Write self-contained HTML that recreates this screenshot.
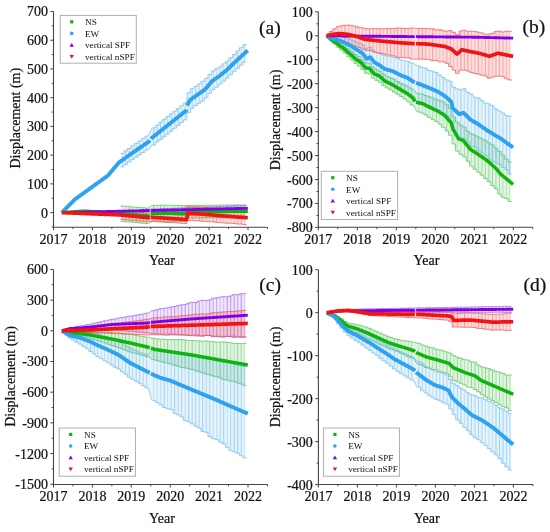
<!DOCTYPE html>
<html><head><meta charset="utf-8"><style>
html,body{margin:0;padding:0;background:#fff;width:550px;height:532px;overflow:hidden}
svg{display:block;filter:blur(0.3px)}
.tk{font-family:"Liberation Serif", serif;font-size:14px;fill:#111;stroke:#111;stroke-width:0.22px}
.lab{font-family:"Liberation Serif", serif;font-size:14px;fill:#111;stroke:#111;stroke-width:0.22px}
.pl{font-family:"Liberation Serif", serif;font-size:19.5px;fill:#111;stroke:#111;stroke-width:0.22px}
.lg{font-family:"Liberation Serif", serif;font-size:9.2px;fill:#111;}
</style></head><body>
<svg width="550" height="532" viewBox="0 0 550 532">
<rect width="550" height="532" fill="#fff"/>
<path d="M53.50,11.49 V227.20 H267.45" fill="none" stroke="#444" stroke-width="1.1"/>
<text x="47.90" y="217.60" text-anchor="end" class="tk">0</text>
<text x="47.90" y="188.87" text-anchor="end" class="tk">100</text>
<text x="47.90" y="160.14" text-anchor="end" class="tk">200</text>
<text x="47.90" y="131.41" text-anchor="end" class="tk">300</text>
<text x="47.90" y="102.68" text-anchor="end" class="tk">400</text>
<text x="47.90" y="73.95" text-anchor="end" class="tk">500</text>
<text x="47.90" y="45.22" text-anchor="end" class="tk">600</text>
<text x="47.90" y="16.49" text-anchor="end" class="tk">700</text>
<text x="53.50" y="243.50" text-anchor="middle" class="tk">2017</text>
<text x="92.40" y="243.50" text-anchor="middle" class="tk">2018</text>
<text x="131.30" y="243.50" text-anchor="middle" class="tk">2019</text>
<text x="170.20" y="243.50" text-anchor="middle" class="tk">2020</text>
<text x="209.10" y="243.50" text-anchor="middle" class="tk">2021</text>
<text x="248.00" y="243.50" text-anchor="middle" class="tk">2022</text>
<path d="M51.70,226.97H53.50M50.30,212.60H53.50M51.70,198.23H53.50M50.30,183.87H53.50M51.70,169.50H53.50M50.30,155.14H53.50M51.70,140.77H53.50M50.30,126.41H53.50M51.70,112.04H53.50M50.30,97.68H53.50M51.70,83.31H53.50M50.30,68.95H53.50M51.70,54.59H53.50M50.30,40.22H53.50M51.70,25.85H53.50M50.30,11.49H53.50M53.50,227.20V230.20M72.95,227.20V229.00M92.40,227.20V230.20M111.85,227.20V229.00M131.30,227.20V230.20M150.75,227.20V229.00M170.20,227.20V230.20M189.65,227.20V229.00M209.10,227.20V230.20M228.55,227.20V229.00M248.00,227.20V230.20M267.45,227.20V229.00" fill="none" stroke="#444" stroke-width="1"/>
<text x="162.00" y="265.00" text-anchor="middle" class="lab">Year</text>
<text transform="translate(19.60,118.20) rotate(-90)" text-anchor="middle" class="lab">Displacement (m)</text>
<text x="259.00" y="33.60" class="pl">(a)</text>
<polygon points="122.16,206.00 125.66,206.26 129.16,206.70 132.66,206.98 136.16,207.29 139.66,207.51 143.16,207.69 146.67,208.08 153.67,205.33 157.17,205.49 160.67,205.26 164.17,205.12 167.67,205.31 171.17,205.13 174.67,205.35 178.17,205.49 181.68,205.38 185.18,205.50 188.68,205.53 192.18,205.35 195.68,205.39 199.18,205.23 202.68,205.44 206.18,205.25 209.68,205.24 213.18,205.19 216.69,205.20 220.19,205.00 223.69,204.97 227.19,205.01 230.69,205.01 234.19,204.89 237.69,204.90 241.19,205.05 244.69,205.00 244.69,217.39 241.19,217.40 237.69,217.62 234.19,217.70 230.69,217.65 227.19,217.71 223.69,217.82 220.19,217.86 216.69,217.73 213.18,217.80 209.68,217.82 206.18,217.88 202.68,217.75 199.18,218.03 195.68,217.94 192.18,218.05 188.68,217.93 185.18,221.40 181.68,221.47 178.17,221.30 174.67,221.39 171.17,221.54 167.67,221.31 164.17,221.44 160.67,221.25 157.17,220.97 153.67,221.07 146.67,223.58 143.16,223.35 139.66,222.92 136.16,222.53 132.66,222.22 129.16,221.89 125.66,221.72 122.16,221.37" fill="rgba(0,170,0,0.12)"/>
<path d="M122.16,206.00V221.37M125.66,206.26V221.72M139.66,207.51V222.92M143.16,207.69V223.35M157.17,205.49V220.97M167.67,205.31V221.31M171.17,205.13V221.54M174.67,205.35V221.39M178.17,205.49V221.30M192.18,205.35V218.05M202.68,205.44V217.75M216.69,205.20V217.73M223.69,204.97V217.82M237.69,204.90V217.62" stroke="#7fcc7f" stroke-opacity="0.55" stroke-width="0.8" fill="none"/>
<path d="M209.68,205.24V217.82M213.18,205.19V217.80M230.69,205.01V217.65M234.19,204.89V217.70M241.19,205.05V217.40M244.69,205.00V217.39" stroke="#7fcc7f" stroke-opacity="0.8" stroke-width="0.8" fill="none"/>
<path d="M129.16,206.70V221.89M132.66,206.98V222.22M136.16,207.29V222.53M146.67,208.08V223.58M153.67,205.33V221.07M160.67,205.26V221.25M164.17,205.12V221.44M181.68,205.38V221.47M185.18,205.50V221.40M188.68,205.53V217.93M195.68,205.39V217.94M199.18,205.23V218.03M206.18,205.25V217.88M220.19,205.00V217.86M227.19,205.01V217.71" stroke="#7fcc7f" stroke-opacity="1.0" stroke-width="0.8" fill="none"/>
<path d="M120.41,206.00H123.91L123.91,206.26H127.41L127.41,206.70H130.91L130.91,206.98H134.41L134.41,207.29H137.91L137.91,207.51H141.41L141.41,207.69H144.91L144.91,208.08H148.42L151.92,205.33H155.42L155.42,205.49H158.92L158.92,205.26H162.42L162.42,205.12H165.92L165.92,205.31H169.42L169.42,205.13H172.92L172.92,205.35H176.42L176.42,205.49H179.92L179.92,205.38H183.43L183.43,205.50H186.93L186.93,205.53H190.43L190.43,205.35H193.93L193.93,205.39H197.43L197.43,205.23H200.93L200.93,205.44H204.43L204.43,205.25H207.93L207.93,205.24H211.43L211.43,205.19H214.93L214.93,205.20H218.44L218.44,205.00H221.94L221.94,204.97H225.44L225.44,205.01H228.94L228.94,205.01H232.44L232.44,204.89H235.94L235.94,204.90H239.44L239.44,205.05H242.94L242.94,205.00H246.44M120.41,221.37H123.91L123.91,221.72H127.41L127.41,221.89H130.91L130.91,222.22H134.41L134.41,222.53H137.91L137.91,222.92H141.41L141.41,223.35H144.91L144.91,223.58H148.42L151.92,221.07H155.42L155.42,220.97H158.92L158.92,221.25H162.42L162.42,221.44H165.92L165.92,221.31H169.42L169.42,221.54H172.92L172.92,221.39H176.42L176.42,221.30H179.92L179.92,221.47H183.43L183.43,221.40H186.93L186.93,217.93H190.43L190.43,218.05H193.93L193.93,217.94H197.43L197.43,218.03H200.93L200.93,217.75H204.43L204.43,217.88H207.93L207.93,217.82H211.43L211.43,217.80H214.93L214.93,217.73H218.44L218.44,217.86H221.94L221.94,217.82H225.44L225.44,217.71H228.94L228.94,217.65H232.44L232.44,217.70H235.94L235.94,217.62H239.44L239.44,217.40H242.94L242.94,217.39H246.44" stroke="#55c055" stroke-width="0.7" fill="none"/>
<polygon points="122.16,153.49 125.66,150.86 129.16,148.49 132.66,145.78 136.16,143.48 139.66,140.97 143.16,138.49 146.67,136.07 153.67,127.86 157.17,125.28 160.67,122.17 164.17,119.44 167.67,116.53 171.17,113.80 174.67,111.20 178.17,108.41 181.68,105.75 185.18,102.91 188.68,92.81 192.18,88.63 195.68,86.49 199.18,83.98 202.68,81.38 206.18,78.43 209.68,74.56 213.18,71.07 216.69,68.60 220.19,66.68 223.69,63.86 227.19,61.21 230.69,57.81 234.19,54.54 237.69,50.98 241.19,47.70 244.69,44.49 244.69,61.92 241.19,65.01 237.69,68.26 234.19,71.26 230.69,74.72 227.19,78.04 223.69,81.16 220.19,84.06 216.69,87.18 213.18,89.60 209.68,93.37 206.18,97.67 202.68,100.89 199.18,103.19 195.68,105.57 192.18,108.33 188.68,112.43 185.18,119.86 181.68,122.59 178.17,125.50 174.67,128.28 171.17,131.26 167.67,134.10 164.17,136.76 160.67,139.61 157.17,142.07 153.67,145.07 146.67,150.14 143.16,152.52 139.66,154.84 136.16,157.14 132.66,159.63 129.16,161.93 125.66,164.59 122.16,166.99" fill="rgba(40,160,230,0.12)"/>
<path d="M143.16,138.49V152.52M181.68,105.75V122.59M188.68,92.81V112.43M216.69,68.60V87.18M220.19,66.68V84.06M223.69,63.86V81.16M241.19,47.70V65.01" stroke="#88c6ee" stroke-opacity="0.55" stroke-width="0.8" fill="none"/>
<path d="M122.16,153.49V166.99M132.66,145.78V159.63M136.16,143.48V157.14M146.67,136.07V150.14M167.67,116.53V134.10M174.67,111.20V128.28M185.18,102.91V119.86M192.18,88.63V108.33M195.68,86.49V105.57M199.18,83.98V103.19M202.68,81.38V100.89M206.18,78.43V97.67M209.68,74.56V93.37M213.18,71.07V89.60M230.69,57.81V74.72M234.19,54.54V71.26" stroke="#88c6ee" stroke-opacity="0.8" stroke-width="0.8" fill="none"/>
<path d="M125.66,150.86V164.59M129.16,148.49V161.93M139.66,140.97V154.84M153.67,127.86V145.07M157.17,125.28V142.07M160.67,122.17V139.61M164.17,119.44V136.76M171.17,113.80V131.26M178.17,108.41V125.50M227.19,61.21V78.04M237.69,50.98V68.26M244.69,44.49V61.92" stroke="#88c6ee" stroke-opacity="1.0" stroke-width="0.8" fill="none"/>
<path d="M120.41,153.49H123.91L123.91,150.86H127.41L127.41,148.49H130.91L130.91,145.78H134.41L134.41,143.48H137.91L137.91,140.97H141.41L141.41,138.49H144.91L144.91,136.07H148.42L151.92,127.86H155.42L155.42,125.28H158.92L158.92,122.17H162.42L162.42,119.44H165.92L165.92,116.53H169.42L169.42,113.80H172.92L172.92,111.20H176.42L176.42,108.41H179.92L179.92,105.75H183.43L183.43,102.91H186.93L186.93,92.81H190.43L190.43,88.63H193.93L193.93,86.49H197.43L197.43,83.98H200.93L200.93,81.38H204.43L204.43,78.43H207.93L207.93,74.56H211.43L211.43,71.07H214.93L214.93,68.60H218.44L218.44,66.68H221.94L221.94,63.86H225.44L225.44,61.21H228.94L228.94,57.81H232.44L232.44,54.54H235.94L235.94,50.98H239.44L239.44,47.70H242.94L242.94,44.49H246.44M120.41,166.99H123.91L123.91,164.59H127.41L127.41,161.93H130.91L130.91,159.63H134.41L134.41,157.14H137.91L137.91,154.84H141.41L141.41,152.52H144.91L144.91,150.14H148.42L151.92,145.07H155.42L155.42,142.07H158.92L158.92,139.61H162.42L162.42,136.76H165.92L165.92,134.10H169.42L169.42,131.26H172.92L172.92,128.28H176.42L176.42,125.50H179.92L179.92,122.59H183.43L183.43,119.86H186.93L186.93,112.43H190.43L190.43,108.33H193.93L193.93,105.57H197.43L197.43,103.19H200.93L200.93,100.89H204.43L204.43,97.67H207.93L207.93,93.37H211.43L211.43,89.60H214.93L214.93,87.18H218.44L218.44,84.06H221.94L221.94,81.16H225.44L225.44,78.04H228.94L228.94,74.72H232.44L232.44,71.26H235.94L235.94,68.26H239.44L239.44,65.01H242.94L242.94,61.92H246.44" stroke="#6cbcec" stroke-width="0.7" fill="none"/>
<polygon points="143.16,209.46 146.67,209.33 153.67,209.00 157.17,208.91 160.67,208.80 164.17,208.59 167.67,208.50 171.17,208.41 174.67,208.20 178.17,208.12 181.68,208.00 185.18,207.86 188.68,207.71 192.18,207.55 195.68,207.39 199.18,207.23 202.68,207.13 206.18,207.02 209.68,206.91 213.18,206.75 216.69,206.64 220.19,206.47 223.69,206.30 227.19,206.18 230.69,206.13 234.19,205.97 237.69,205.73 241.19,205.68 244.69,205.51 244.69,211.22 241.19,211.21 237.69,211.33 234.19,211.25 230.69,211.25 227.19,211.37 223.69,211.40 220.19,211.40 216.69,211.39 213.18,211.44 209.68,211.45 206.18,211.50 202.68,211.55 199.18,211.61 195.68,211.61 192.18,211.61 188.68,211.62 185.18,211.63 181.68,211.65 178.17,211.69 174.67,211.77 171.17,211.73 167.67,211.80 164.17,211.88 160.67,211.82 157.17,211.87 153.67,211.95 146.67,211.94 143.16,211.97" fill="rgba(130,40,230,0.12)"/>
<path d="M157.17,208.91V211.87M171.17,208.41V211.73M181.68,208.00V211.65M192.18,207.55V211.61M199.18,207.23V211.61M206.18,207.02V211.50M209.68,206.91V211.45M216.69,206.64V211.39M220.19,206.47V211.40M227.19,206.18V211.37M234.19,205.97V211.25M241.19,205.68V211.21" stroke="#ad7cf0" stroke-opacity="0.55" stroke-width="0.8" fill="none"/>
<path d="M143.16,209.46V211.97M146.67,209.33V211.94M160.67,208.80V211.82M164.17,208.59V211.88M167.67,208.50V211.80M195.68,207.39V211.61M202.68,207.13V211.55M223.69,206.30V211.40M230.69,206.13V211.25M237.69,205.73V211.33M244.69,205.51V211.22" stroke="#ad7cf0" stroke-opacity="0.8" stroke-width="0.8" fill="none"/>
<path d="M153.67,209.00V211.95M174.67,208.20V211.77M178.17,208.12V211.69M185.18,207.86V211.63M188.68,207.71V211.62M213.18,206.75V211.44" stroke="#ad7cf0" stroke-opacity="1.0" stroke-width="0.8" fill="none"/>
<path d="M141.41,209.46H144.91L144.91,209.33H148.42L151.92,209.00H155.42L155.42,208.91H158.92L158.92,208.80H162.42L162.42,208.59H165.92L165.92,208.50H169.42L169.42,208.41H172.92L172.92,208.20H176.42L176.42,208.12H179.92L179.92,208.00H183.43L183.43,207.86H186.93L186.93,207.71H190.43L190.43,207.55H193.93L193.93,207.39H197.43L197.43,207.23H200.93L200.93,207.13H204.43L204.43,207.02H207.93L207.93,206.91H211.43L211.43,206.75H214.93L214.93,206.64H218.44L218.44,206.47H221.94L221.94,206.30H225.44L225.44,206.18H228.94L228.94,206.13H232.44L232.44,205.97H235.94L235.94,205.73H239.44L239.44,205.68H242.94L242.94,205.51H246.44M141.41,211.97H144.91L144.91,211.94H148.42L151.92,211.95H155.42L155.42,211.87H158.92L158.92,211.82H162.42L162.42,211.88H165.92L165.92,211.80H169.42L169.42,211.73H172.92L172.92,211.77H176.42L176.42,211.69H179.92L179.92,211.65H183.43L183.43,211.63H186.93L186.93,211.62H190.43L190.43,211.61H193.93L193.93,211.61H197.43L197.43,211.61H200.93L200.93,211.55H204.43L204.43,211.50H207.93L207.93,211.45H211.43L211.43,211.44H214.93L214.93,211.39H218.44L218.44,211.40H221.94L221.94,211.40H225.44L225.44,211.37H228.94L228.94,211.25H232.44L232.44,211.25H235.94L235.94,211.33H239.44L239.44,211.21H242.94L242.94,211.22H246.44" stroke="#9a60ee" stroke-width="0.7" fill="none"/>
<polygon points="122.16,210.86 125.66,211.08 129.16,211.66 132.66,211.98 136.16,212.31 139.66,212.59 143.16,212.89 146.67,213.23 153.67,213.15 157.17,213.38 160.67,213.60 164.17,213.88 167.67,214.08 171.17,214.35 174.67,214.76 178.17,214.93 181.68,215.08 185.18,215.33 188.68,206.39 192.18,206.89 195.68,206.77 199.18,207.00 202.68,207.06 206.18,207.39 209.68,207.86 213.18,208.39 216.69,208.44 220.19,208.71 223.69,209.11 227.19,209.20 230.69,209.79 234.19,209.94 237.69,210.01 241.19,210.47 244.69,210.49 244.69,224.56 241.19,224.06 237.69,224.01 234.19,223.56 230.69,223.19 227.19,223.26 223.69,222.84 220.19,222.71 216.69,222.36 213.18,221.79 209.68,221.69 206.18,221.54 202.68,221.25 199.18,220.88 195.68,220.81 192.18,220.39 188.68,220.59 185.18,223.49 181.68,223.29 178.17,222.99 174.67,222.71 171.17,222.67 167.67,222.48 164.17,222.24 160.67,222.07 157.17,221.84 153.67,221.62 146.67,221.82 143.16,221.48 139.66,221.10 136.16,220.70 132.66,220.35 129.16,219.99 125.66,219.89 122.16,219.43" fill="rgba(240,40,40,0.16)"/>
<path d="M129.16,211.66V219.99M132.66,211.98V220.35M153.67,213.15V221.62M157.17,213.38V221.84M181.68,215.08V223.29M185.18,215.33V223.49M188.68,206.39V220.59M195.68,206.77V220.81M206.18,207.39V221.54M209.68,207.86V221.69M220.19,208.71V222.71M223.69,209.11V222.84M227.19,209.20V223.26M230.69,209.79V223.19M234.19,209.94V223.56M244.69,210.49V224.56" stroke="#ee8888" stroke-opacity="0.55" stroke-width="0.8" fill="none"/>
<path d="M125.66,211.08V219.89M136.16,212.31V220.70M143.16,212.89V221.48M146.67,213.23V221.82M164.17,213.88V222.24M167.67,214.08V222.48M171.17,214.35V222.67M178.17,214.93V222.99M192.18,206.89V220.39M237.69,210.01V224.01M241.19,210.47V224.06" stroke="#ee8888" stroke-opacity="0.8" stroke-width="0.8" fill="none"/>
<path d="M122.16,210.86V219.43M139.66,212.59V221.10M160.67,213.60V222.07M174.67,214.76V222.71M199.18,207.00V220.88M202.68,207.06V221.25M213.18,208.39V221.79M216.69,208.44V222.36" stroke="#ee8888" stroke-opacity="1.0" stroke-width="0.8" fill="none"/>
<path d="M120.41,210.86H123.91L123.91,211.08H127.41L127.41,211.66H130.91L130.91,211.98H134.41L134.41,212.31H137.91L137.91,212.59H141.41L141.41,212.89H144.91L144.91,213.23H148.42L151.92,213.15H155.42L155.42,213.38H158.92L158.92,213.60H162.42L162.42,213.88H165.92L165.92,214.08H169.42L169.42,214.35H172.92L172.92,214.76H176.42L176.42,214.93H179.92L179.92,215.08H183.43L183.43,215.33H186.93L186.93,206.39H190.43L190.43,206.89H193.93L193.93,206.77H197.43L197.43,207.00H200.93L200.93,207.06H204.43L204.43,207.39H207.93L207.93,207.86H211.43L211.43,208.39H214.93L214.93,208.44H218.44L218.44,208.71H221.94L221.94,209.11H225.44L225.44,209.20H228.94L228.94,209.79H232.44L232.44,209.94H235.94L235.94,210.01H239.44L239.44,210.47H242.94L242.94,210.49H246.44M120.41,219.43H123.91L123.91,219.89H127.41L127.41,219.99H130.91L130.91,220.35H134.41L134.41,220.70H137.91L137.91,221.10H141.41L141.41,221.48H144.91L144.91,221.82H148.42L151.92,221.62H155.42L155.42,221.84H158.92L158.92,222.07H162.42L162.42,222.24H165.92L165.92,222.48H169.42L169.42,222.67H172.92L172.92,222.71H176.42L176.42,222.99H179.92L179.92,223.29H183.43L183.43,223.49H186.93L186.93,220.59H190.43L190.43,220.39H193.93L193.93,220.81H197.43L197.43,220.88H200.93L200.93,221.25H204.43L204.43,221.54H207.93L207.93,221.69H211.43L211.43,221.79H214.93L214.93,222.36H218.44L218.44,222.71H221.94L221.94,222.84H225.44L225.44,223.26H228.94L228.94,223.19H232.44L232.44,223.56H235.94L235.94,224.01H239.44L239.44,224.06H242.94L242.94,224.56H246.44" stroke="#ee5050" stroke-width="0.7" fill="none"/>
<polyline points="61.86,212.60 62.25,212.58 62.64,212.55 63.03,212.53 63.42,212.50 63.81,212.48 64.20,212.45 64.59,212.43 64.98,212.40 65.36,212.38 65.75,212.35 66.14,212.33 66.53,212.31 66.92,212.28 67.31,212.26 67.70,212.23 68.09,212.21 68.48,212.18 68.87,212.16 69.25,212.13 69.64,212.11 70.03,212.08 70.42,212.06 70.81,212.04 71.20,212.01 71.59,211.99 71.98,211.96 72.37,211.94 72.76,211.91 73.14,211.89 73.53,211.86 73.92,211.84 74.31,211.81 74.70,211.79 75.09,211.77 75.48,211.74 75.87,211.72 76.26,211.69 76.65,211.67 77.03,211.64 77.42,211.62 77.81,211.59 78.20,211.57 78.59,211.54 78.98,211.52 79.37,211.50 79.76,211.47 80.15,211.45 80.54,211.42 80.92,211.40 81.31,211.37 81.70,211.35 82.09,211.32 82.48,211.30 82.87,211.27 83.26,211.25 83.65,211.22 84.04,211.20 84.43,211.18 84.81,211.18 85.20,211.20 85.59,211.23 85.98,211.25 86.37,211.28 86.76,211.30 87.15,211.33 87.54,211.36 87.93,211.38 88.32,211.41 88.70,211.43 89.09,211.46 89.48,211.48 89.87,211.51 90.26,211.53 90.65,211.56 91.04,211.58 91.43,211.61 91.82,211.64 92.21,211.66 92.59,211.69 92.98,211.71 93.37,211.74 93.76,211.76 94.15,211.79 94.54,211.81 94.93,211.84 95.32,211.87 95.71,211.89 96.10,211.92 96.48,211.94 96.87,211.97 97.26,211.99 97.65,212.02 98.04,212.04 98.43,212.07 98.82,212.10 99.21,212.12 99.60,212.15 99.99,212.17 100.37,212.20 100.76,212.22 101.15,212.25 101.54,212.27 101.93,212.30 102.32,212.33 102.71,212.35 103.10,212.38 103.49,212.40 103.88,212.43 104.26,212.45 104.65,212.48 105.04,212.50 105.43,212.53 105.82,212.56 106.21,212.58 106.60,212.61 106.99,212.63 107.38,212.66 107.77,212.68 108.15,212.71 108.54,212.73 108.93,212.76 109.32,212.79 109.71,212.81 110.10,212.84 110.49,212.86 110.88,212.89 111.27,212.91 111.66,212.94 112.04,212.96 112.43,212.99 112.82,213.01 113.21,213.04 113.60,213.07 113.99,213.09 114.38,213.12 114.77,213.14 115.16,213.17 115.55,213.19 115.93,213.22 116.32,213.24 116.71,213.27 117.10,213.30 117.49,213.32 117.88,213.35 118.27,213.37 118.66,213.40 119.05,213.42 119.44,213.45 119.82,213.48 120.21,213.51 120.60,213.55 120.99,213.58 121.38,213.62 121.77,213.65 122.16,213.68 122.55,213.72 122.94,213.75 123.33,213.79 123.71,213.82 124.10,213.85 124.49,213.89 124.88,213.92 125.27,213.96 125.66,213.99 126.05,214.02 126.44,214.06 126.83,214.09 127.22,214.13 127.60,214.16 127.99,214.19 128.38,214.23 128.77,214.26 129.16,214.30 129.55,214.33 129.94,214.36 130.33,214.40 130.72,214.43 131.11,214.47 131.49,214.50 131.88,214.53 132.27,214.57 132.66,214.60 133.05,214.64 133.44,214.67 133.83,214.70 134.22,214.74 134.61,214.77 135.00,214.81 135.38,214.84 135.77,214.87 136.16,214.91 136.55,214.94 136.94,214.98 137.33,215.01 137.72,215.04 138.11,215.08 138.50,215.11 138.89,215.15 139.27,215.18 139.66,215.21 140.05,215.25 140.44,215.28 140.83,215.32 141.22,215.35 141.61,215.38 142.00,215.42 142.39,215.45 142.78,215.49 143.16,215.52 143.55,215.55 143.94,215.59 144.33,215.62 144.72,215.66 145.11,215.69 145.50,215.72 145.89,215.76 146.28,215.79 146.67,215.83 147.05,215.86 147.44,215.89 147.83,215.93 148.22,215.96 148.61,216.00 149.00,216.03 149.39,215.69 149.78,214.97" fill="none" stroke="#0db40d" stroke-width="3.5" stroke-linejoin="round" stroke-linecap="butt"/>
<polyline points="150.94,213.18 151.33,213.18 151.72,213.18 152.11,213.19 152.50,213.19 152.89,213.19 153.28,213.19 153.67,213.20 154.06,213.20 154.45,213.20 154.83,213.21 155.22,213.21 155.61,213.21 156.00,213.22 156.39,213.22 156.78,213.22 157.17,213.23 157.56,213.23 157.95,213.23 158.34,213.24 158.72,213.24 159.11,213.24 159.50,213.24 159.89,213.25 160.28,213.25 160.67,213.25 161.06,213.26 161.45,213.26 161.84,213.26 162.23,213.27 162.61,213.27 163.00,213.27 163.39,213.28 163.78,213.28 164.17,213.28 164.56,213.29 164.95,213.29 165.34,213.29 165.73,213.29 166.12,213.30 166.50,213.30 166.89,213.30 167.28,213.31 167.67,213.31 168.06,213.31 168.45,213.32 168.84,213.32 169.23,213.32 169.62,213.33 170.01,213.33 170.39,213.33 170.78,213.34 171.17,213.34 171.56,213.34 171.95,213.34 172.34,213.35 172.73,213.35 173.12,213.35 173.51,213.36 173.90,213.36 174.28,213.36 174.67,213.37 175.06,213.37 175.45,213.37 175.84,213.38 176.23,213.38 176.62,213.38 177.01,213.39 177.40,213.39 177.79,213.39 178.17,213.39 178.56,213.40 178.95,213.40 179.34,213.40 179.73,213.41 180.12,213.41 180.51,213.41 180.90,213.42 181.29,213.42 181.68,213.42 182.06,213.43 182.45,213.43 182.84,213.43 183.23,213.44 183.62,213.44 184.01,213.44 184.40,213.44 184.79,213.45 185.18,213.45 185.57,213.45 185.95,213.46 186.34,213.46 186.73,213.25 187.12,212.82 187.51,212.38 187.90,211.95 188.29,211.74 188.68,211.73 189.07,211.73 189.46,211.73 189.84,211.72 190.23,211.72 190.62,211.71 191.01,211.71 191.40,211.71 191.79,211.70 192.18,211.70 192.57,211.70 192.96,211.69 193.35,211.69 193.73,211.68 194.12,211.68 194.51,211.68 194.90,211.67 195.29,211.67 195.68,211.67 196.07,211.66 196.46,211.66 196.85,211.65 197.24,211.65 197.62,211.65 198.01,211.64 198.40,211.64 198.79,211.64 199.18,211.63 199.57,211.63 199.96,211.62 200.35,211.62 200.74,211.62 201.13,211.61 201.51,211.61 201.90,211.61 202.29,211.60 202.68,211.60 203.07,211.59 203.46,211.59 203.85,211.59 204.24,211.58 204.63,211.58 205.02,211.58 205.40,211.57 205.79,211.57 206.18,211.56 206.57,211.56 206.96,211.56 207.35,211.55 207.74,211.55 208.13,211.55 208.52,211.54 208.91,211.54 209.29,211.53 209.68,211.53 210.07,211.53 210.46,211.52 210.85,211.52 211.24,211.52 211.63,211.51 212.02,211.51 212.41,211.50 212.80,211.50 213.18,211.50 213.57,211.49 213.96,211.49 214.35,211.49 214.74,211.48 215.13,211.48 215.52,211.48 215.91,211.47 216.30,211.47 216.69,211.46 217.07,211.46 217.46,211.46 217.85,211.45 218.24,211.45 218.63,211.45 219.02,211.44 219.41,211.44 219.80,211.43 220.19,211.43 220.58,211.43 220.96,211.42 221.35,211.42 221.74,211.42 222.13,211.41 222.52,211.41 222.91,211.40 223.30,211.40 223.69,211.40 224.08,211.39 224.47,211.39 224.85,211.39 225.24,211.38 225.63,211.38 226.02,211.37 226.41,211.37 226.80,211.37 227.19,211.36 227.58,211.36 227.97,211.36 228.36,211.35 228.74,211.35 229.13,211.34 229.52,211.34 229.91,211.34 230.30,211.33 230.69,211.33 231.08,211.33 231.47,211.32 231.86,211.32 232.25,211.31 232.63,211.31 233.02,211.31 233.41,211.30 233.80,211.30 234.19,211.30 234.58,211.29 234.97,211.29 235.36,211.28 235.75,211.28 236.14,211.28 236.52,211.27 236.91,211.27 237.30,211.27 237.69,211.26 238.08,211.26 238.47,211.25 238.86,211.25 239.25,211.25 239.64,211.24 240.03,211.24 240.41,211.24 240.80,211.23 241.19,211.23 241.58,211.23 241.97,211.22 242.36,211.22 242.75,211.21 243.14,211.21 243.53,211.21 243.92,211.20 244.30,211.20 244.69,211.20 245.08,211.19 245.47,211.19 245.86,211.18 246.25,211.18 246.64,211.18 247.03,211.17 247.42,211.17 247.81,211.17" fill="none" stroke="#0db40d" stroke-width="3.5" stroke-linejoin="round" stroke-linecap="butt"/>
<polyline points="61.86,212.60 62.25,212.21 62.64,211.81 63.03,211.42 63.42,211.02 63.81,210.63 64.20,210.23 64.59,209.84 64.98,209.44 65.36,209.05 65.75,208.65 66.14,208.26 66.53,207.87 66.92,207.47 67.31,207.08 67.70,206.68 68.09,206.29 68.48,205.89 68.87,205.50 69.25,205.10 69.64,204.71 70.03,204.32 70.42,203.92 70.81,203.53 71.20,203.13 71.59,202.74 71.98,202.34 72.37,201.95 72.76,201.55 73.14,201.16 73.53,200.76 73.92,200.37 74.31,199.98 74.70,199.58 75.09,199.24 75.48,198.96 75.87,198.68 76.26,198.40 76.65,198.12 77.03,197.84 77.42,197.56 77.81,197.28 78.20,197.00 78.59,196.72 78.98,196.44 79.37,196.16 79.76,195.88 80.15,195.60 80.54,195.32 80.92,195.04 81.31,194.76 81.70,194.47 82.09,194.19 82.48,193.91 82.87,193.63 83.26,193.35 83.65,193.07 84.04,192.79 84.43,192.51 84.81,192.23 85.20,191.95 85.59,191.67 85.98,191.39 86.37,191.11 86.76,190.83 87.15,190.55 87.54,190.27 87.93,189.99 88.32,189.71 88.70,189.43 89.09,189.14 89.48,188.86 89.87,188.58 90.26,188.30 90.65,188.02 91.04,187.74 91.43,187.46 91.82,187.18 92.21,186.90 92.59,186.62 92.98,186.34 93.37,186.06 93.76,185.78 94.15,185.50 94.54,185.22 94.93,184.94 95.32,184.66 95.71,184.38 96.10,184.09 96.48,183.81 96.87,183.53 97.26,183.25 97.65,182.97 98.04,182.69 98.43,182.41 98.82,182.13 99.21,181.85 99.60,181.57 99.99,181.29 100.37,181.01 100.76,180.73 101.15,180.45 101.54,180.17 101.93,179.89 102.32,179.61 102.71,179.33 103.10,179.05 103.49,178.76 103.88,178.48 104.26,178.20 104.65,177.92 105.04,177.64 105.43,177.36 105.82,177.08 106.21,176.80 106.60,176.52 106.99,176.24 107.38,175.96 107.77,175.68 108.15,175.31 108.54,174.85 108.93,174.38 109.32,173.92 109.71,173.46 110.10,173.00 110.49,172.54 110.88,172.08 111.27,171.61 111.66,171.15 112.04,170.69 112.43,170.23 112.82,169.77 113.21,169.30 113.60,168.84 113.99,168.38 114.38,167.92 114.77,167.46 115.16,167.00 115.55,166.53 115.93,166.07 116.32,165.61 116.71,165.15 117.10,164.69 117.49,164.23 117.88,163.76 118.27,163.30 118.66,162.84 119.05,162.47 119.44,162.19 119.82,161.91 120.21,161.63 120.60,161.35 120.99,161.07 121.38,160.80 121.77,160.52 122.16,160.24 122.55,159.96 122.94,159.68 123.33,159.40 123.71,159.12 124.10,158.84 124.49,158.56 124.88,158.28 125.27,158.00 125.66,157.73 126.05,157.45 126.44,157.17 126.83,156.89 127.22,156.61 127.60,156.33 127.99,156.05 128.38,155.77 128.77,155.49 129.16,155.21 129.55,154.93 129.94,154.66 130.33,154.38 130.72,154.10 131.11,153.82 131.49,153.54 131.88,153.26 132.27,152.98 132.66,152.71 133.05,152.44 133.44,152.17 133.83,151.91 134.22,151.64 134.61,151.37 135.00,151.11 135.38,150.84 135.77,150.57 136.16,150.31 136.55,150.04 136.94,149.77 137.33,149.51 137.72,149.24 138.11,148.97 138.50,148.71 138.89,148.44 139.27,148.17 139.66,147.91 140.05,147.64 140.44,147.37 140.83,147.11 141.22,146.84 141.61,146.57 142.00,146.31 142.39,146.04 142.78,145.77 143.16,145.51 143.55,145.24 143.94,144.97 144.33,144.70 144.72,144.44 145.11,144.17 145.50,143.90 145.89,143.64 146.28,143.37 146.67,143.10 147.05,142.84 147.44,142.57 147.83,142.30 148.22,142.04 148.61,141.77 149.00,141.37 149.39,140.85 149.78,140.32" fill="none" stroke="#2ea2f0" stroke-width="3.9" stroke-linejoin="round" stroke-linecap="butt"/>
<polyline points="150.94,138.74 151.33,138.32 151.72,138.01 152.11,137.70 152.50,137.39 152.89,137.08 153.28,136.77 153.67,136.46 154.06,136.15 154.45,135.84 154.83,135.53 155.22,135.23 155.61,134.92 156.00,134.61 156.39,134.30 156.78,133.99 157.17,133.68 157.56,133.37 157.95,133.06 158.34,132.75 158.72,132.44 159.11,132.13 159.50,131.82 159.89,131.51 160.28,131.20 160.67,130.89 161.06,130.58 161.45,130.27 161.84,129.96 162.23,129.65 162.61,129.34 163.00,129.03 163.39,128.72 163.78,128.41 164.17,128.10 164.56,127.79 164.95,127.48 165.34,127.17 165.73,126.86 166.12,126.56 166.50,126.25 166.89,125.94 167.28,125.63 167.67,125.32 168.06,125.01 168.45,124.70 168.84,124.39 169.23,124.08 169.62,123.77 170.01,123.46 170.39,123.15 170.78,122.84 171.17,122.53 171.56,122.22 171.95,121.91 172.34,121.60 172.73,121.29 173.12,120.98 173.51,120.67 173.90,120.36 174.28,120.05 174.67,119.74 175.06,119.43 175.45,119.12 175.84,118.81 176.23,118.50 176.62,118.19 177.01,117.89 177.40,117.58 177.79,117.27 178.17,116.96 178.56,116.65 178.95,116.34 179.34,116.03 179.73,115.72 180.12,115.41 180.51,115.10 180.90,114.79 181.29,114.48 181.68,114.17 182.06,113.86 182.45,113.55 182.84,113.24 183.23,112.93 183.62,112.62 184.01,112.31 184.40,112.00 184.79,111.69 185.18,111.38 185.57,111.07 185.95,110.76 186.34,109.46" fill="none" stroke="#2ea2f0" stroke-width="3.9" stroke-linejoin="round" stroke-linecap="butt"/>
<polyline points="187.12,105.63 187.51,104.88 187.90,104.13 188.29,103.37 188.68,102.62 189.07,101.86 189.46,101.11 189.84,100.36 190.23,99.84 190.62,99.57 191.01,99.30 191.40,99.03 191.79,98.75 192.18,98.48 192.57,98.21 192.96,97.94 193.35,97.66 193.73,97.39 194.12,97.12 194.51,96.85 194.90,96.58 195.29,96.30 195.68,96.03 196.07,95.76 196.46,95.49 196.85,95.22 197.24,94.94 197.62,94.67 198.01,94.40 198.40,94.13 198.79,93.85 199.18,93.58 199.57,93.31 199.96,93.04 200.35,92.77 200.74,92.49 201.13,92.22 201.51,91.95 201.90,91.68 202.29,91.40 202.68,91.13 203.07,90.86 203.46,90.59 203.85,90.32 204.24,90.04 204.63,89.77 205.02,89.41 205.40,88.96 205.79,88.50 206.18,88.05 206.57,87.59 206.96,87.14 207.35,86.69 207.74,86.23 208.13,85.78 208.52,85.33 208.91,84.87 209.29,84.42 209.68,83.97 210.07,83.51 210.46,83.06 210.85,82.60 211.24,82.15 211.63,81.70 212.02,81.24 212.41,80.88 212.80,80.61 213.18,80.34 213.57,80.06 213.96,79.79 214.35,79.52 214.74,79.25 215.13,78.98 215.52,78.70 215.91,78.43 216.30,78.16 216.69,77.89 217.07,77.61 217.46,77.34 217.85,77.07 218.24,76.80 218.63,76.53 219.02,76.25 219.41,75.98 219.80,75.69 220.19,75.37 220.58,75.05 220.96,74.73 221.35,74.42 221.74,74.10 222.13,73.78 222.52,73.46 222.91,73.15 223.30,72.83 223.69,72.51 224.08,72.19 224.47,71.88 224.85,71.56 225.24,71.24 225.63,70.92 226.02,70.61 226.41,70.29 226.80,69.97 227.19,69.63 227.58,69.25 227.97,68.88 228.36,68.50 228.74,68.13 229.13,67.76 229.52,67.38 229.91,67.01 230.30,66.64 230.69,66.26 231.08,65.89 231.47,65.52 231.86,65.14 232.25,64.77 232.63,64.40 233.02,64.02 233.41,63.65 233.80,63.28 234.19,62.90 234.58,62.53 234.97,62.16 235.36,61.80 235.75,61.43 236.14,61.07 236.52,60.71 236.91,60.35 237.30,59.98 237.69,59.62 238.08,59.26 238.47,58.89 238.86,58.53 239.25,58.17 239.64,57.81 240.03,57.44 240.41,57.08 240.80,56.72 241.19,56.35 241.58,55.99 241.97,55.63 242.36,55.27 242.75,54.93 243.14,54.59 243.53,54.24 243.92,53.90 244.30,53.55 244.69,53.21 245.08,52.86 245.47,52.52 245.86,52.17 246.25,51.83 246.64,51.48 247.03,51.14 247.42,50.79 247.81,50.45" fill="none" stroke="#2ea2f0" stroke-width="3.9" stroke-linejoin="round" stroke-linecap="butt"/>
<polyline points="61.86,212.60 62.25,212.59 62.64,212.58 63.03,212.57 63.42,212.56 63.81,212.55 64.20,212.55 64.59,212.54 64.98,212.53 65.36,212.52 65.75,212.51 66.14,212.50 66.53,212.49 66.92,212.48 67.31,212.47 67.70,212.46 68.09,212.46 68.48,212.45 68.87,212.44 69.25,212.43 69.64,212.42 70.03,212.41 70.42,212.40 70.81,212.39 71.20,212.38 71.59,212.37 71.98,212.37 72.37,212.36 72.76,212.35 73.14,212.34 73.53,212.33 73.92,212.32 74.31,212.31 74.70,212.30 75.09,212.29 75.48,212.28 75.87,212.28 76.26,212.27 76.65,212.26 77.03,212.25 77.42,212.24 77.81,212.23 78.20,212.22 78.59,212.21 78.98,212.20 79.37,212.19 79.76,212.19 80.15,212.18 80.54,212.17 80.92,212.16 81.31,212.15 81.70,212.14 82.09,212.13 82.48,212.12 82.87,212.11 83.26,212.10 83.65,212.10 84.04,212.09 84.43,212.08 84.81,212.07 85.20,212.06 85.59,212.05 85.98,212.04 86.37,212.03 86.76,212.02 87.15,212.01 87.54,212.01 87.93,212.00 88.32,211.99 88.70,211.98 89.09,211.97 89.48,211.96 89.87,211.95 90.26,211.94 90.65,211.93 91.04,211.92 91.43,211.92 91.82,211.91 92.21,211.90 92.59,211.89 92.98,211.88 93.37,211.87 93.76,211.86 94.15,211.85 94.54,211.84 94.93,211.83 95.32,211.83 95.71,211.82 96.10,211.81 96.48,211.80 96.87,211.79 97.26,211.78 97.65,211.77 98.04,211.76 98.43,211.75 98.82,211.74 99.21,211.74 99.60,211.73 99.99,211.72 100.37,211.71 100.76,211.70 101.15,211.69 101.54,211.68 101.93,211.67 102.32,211.66 102.71,211.65 103.10,211.65 103.49,211.64 103.88,211.63 104.26,211.62 104.65,211.61 105.04,211.60 105.43,211.59 105.82,211.58 106.21,211.57 106.60,211.56 106.99,211.56 107.38,211.55 107.77,211.54 108.15,211.53 108.54,211.52 108.93,211.51 109.32,211.50 109.71,211.49 110.10,211.48 110.49,211.47 110.88,211.47 111.27,211.46 111.66,211.45 112.04,211.44 112.43,211.43 112.82,211.42 113.21,211.41 113.60,211.40 113.99,211.39 114.38,211.38 114.77,211.38 115.16,211.37 115.55,211.36 115.93,211.35 116.32,211.34 116.71,211.33 117.10,211.32 117.49,211.31 117.88,211.30 118.27,211.29 118.66,211.29 119.05,211.28 119.44,211.27 119.82,211.26 120.21,211.25 120.60,211.24 120.99,211.23 121.38,211.22 121.77,211.21 122.16,211.20 122.55,211.20 122.94,211.19 123.33,211.18 123.71,211.17 124.10,211.16 124.49,211.15 124.88,211.14 125.27,211.13 125.66,211.12 126.05,211.11 126.44,211.10 126.83,211.10 127.22,211.09 127.60,211.08 127.99,211.07 128.38,211.06 128.77,211.05 129.16,211.04 129.55,211.03 129.94,211.02 130.33,211.01 130.72,211.01 131.11,211.00 131.49,210.99 131.88,210.98 132.27,210.97 132.66,210.96 133.05,210.95 133.44,210.94 133.83,210.93 134.22,210.92 134.61,210.92 135.00,210.91 135.38,210.90 135.77,210.89 136.16,210.88 136.55,210.87 136.94,210.86 137.33,210.85 137.72,210.84 138.11,210.83 138.50,210.83 138.89,210.82 139.27,210.81 139.66,210.80 140.05,210.79 140.44,210.78 140.83,210.77 141.22,210.76 141.61,210.75 142.00,210.74 142.39,210.74 142.78,210.73 143.16,210.72 143.55,210.71 143.94,210.70 144.33,210.69 144.72,210.68 145.11,210.67 145.50,210.66 145.89,210.65 146.28,210.65 146.67,210.64 147.05,210.63 147.44,210.62 147.83,210.61 148.22,210.60 148.61,210.59 149.00,210.58 149.39,210.57 149.78,210.56" fill="none" stroke="#8200e6" stroke-width="2.9" stroke-linejoin="round" stroke-linecap="butt"/>
<polyline points="150.94,210.54 151.33,210.53 151.72,210.52 152.11,210.51 152.50,210.50 152.89,210.49 153.28,210.48 153.67,210.47 154.06,210.47 154.45,210.46 154.83,210.45 155.22,210.44 155.61,210.43 156.00,210.42 156.39,210.41 156.78,210.40 157.17,210.39 157.56,210.38 157.95,210.38 158.34,210.37 158.72,210.36 159.11,210.35 159.50,210.34 159.89,210.33 160.28,210.32 160.67,210.31 161.06,210.30 161.45,210.29 161.84,210.29 162.23,210.28 162.61,210.27 163.00,210.26 163.39,210.25 163.78,210.24 164.17,210.23 164.56,210.22 164.95,210.21 165.34,210.20 165.73,210.20 166.12,210.19 166.50,210.18 166.89,210.17 167.28,210.16 167.67,210.15 168.06,210.14 168.45,210.13 168.84,210.12 169.23,210.11 169.62,210.11 170.01,210.10 170.39,210.09 170.78,210.08 171.17,210.07 171.56,210.06 171.95,210.05 172.34,210.04 172.73,210.03 173.12,210.02 173.51,210.02 173.90,210.01 174.28,210.00 174.67,209.99 175.06,209.98 175.45,209.97 175.84,209.96 176.23,209.95 176.62,209.94 177.01,209.93 177.40,209.93 177.79,209.92 178.17,209.91 178.56,209.90 178.95,209.89 179.34,209.88 179.73,209.87 180.12,209.86 180.51,209.85 180.90,209.84 181.29,209.84 181.68,209.83 182.06,209.82 182.45,209.81 182.84,209.80 183.23,209.79 183.62,209.78 184.01,209.77 184.40,209.76 184.79,209.75 185.18,209.75 185.57,209.74 185.95,209.73 186.34,209.72 186.73,209.71 187.12,209.70 187.51,209.69 187.90,209.68 188.29,209.67 188.68,209.66 189.07,209.65 189.46,209.65 189.84,209.64 190.23,209.63 190.62,209.62 191.01,209.61 191.40,209.60 191.79,209.59 192.18,209.58 192.57,209.57 192.96,209.56 193.35,209.56 193.73,209.55 194.12,209.54 194.51,209.53 194.90,209.52 195.29,209.51 195.68,209.50 196.07,209.49 196.46,209.48 196.85,209.47 197.24,209.47 197.62,209.46 198.01,209.45 198.40,209.44 198.79,209.43 199.18,209.42 199.57,209.41 199.96,209.40 200.35,209.39 200.74,209.38 201.13,209.38 201.51,209.37 201.90,209.36 202.29,209.35 202.68,209.34 203.07,209.33 203.46,209.32 203.85,209.31 204.24,209.30 204.63,209.29 205.02,209.29 205.40,209.28 205.79,209.27 206.18,209.26 206.57,209.25 206.96,209.24 207.35,209.23 207.74,209.22 208.13,209.21 208.52,209.20 208.91,209.20 209.29,209.19 209.68,209.18 210.07,209.17 210.46,209.16 210.85,209.15 211.24,209.14 211.63,209.13 212.02,209.12 212.41,209.11 212.80,209.11 213.18,209.10 213.57,209.09 213.96,209.08 214.35,209.07 214.74,209.06 215.13,209.05 215.52,209.04 215.91,209.03 216.30,209.02 216.69,209.02 217.07,209.01 217.46,209.00 217.85,208.99 218.24,208.98 218.63,208.97 219.02,208.96 219.41,208.95 219.80,208.94 220.19,208.93 220.58,208.93 220.96,208.92 221.35,208.91 221.74,208.90 222.13,208.89 222.52,208.88 222.91,208.87 223.30,208.86 223.69,208.85 224.08,208.84 224.47,208.84 224.85,208.83 225.24,208.82 225.63,208.81 226.02,208.80 226.41,208.79 226.80,208.78 227.19,208.77 227.58,208.76 227.97,208.75 228.36,208.75 228.74,208.74 229.13,208.73 229.52,208.72 229.91,208.71 230.30,208.70 230.69,208.69 231.08,208.68 231.47,208.67 231.86,208.66 232.25,208.66 232.63,208.65 233.02,208.64 233.41,208.63 233.80,208.62 234.19,208.61 234.58,208.60 234.97,208.59 235.36,208.58 235.75,208.57 236.14,208.57 236.52,208.56 236.91,208.55 237.30,208.54 237.69,208.53 238.08,208.52 238.47,208.51 238.86,208.50 239.25,208.49 239.64,208.48 240.03,208.48 240.41,208.47 240.80,208.46 241.19,208.45 241.58,208.44 241.97,208.43 242.36,208.42 242.75,208.41 243.14,208.40 243.53,208.39 243.92,208.39 244.30,208.38 244.69,208.37 245.08,208.36 245.47,208.35 245.86,208.34 246.25,208.33 246.64,208.32 247.03,208.31 247.42,208.30 247.81,208.30" fill="none" stroke="#8200e6" stroke-width="2.9" stroke-linejoin="round" stroke-linecap="butt"/>
<polyline points="61.86,212.60 62.25,212.62 62.64,212.63 63.03,212.65 63.42,212.66 63.81,212.68 64.20,212.69 64.59,212.71 64.98,212.72 65.36,212.74 65.75,212.75 66.14,212.77 66.53,212.79 66.92,212.80 67.31,212.82 67.70,212.83 68.09,212.85 68.48,212.86 68.87,212.88 69.25,212.89 69.64,212.91 70.03,212.93 70.42,212.94 70.81,212.96 71.20,212.97 71.59,212.99 71.98,213.00 72.37,213.02 72.76,213.03 73.14,213.05 73.53,213.06 73.92,213.08 74.31,213.10 74.70,213.11 75.09,213.13 75.48,213.14 75.87,213.16 76.26,213.17 76.65,213.19 77.03,213.20 77.42,213.22 77.81,213.23 78.20,213.25 78.59,213.27 78.98,213.28 79.37,213.30 79.76,213.31 80.15,213.33 80.54,213.34 80.92,213.36 81.31,213.37 81.70,213.39 82.09,213.40 82.48,213.42 82.87,213.44 83.26,213.45 83.65,213.47 84.04,213.48 84.43,213.50 84.81,213.51 85.20,213.53 85.59,213.54 85.98,213.56 86.37,213.58 86.76,213.59 87.15,213.61 87.54,213.62 87.93,213.64 88.32,213.65 88.70,213.67 89.09,213.68 89.48,213.70 89.87,213.71 90.26,213.73 90.65,213.75 91.04,213.76 91.43,213.78 91.82,213.79 92.21,213.81 92.59,213.82 92.98,213.84 93.37,213.85 93.76,213.87 94.15,213.88 94.54,213.90 94.93,213.92 95.32,213.93 95.71,213.95 96.10,213.96 96.48,213.98 96.87,213.99 97.26,214.01 97.65,214.02 98.04,214.04 98.43,214.05 98.82,214.07 99.21,214.09 99.60,214.10 99.99,214.12 100.37,214.13 100.76,214.15 101.15,214.16 101.54,214.18 101.93,214.19 102.32,214.21 102.71,214.23 103.10,214.24 103.49,214.26 103.88,214.27 104.26,214.29 104.65,214.30 105.04,214.32 105.43,214.33 105.82,214.35 106.21,214.36 106.60,214.38 106.99,214.40 107.38,214.41 107.77,214.43 108.15,214.44 108.54,214.46 108.93,214.47 109.32,214.49 109.71,214.50 110.10,214.52 110.49,214.53 110.88,214.55 111.27,214.57 111.66,214.58 112.04,214.60 112.43,214.61 112.82,214.63 113.21,214.64 113.60,214.66 113.99,214.67 114.38,214.69 114.77,214.70 115.16,214.72 115.55,214.74 115.93,214.75 116.32,214.77 116.71,214.78 117.10,214.80 117.49,214.81 117.88,214.83 118.27,214.84 118.66,214.86 119.05,214.88 119.44,214.89 119.82,214.92 120.21,214.96 120.60,214.99 120.99,215.03 121.38,215.07 121.77,215.11 122.16,215.14 122.55,215.18 122.94,215.22 123.33,215.26 123.71,215.30 124.10,215.33 124.49,215.37 124.88,215.41 125.27,215.45 125.66,215.48 126.05,215.52 126.44,215.56 126.83,215.60 127.22,215.64 127.60,215.67 127.99,215.71 128.38,215.75 128.77,215.79 129.16,215.82 129.55,215.86 129.94,215.90 130.33,215.94 130.72,215.98 131.11,216.01 131.49,216.05 131.88,216.09 132.27,216.13 132.66,216.16 133.05,216.20 133.44,216.24 133.83,216.28 134.22,216.32 134.61,216.35 135.00,216.39 135.38,216.43 135.77,216.47 136.16,216.51 136.55,216.54 136.94,216.58 137.33,216.62 137.72,216.66 138.11,216.69 138.50,216.73 138.89,216.77 139.27,216.81 139.66,216.85 140.05,216.88 140.44,216.92 140.83,216.96 141.22,217.00 141.61,217.03 142.00,217.07 142.39,217.11 142.78,217.15 143.16,217.19 143.55,217.22 143.94,217.26 144.33,217.30 144.72,217.34 145.11,217.37 145.50,217.41 145.89,217.45 146.28,217.49 146.67,217.53 147.05,217.56 147.44,217.60 147.83,217.64 148.22,217.68 148.61,217.71 149.00,217.75 149.39,217.70 149.78,217.56" fill="none" stroke="#f01414" stroke-width="3.7" stroke-linejoin="round" stroke-linecap="butt"/>
<polyline points="150.94,217.21 151.33,217.23 151.72,217.26 152.11,217.28 152.50,217.31 152.89,217.33 153.28,217.36 153.67,217.38 154.06,217.41 154.45,217.43 154.83,217.46 155.22,217.48 155.61,217.51 156.00,217.53 156.39,217.56 156.78,217.58 157.17,217.61 157.56,217.63 157.95,217.66 158.34,217.68 158.72,217.71 159.11,217.73 159.50,217.76 159.89,217.78 160.28,217.81 160.67,217.83 161.06,217.86 161.45,217.88 161.84,217.91 162.23,217.93 162.61,217.96 163.00,217.98 163.39,218.01 163.78,218.03 164.17,218.06 164.56,218.08 164.95,218.11 165.34,218.13 165.73,218.16 166.12,218.18 166.50,218.21 166.89,218.23 167.28,218.26 167.67,218.28 168.06,218.31 168.45,218.33 168.84,218.36 169.23,218.38 169.62,218.41 170.01,218.43 170.39,218.46 170.78,218.48 171.17,218.51 171.56,218.53 171.95,218.56 172.34,218.58 172.73,218.61 173.12,218.63 173.51,218.66 173.90,218.68 174.28,218.71 174.67,218.73 175.06,218.76 175.45,218.78 175.84,218.81 176.23,218.83 176.62,218.86 177.01,218.88 177.40,218.91 177.79,218.93 178.17,218.96 178.56,218.98 178.95,219.01 179.34,219.03 179.73,219.06 180.12,219.08 180.51,219.11 180.90,219.13 181.29,219.16 181.68,219.18 182.06,219.21 182.45,219.23 182.84,219.26 183.23,219.28 183.62,219.31 184.01,219.33 184.40,219.36 184.79,219.38 185.18,219.41 185.57,219.43 185.95,219.46 186.34,219.48 186.73,218.74 187.12,217.23 187.51,215.72 187.90,214.22 188.29,213.47 188.68,213.49 189.07,213.50 189.46,213.52 189.84,213.54 190.23,213.55 190.62,213.57 191.01,213.59 191.40,213.61 191.79,213.62 192.18,213.64 192.57,213.66 192.96,213.67 193.35,213.69 193.73,213.71 194.12,213.72 194.51,213.74 194.90,213.76 195.29,213.77 195.68,213.79 196.07,213.81 196.46,213.83 196.85,213.84 197.24,213.86 197.62,213.88 198.01,213.89 198.40,213.91 198.79,213.93 199.18,213.94 199.57,213.96 199.96,213.98 200.35,213.99 200.74,214.01 201.13,214.03 201.51,214.05 201.90,214.09 202.29,214.12 202.68,214.16 203.07,214.19 203.46,214.23 203.85,214.26 204.24,214.30 204.63,214.33 205.02,214.36 205.40,214.40 205.79,214.43 206.18,214.47 206.57,214.50 206.96,214.54 207.35,214.57 207.74,214.61 208.13,214.64 208.52,214.67 208.91,214.71 209.29,214.74 209.68,214.78 210.07,214.81 210.46,214.85 210.85,214.88 211.24,214.92 211.63,214.95 212.02,214.98 212.41,215.02 212.80,215.05 213.18,215.09 213.57,215.12 213.96,215.16 214.35,215.19 214.74,215.23 215.13,215.26 215.52,215.29 215.91,215.33 216.30,215.36 216.69,215.40 217.07,215.43 217.46,215.47 217.85,215.50 218.24,215.54 218.63,215.57 219.02,215.61 219.41,215.64 219.80,215.67 220.19,215.71 220.58,215.74 220.96,215.77 221.35,215.80 221.74,215.83 222.13,215.86 222.52,215.89 222.91,215.92 223.30,215.95 223.69,215.98 224.08,216.00 224.47,216.03 224.85,216.06 225.24,216.09 225.63,216.12 226.02,216.15 226.41,216.18 226.80,216.21 227.19,216.23 227.58,216.26 227.97,216.29 228.36,216.32 228.74,216.35 229.13,216.38 229.52,216.41 229.91,216.44 230.30,216.46 230.69,216.49 231.08,216.52 231.47,216.55 231.86,216.58 232.25,216.61 232.63,216.64 233.02,216.67 233.41,216.69 233.80,216.72 234.19,216.75 234.58,216.78 234.97,216.81 235.36,216.84 235.75,216.87 236.14,216.90 236.52,216.92 236.91,216.95 237.30,216.98 237.69,217.01 238.08,217.04 238.47,217.07 238.86,217.10 239.25,217.12 239.64,217.15 240.03,217.18 240.41,217.21 240.80,217.24 241.19,217.27 241.58,217.30 241.97,217.33 242.36,217.35 242.75,217.38 243.14,217.41 243.53,217.44 243.92,217.47 244.30,217.50 244.69,217.53 245.08,217.56 245.47,217.58 245.86,217.61 246.25,217.64 246.64,217.67 247.03,217.70 247.42,217.73 247.81,217.76" fill="none" stroke="#f01414" stroke-width="3.7" stroke-linejoin="round" stroke-linecap="butt"/>
<rect x="60.20" y="15.40" width="76.10" height="47.80" fill="none" stroke="#b0b0b0" stroke-width="1"/>
<rect x="70.10" y="20.20" width="3.2" height="3.2" fill="#0db40d"/>
<text x="85.00" y="25.00" class="lg">NS</text>
<circle cx="71.70" cy="33.40" r="1.8" fill="#2ea2f0"/>
<text x="85.00" y="36.60" class="lg">EW</text>
<path d="M69.50,46.70L73.90,46.70L71.70,42.90Z" fill="#8200e6"/>
<text x="85.00" y="48.20" class="lg">vertical SPF</text>
<path d="M69.50,54.90L73.90,54.90L71.70,58.70Z" fill="#f01414"/>
<text x="85.00" y="59.80" class="lg">vertical nSPF</text>
<path d="M318.30,11.80 V227.30 H532.80" fill="none" stroke="#444" stroke-width="1.1"/>
<text x="312.70" y="232.44" text-anchor="end" class="tk">-800</text>
<text x="312.70" y="208.48" text-anchor="end" class="tk">-700</text>
<text x="312.70" y="184.52" text-anchor="end" class="tk">-600</text>
<text x="312.70" y="160.56" text-anchor="end" class="tk">-500</text>
<text x="312.70" y="136.60" text-anchor="end" class="tk">-400</text>
<text x="312.70" y="112.64" text-anchor="end" class="tk">-300</text>
<text x="312.70" y="88.68" text-anchor="end" class="tk">-200</text>
<text x="312.70" y="64.72" text-anchor="end" class="tk">-100</text>
<text x="312.70" y="40.76" text-anchor="end" class="tk">0</text>
<text x="312.70" y="16.80" text-anchor="end" class="tk">100</text>
<text x="318.30" y="243.60" text-anchor="middle" class="tk">2017</text>
<text x="357.30" y="243.60" text-anchor="middle" class="tk">2018</text>
<text x="396.30" y="243.60" text-anchor="middle" class="tk">2019</text>
<text x="435.30" y="243.60" text-anchor="middle" class="tk">2020</text>
<text x="474.30" y="243.60" text-anchor="middle" class="tk">2021</text>
<text x="513.30" y="243.60" text-anchor="middle" class="tk">2022</text>
<path d="M315.10,227.44H318.30M316.50,215.46H318.30M315.10,203.48H318.30M316.50,191.50H318.30M315.10,179.52H318.30M316.50,167.54H318.30M315.10,155.56H318.30M316.50,143.58H318.30M315.10,131.60H318.30M316.50,119.62H318.30M315.10,107.64H318.30M316.50,95.66H318.30M315.10,83.68H318.30M316.50,71.70H318.30M315.10,59.72H318.30M316.50,47.74H318.30M315.10,35.76H318.30M316.50,23.78H318.30M315.10,11.80H318.30M318.30,227.30V230.30M337.80,227.30V229.10M357.30,227.30V230.30M376.80,227.30V229.10M396.30,227.30V230.30M415.80,227.30V229.10M435.30,227.30V230.30M454.80,227.30V229.10M474.30,227.30V230.30M493.80,227.30V229.10M513.30,227.30V230.30M532.80,227.30V229.10" fill="none" stroke="#444" stroke-width="1"/>
<text x="426.50" y="265.00" text-anchor="middle" class="lab">Year</text>
<text transform="translate(280.20,120.00) rotate(-90)" text-anchor="middle" class="lab">Displacement (m)</text>
<text x="522.60" y="33.40" class="pl">(b)</text>
<polygon points="330.97,37.87 334.48,39.65 337.99,41.47 341.50,43.73 345.01,45.97 348.52,48.81 352.03,51.42 355.54,54.38 359.05,56.31 362.56,59.41 366.07,62.75 369.58,63.28 373.09,67.01 376.60,69.40 380.11,71.12 383.62,73.99 387.13,76.31 390.64,77.75 394.15,79.31 397.66,81.50 401.17,83.49 404.68,85.00 408.19,86.74 411.70,88.95 418.72,93.82 422.23,94.03 425.74,95.52 429.25,96.83 432.76,97.83 436.27,99.34 439.78,100.71 443.29,102.04 446.80,104.65 450.31,108.43 453.82,116.98 457.33,122.15 460.84,124.93 464.35,127.11 467.86,131.24 471.37,133.82 474.88,135.29 478.39,136.99 481.90,138.73 485.41,140.37 488.92,142.73 492.43,144.92 495.94,148.19 499.45,151.43 502.96,154.87 506.47,159.20 509.98,162.09 509.98,201.49 506.47,198.59 502.96,197.25 499.45,194.07 495.94,188.72 492.43,185.70 488.92,181.59 485.41,178.40 481.90,175.21 478.39,172.11 474.88,169.19 471.37,166.11 467.86,161.19 464.35,156.70 460.84,154.33 457.33,151.11 453.82,143.96 450.31,135.27 446.80,130.96 443.29,127.26 439.78,124.05 436.27,121.39 432.76,119.67 429.25,117.37 425.74,115.04 422.23,113.02 418.72,111.88 411.70,104.91 408.19,101.65 404.68,99.07 401.17,96.49 397.66,94.25 394.15,92.13 390.64,89.90 387.13,87.89 383.62,85.64 380.11,82.18 376.60,80.33 373.09,78.08 369.58,73.86 366.07,73.13 362.56,69.44 359.05,66.10 355.54,63.43 352.03,60.03 348.52,56.85 345.01,53.15 341.50,50.07 337.99,47.23 334.48,44.09 330.97,40.80" fill="rgba(0,170,0,0.12)"/>
<path d="M341.50,43.73V50.07M345.01,45.97V53.15M348.52,48.81V56.85M352.03,51.42V60.03M359.05,56.31V66.10M369.58,63.28V73.86M373.09,67.01V78.08M380.11,71.12V82.18M387.13,76.31V87.89M408.19,86.74V101.65M418.72,93.82V111.88M422.23,94.03V113.02M429.25,96.83V117.37M439.78,100.71V124.05M443.29,102.04V127.26M450.31,108.43V135.27M453.82,116.98V143.96M457.33,122.15V151.11M460.84,124.93V154.33M471.37,133.82V166.11M502.96,154.87V197.25M506.47,159.20V198.59M509.98,162.09V201.49" stroke="#7fcc7f" stroke-opacity="0.55" stroke-width="0.8" fill="none"/>
<path d="M330.97,37.87V40.80M355.54,54.38V63.43M362.56,59.41V69.44M376.60,69.40V80.33M404.68,85.00V99.07M411.70,88.95V104.91M425.74,95.52V115.04M432.76,97.83V119.67M464.35,127.11V156.70M478.39,136.99V172.11M481.90,138.73V175.21M485.41,140.37V178.40M495.94,148.19V188.72M499.45,151.43V194.07" stroke="#7fcc7f" stroke-opacity="0.8" stroke-width="0.8" fill="none"/>
<path d="M334.48,39.65V44.09M337.99,41.47V47.23M366.07,62.75V73.13M383.62,73.99V85.64M390.64,77.75V89.90M394.15,79.31V92.13M397.66,81.50V94.25M401.17,83.49V96.49M436.27,99.34V121.39M446.80,104.65V130.96M467.86,131.24V161.19M474.88,135.29V169.19M488.92,142.73V181.59M492.43,144.92V185.70" stroke="#7fcc7f" stroke-opacity="1.0" stroke-width="0.8" fill="none"/>
<path d="M329.22,37.87H332.73L332.73,39.65H336.24L336.24,41.47H339.75L339.75,43.73H343.26L343.26,45.97H346.77L346.77,48.81H350.28L350.28,51.42H353.79L353.79,54.38H357.30L357.30,56.31H360.81L360.81,59.41H364.32L364.32,62.75H367.83L367.83,63.28H371.34L371.34,67.01H374.85L374.85,69.40H378.36L378.36,71.12H381.87L381.87,73.99H385.38L385.38,76.31H388.89L388.89,77.75H392.40L392.40,79.31H395.91L395.91,81.50H399.42L399.42,83.49H402.93L402.93,85.00H406.44L406.44,86.74H409.95L409.95,88.95H413.46L416.97,93.82H420.48L420.48,94.03H423.99L423.99,95.52H427.50L427.50,96.83H431.01L431.01,97.83H434.52L434.52,99.34H438.03L438.03,100.71H441.54L441.54,102.04H445.05L445.05,104.65H448.56L448.56,108.43H452.07L452.07,116.98H455.58L455.58,122.15H459.09L459.09,124.93H462.60L462.60,127.11H466.11L466.11,131.24H469.62L469.62,133.82H473.13L473.13,135.29H476.64L476.64,136.99H480.15L480.15,138.73H483.66L483.66,140.37H487.17L487.17,142.73H490.68L490.68,144.92H494.19L494.19,148.19H497.70L497.70,151.43H501.21L501.21,154.87H504.72L504.72,159.20H508.23L508.23,162.09H511.74M329.22,40.80H332.73L332.73,44.09H336.24L336.24,47.23H339.75L339.75,50.07H343.26L343.26,53.15H346.77L346.77,56.85H350.28L350.28,60.03H353.79L353.79,63.43H357.30L357.30,66.10H360.81L360.81,69.44H364.32L364.32,73.13H367.83L367.83,73.86H371.34L371.34,78.08H374.85L374.85,80.33H378.36L378.36,82.18H381.87L381.87,85.64H385.38L385.38,87.89H388.89L388.89,89.90H392.40L392.40,92.13H395.91L395.91,94.25H399.42L399.42,96.49H402.93L402.93,99.07H406.44L406.44,101.65H409.95L409.95,104.91H413.46L416.97,111.88H420.48L420.48,113.02H423.99L423.99,115.04H427.50L427.50,117.37H431.01L431.01,119.67H434.52L434.52,121.39H438.03L438.03,124.05H441.54L441.54,127.26H445.05L445.05,130.96H448.56L448.56,135.27H452.07L452.07,143.96H455.58L455.58,151.11H459.09L459.09,154.33H462.60L462.60,156.70H466.11L466.11,161.19H469.62L469.62,166.11H473.13L473.13,169.19H476.64L476.64,172.11H480.15L480.15,175.21H483.66L483.66,178.40H487.17L487.17,181.59H490.68L490.68,185.70H494.19L494.19,188.72H497.70L497.70,194.07H501.21L501.21,197.25H504.72L504.72,198.59H508.23L508.23,201.49H511.74" stroke="#55c055" stroke-width="0.7" fill="none"/>
<polygon points="330.97,36.00 334.48,36.39 337.99,36.33 341.50,36.54 345.01,37.44 348.52,38.25 352.03,39.89 355.54,41.57 359.05,42.84 362.56,44.73 366.07,48.46 369.58,47.22 373.09,50.13 376.60,52.43 380.11,53.66 383.62,55.07 387.13,56.04 390.64,56.63 394.15,57.38 397.66,58.19 401.17,59.86 404.68,60.79 408.19,61.38 411.70,63.00 418.72,65.89 422.23,67.43 425.74,68.21 429.25,70.52 432.76,71.27 436.27,72.51 439.78,74.96 443.29,77.52 446.80,79.86 450.31,81.27 453.82,87.07 457.33,88.85 460.84,89.80 464.35,88.74 467.86,92.33 471.37,94.16 474.88,97.31 478.39,97.95 481.90,100.49 485.41,103.09 488.92,103.89 492.43,105.69 495.94,108.86 499.45,110.98 502.96,112.99 506.47,115.62 509.98,116.37 509.98,174.12 506.47,169.78 502.96,167.31 499.45,164.56 495.94,162.73 492.43,161.58 488.92,159.07 485.41,155.30 481.90,153.07 478.39,150.77 474.88,147.14 471.37,146.21 467.86,141.89 464.35,138.53 460.84,137.72 457.33,135.90 453.82,131.21 450.31,120.71 446.80,115.65 443.29,112.61 439.78,110.85 436.27,109.49 432.76,107.71 429.25,105.46 425.74,104.81 422.23,102.67 418.72,101.71 411.70,98.22 408.19,95.24 404.68,92.73 401.17,90.86 397.66,89.24 394.15,86.46 390.64,84.63 387.13,83.28 383.62,81.15 380.11,77.69 376.60,74.70 373.09,71.22 369.58,67.67 366.07,67.14 362.56,62.25 359.05,59.38 355.54,56.10 352.03,53.44 348.52,50.76 345.01,48.24 341.50,46.19 337.99,44.01 334.48,41.90 330.97,39.60" fill="rgba(40,160,230,0.12)"/>
<path d="M330.97,36.00V39.60M334.48,36.39V41.90M355.54,41.57V56.10M359.05,42.84V59.38M362.56,44.73V62.25M366.07,48.46V67.14M373.09,50.13V71.22M376.60,52.43V74.70M390.64,56.63V84.63M394.15,57.38V86.46M397.66,58.19V89.24M401.17,59.86V90.86M429.25,70.52V105.46M457.33,88.85V135.90M464.35,88.74V138.53M471.37,94.16V146.21M481.90,100.49V153.07M499.45,110.98V164.56" stroke="#88c6ee" stroke-opacity="0.55" stroke-width="0.8" fill="none"/>
<path d="M341.50,36.54V46.19M352.03,39.89V53.44M369.58,47.22V67.67M380.11,53.66V77.69M383.62,55.07V81.15M387.13,56.04V83.28M404.68,60.79V92.73M411.70,63.00V98.22M422.23,67.43V102.67M425.74,68.21V104.81M439.78,74.96V110.85M446.80,79.86V115.65M450.31,81.27V120.71M453.82,87.07V131.21M467.86,92.33V141.89M478.39,97.95V150.77M485.41,103.09V155.30M495.94,108.86V162.73M502.96,112.99V167.31M506.47,115.62V169.78" stroke="#88c6ee" stroke-opacity="0.8" stroke-width="0.8" fill="none"/>
<path d="M337.99,36.33V44.01M345.01,37.44V48.24M348.52,38.25V50.76M408.19,61.38V95.24M418.72,65.89V101.71M432.76,71.27V107.71M436.27,72.51V109.49M443.29,77.52V112.61M460.84,89.80V137.72M474.88,97.31V147.14M488.92,103.89V159.07M492.43,105.69V161.58M509.98,116.37V174.12" stroke="#88c6ee" stroke-opacity="1.0" stroke-width="0.8" fill="none"/>
<path d="M329.22,36.00H332.73L332.73,36.39H336.24L336.24,36.33H339.75L339.75,36.54H343.26L343.26,37.44H346.77L346.77,38.25H350.28L350.28,39.89H353.79L353.79,41.57H357.30L357.30,42.84H360.81L360.81,44.73H364.32L364.32,48.46H367.83L367.83,47.22H371.34L371.34,50.13H374.85L374.85,52.43H378.36L378.36,53.66H381.87L381.87,55.07H385.38L385.38,56.04H388.89L388.89,56.63H392.40L392.40,57.38H395.91L395.91,58.19H399.42L399.42,59.86H402.93L402.93,60.79H406.44L406.44,61.38H409.95L409.95,63.00H413.46L416.97,65.89H420.48L420.48,67.43H423.99L423.99,68.21H427.50L427.50,70.52H431.01L431.01,71.27H434.52L434.52,72.51H438.03L438.03,74.96H441.54L441.54,77.52H445.05L445.05,79.86H448.56L448.56,81.27H452.07L452.07,87.07H455.58L455.58,88.85H459.09L459.09,89.80H462.60L462.60,88.74H466.11L466.11,92.33H469.62L469.62,94.16H473.13L473.13,97.31H476.64L476.64,97.95H480.15L480.15,100.49H483.66L483.66,103.09H487.17L487.17,103.89H490.68L490.68,105.69H494.19L494.19,108.86H497.70L497.70,110.98H501.21L501.21,112.99H504.72L504.72,115.62H508.23L508.23,116.37H511.74M329.22,39.60H332.73L332.73,41.90H336.24L336.24,44.01H339.75L339.75,46.19H343.26L343.26,48.24H346.77L346.77,50.76H350.28L350.28,53.44H353.79L353.79,56.10H357.30L357.30,59.38H360.81L360.81,62.25H364.32L364.32,67.14H367.83L367.83,67.67H371.34L371.34,71.22H374.85L374.85,74.70H378.36L378.36,77.69H381.87L381.87,81.15H385.38L385.38,83.28H388.89L388.89,84.63H392.40L392.40,86.46H395.91L395.91,89.24H399.42L399.42,90.86H402.93L402.93,92.73H406.44L406.44,95.24H409.95L409.95,98.22H413.46L416.97,101.71H420.48L420.48,102.67H423.99L423.99,104.81H427.50L427.50,105.46H431.01L431.01,107.71H434.52L434.52,109.49H438.03L438.03,110.85H441.54L441.54,112.61H445.05L445.05,115.65H448.56L448.56,120.71H452.07L452.07,131.21H455.58L455.58,135.90H459.09L459.09,137.72H462.60L462.60,138.53H466.11L466.11,141.89H469.62L469.62,146.21H473.13L473.13,147.14H476.64L476.64,150.77H480.15L480.15,153.07H483.66L483.66,155.30H487.17L487.17,159.07H490.68L490.68,161.58H494.19L494.19,162.73H497.70L497.70,164.56H501.21L501.21,167.31H504.72L504.72,169.78H508.23L508.23,174.12H511.74" stroke="#6cbcec" stroke-width="0.7" fill="none"/>
<polygon points="327.46,34.32 330.97,31.44 334.48,28.86 337.99,26.59 341.50,25.78 345.01,25.22 348.52,25.07 352.03,25.71 355.54,26.22 359.05,27.39 362.56,27.89 366.07,28.61 369.58,29.03 373.09,28.60 376.60,28.60 380.11,28.77 383.62,28.79 387.13,28.39 390.64,28.59 394.15,28.50 397.66,27.93 401.17,28.15 404.68,28.46 408.19,28.68 411.70,28.01 418.72,28.36 422.23,28.55 425.74,28.57 429.25,28.87 432.76,28.77 436.27,29.95 439.78,29.70 443.29,30.75 446.80,31.10 450.31,30.60 453.82,32.39 457.33,34.73 460.84,31.04 464.35,30.38 467.86,31.19 471.37,31.21 474.88,31.44 478.39,32.17 481.90,32.93 485.41,34.21 488.92,34.10 492.43,33.37 495.94,31.58 499.45,31.09 502.96,31.93 506.47,31.16 509.98,31.41 509.98,80.00 506.47,78.85 502.96,76.68 499.45,76.11 495.94,76.26 492.43,77.14 488.92,78.27 485.41,76.01 481.90,75.13 478.39,74.14 474.88,73.52 471.37,72.40 467.86,71.07 464.35,70.18 460.84,70.17 457.33,73.31 453.82,70.06 450.31,66.52 446.80,63.33 443.29,61.83 439.78,61.85 436.27,60.58 432.76,60.74 429.25,59.71 425.74,59.36 422.23,59.14 418.72,59.18 411.70,59.05 408.19,57.92 404.68,57.69 401.17,57.55 397.66,57.24 394.15,56.02 390.64,55.29 387.13,54.85 383.62,53.81 380.11,53.16 376.60,52.58 373.09,51.82 369.58,50.65 366.07,50.30 362.56,49.14 359.05,47.32 355.54,46.17 352.03,44.97 348.52,44.01 345.01,42.94 341.50,41.70 337.99,41.04 334.48,39.45 330.97,38.04 327.46,36.83" fill="rgba(240,40,40,0.16)"/>
<path d="M327.46,34.32V36.83M334.48,28.86V39.45M337.99,26.59V41.04M341.50,25.78V41.70M348.52,25.07V44.01M352.03,25.71V44.97M359.05,27.39V47.32M362.56,27.89V49.14M366.07,28.61V50.30M376.60,28.60V52.58M383.62,28.79V53.81M411.70,28.01V59.05M429.25,28.87V59.71M436.27,29.95V60.58M439.78,29.70V61.85M443.29,30.75V61.83M453.82,32.39V70.06M457.33,34.73V73.31M471.37,31.21V72.40M474.88,31.44V73.52M481.90,32.93V75.13M492.43,33.37V77.14M506.47,31.16V78.85M509.98,31.41V80.00" stroke="#ee8888" stroke-opacity="0.55" stroke-width="0.8" fill="none"/>
<path d="M355.54,26.22V46.17M373.09,28.60V51.82M394.15,28.50V56.02M404.68,28.46V57.69M408.19,28.68V57.92M425.74,28.57V59.36M446.80,31.10V63.33M450.31,30.60V66.52M464.35,30.38V70.18M478.39,32.17V74.14M485.41,34.21V76.01M488.92,34.10V78.27M495.94,31.58V76.26M499.45,31.09V76.11M502.96,31.93V76.68" stroke="#ee8888" stroke-opacity="0.8" stroke-width="0.8" fill="none"/>
<path d="M330.97,31.44V38.04M345.01,25.22V42.94M369.58,29.03V50.65M380.11,28.77V53.16M387.13,28.39V54.85M390.64,28.59V55.29M397.66,27.93V57.24M401.17,28.15V57.55M418.72,28.36V59.18M422.23,28.55V59.14M432.76,28.77V60.74M460.84,31.04V70.17M467.86,31.19V71.07" stroke="#ee8888" stroke-opacity="1.0" stroke-width="0.8" fill="none"/>
<path d="M325.71,34.32H329.22L329.22,31.44H332.73L332.73,28.86H336.24L336.24,26.59H339.75L339.75,25.78H343.26L343.26,25.22H346.77L346.77,25.07H350.28L350.28,25.71H353.79L353.79,26.22H357.30L357.30,27.39H360.81L360.81,27.89H364.32L364.32,28.61H367.83L367.83,29.03H371.34L371.34,28.60H374.85L374.85,28.60H378.36L378.36,28.77H381.87L381.87,28.79H385.38L385.38,28.39H388.89L388.89,28.59H392.40L392.40,28.50H395.91L395.91,27.93H399.42L399.42,28.15H402.93L402.93,28.46H406.44L406.44,28.68H409.95L409.95,28.01H413.46L416.97,28.36H420.48L420.48,28.55H423.99L423.99,28.57H427.50L427.50,28.87H431.01L431.01,28.77H434.52L434.52,29.95H438.03L438.03,29.70H441.54L441.54,30.75H445.05L445.05,31.10H448.56L448.56,30.60H452.07L452.07,32.39H455.58L455.58,34.73H459.09L459.09,31.04H462.60L462.60,30.38H466.11L466.11,31.19H469.62L469.62,31.21H473.13L473.13,31.44H476.64L476.64,32.17H480.15L480.15,32.93H483.66L483.66,34.21H487.17L487.17,34.10H490.68L490.68,33.37H494.19L494.19,31.58H497.70L497.70,31.09H501.21L501.21,31.93H504.72L504.72,31.16H508.23L508.23,31.41H511.74M325.71,36.83H329.22L329.22,38.04H332.73L332.73,39.45H336.24L336.24,41.04H339.75L339.75,41.70H343.26L343.26,42.94H346.77L346.77,44.01H350.28L350.28,44.97H353.79L353.79,46.17H357.30L357.30,47.32H360.81L360.81,49.14H364.32L364.32,50.30H367.83L367.83,50.65H371.34L371.34,51.82H374.85L374.85,52.58H378.36L378.36,53.16H381.87L381.87,53.81H385.38L385.38,54.85H388.89L388.89,55.29H392.40L392.40,56.02H395.91L395.91,57.24H399.42L399.42,57.55H402.93L402.93,57.69H406.44L406.44,57.92H409.95L409.95,59.05H413.46L416.97,59.18H420.48L420.48,59.14H423.99L423.99,59.36H427.50L427.50,59.71H431.01L431.01,60.74H434.52L434.52,60.58H438.03L438.03,61.85H441.54L441.54,61.83H445.05L445.05,63.33H448.56L448.56,66.52H452.07L452.07,70.06H455.58L455.58,73.31H459.09L459.09,70.17H462.60L462.60,70.18H466.11L466.11,71.07H469.62L469.62,72.40H473.13L473.13,73.52H476.64L476.64,74.14H480.15L480.15,75.13H483.66L483.66,76.01H487.17L487.17,78.27H490.68L490.68,77.14H494.19L494.19,76.26H497.70L497.70,76.11H501.21L501.21,76.68H504.72L504.72,78.85H508.23L508.23,80.00H511.74" stroke="#ee5050" stroke-width="0.7" fill="none"/>
<polyline points="326.68,35.76 327.07,36.08 327.46,36.41 327.85,36.73 328.24,37.06 328.63,37.38 329.02,37.71 329.41,38.03 329.80,38.36 330.19,38.68 330.58,39.01 330.97,39.33 331.36,39.66 331.75,39.98 332.14,40.30 332.53,40.63 332.92,40.91 333.31,41.15 333.70,41.39 334.09,41.63 334.48,41.87 334.87,42.11 335.26,42.35 335.65,42.59 336.04,42.83 336.43,43.10 336.82,43.42 337.21,43.73 337.60,44.04 337.99,44.35 338.38,44.66 338.77,44.97 339.16,45.28 339.55,45.60 339.94,45.91 340.33,46.18 340.72,46.42 341.11,46.66 341.50,46.90 341.89,47.14 342.28,47.38 342.67,47.62 343.06,47.86 343.45,48.10 343.84,48.41 344.23,48.79 344.62,49.18 345.01,49.56 345.40,49.94 345.79,50.33 346.18,50.71 346.57,51.09 346.96,51.48 347.35,51.86 347.74,52.21 348.13,52.52 348.52,52.83 348.91,53.14 349.30,53.45 349.69,53.77 350.08,54.08 350.47,54.39 350.86,54.70 351.25,55.01 351.64,55.35 352.03,55.73 352.42,56.10 352.81,56.47 353.20,56.84 353.59,57.22 353.98,57.59 354.37,57.96 354.76,58.34 355.15,58.65 355.54,58.91 355.93,59.16 356.32,59.42 356.71,59.67 357.10,59.93 357.49,60.18 357.88,60.44 358.27,60.69 358.66,60.95 359.05,61.21 359.44,61.46 359.83,61.72 360.22,61.97 360.61,62.23 361.00,62.59 361.39,63.04 361.78,63.50 362.17,63.96 362.56,64.42 362.95,64.88 363.34,65.34 363.73,65.80 364.12,66.26 364.51,66.72 364.90,67.18 365.29,67.64 365.68,67.89 366.07,67.94 366.46,67.99 366.85,68.03 367.24,68.08 367.63,68.13 368.02,68.18 368.41,68.23 368.80,68.27 369.19,68.32 369.58,68.57 369.97,69.01 370.36,69.45 370.75,69.89 371.14,70.34 371.53,70.78 371.92,71.22 372.31,71.66 372.70,72.11 373.09,72.55 373.48,72.99 373.87,73.43 374.26,73.87 374.65,74.17 375.04,74.31 375.43,74.45 375.82,74.59 376.21,74.72 376.60,74.86 376.99,75.00 377.38,75.14 377.77,75.28 378.16,75.42 378.55,75.56 378.94,75.70 379.33,75.95 379.72,76.30 380.11,76.65 380.50,77.00 380.89,77.35 381.28,77.71 381.67,78.06 382.06,78.41 382.45,78.76 382.84,79.11 383.23,79.46 383.62,79.81 384.01,80.17 384.40,80.52 384.79,80.87 385.18,81.14 385.57,81.33 385.96,81.52 386.35,81.72 386.74,81.91 387.13,82.10 387.52,82.29 387.91,82.48 388.30,82.67 388.69,82.87 389.08,83.06 389.47,83.25 389.86,83.44 390.25,83.63 390.64,83.82 391.03,84.02 391.42,84.21 391.81,84.40 392.20,84.59 392.59,84.78 392.98,85.00 393.37,85.24 393.76,85.48 394.15,85.72 394.54,85.96 394.93,86.20 395.32,86.44 395.71,86.67 396.10,86.91 396.49,87.15 396.88,87.39 397.27,87.63 397.66,87.87 398.05,88.11 398.44,88.35 398.83,88.59 399.22,88.83 399.61,89.07 400.00,89.30 400.39,89.53 400.78,89.76 401.17,89.99 401.56,90.22 401.95,90.44 402.34,90.67 402.73,90.90 403.12,91.13 403.51,91.35 403.90,91.58 404.29,91.81 404.68,92.04 405.07,92.26 405.46,92.49 405.85,92.72 406.24,92.95 406.63,93.17 407.02,93.40 407.41,93.63 407.80,93.89 408.19,94.20 408.58,94.50 408.97,94.81 409.36,95.11 409.75,95.41 410.14,95.72 410.53,96.02 410.92,96.32 411.31,96.63 411.70,96.93 412.09,97.23 412.48,97.54 412.87,97.84 413.26,98.14 413.65,98.77 414.04,99.73 414.43,100.69 414.82,101.65" fill="none" stroke="#0db40d" stroke-width="3.5" stroke-linejoin="round" stroke-linecap="butt"/>
<polyline points="415.99,102.32 416.38,102.39 416.77,102.47 417.16,102.55 417.55,102.62 417.94,102.70 418.33,102.77 418.72,102.85 419.11,102.92 419.50,103.00 419.89,103.07 420.28,103.15 420.67,103.23 421.06,103.30 421.45,103.38 421.84,103.45 422.23,103.53 422.62,103.67 423.01,103.87 423.40,104.07 423.79,104.27 424.18,104.47 424.57,104.68 424.96,104.88 425.35,105.08 425.74,105.28 426.13,105.48 426.52,105.69 426.91,105.89 427.30,106.09 427.69,106.29 428.08,106.49 428.47,106.69 428.86,106.90 429.25,107.10 429.64,107.30 430.03,107.49 430.42,107.67 430.81,107.85 431.20,108.03 431.59,108.21 431.98,108.39 432.37,108.57 432.76,108.75 433.15,108.93 433.54,109.11 433.93,109.29 434.32,109.47 434.71,109.65 435.10,109.83 435.49,110.01 435.88,110.19 436.27,110.37 436.66,110.55 437.05,110.72 437.44,110.90 437.83,111.12 438.22,111.37 438.61,111.62 439.00,111.88 439.39,112.13 439.78,112.38 440.17,112.63 440.56,112.89 440.95,113.14 441.34,113.39 441.73,113.64 442.12,113.89 442.51,114.15 442.90,114.40 443.29,114.65 443.68,114.90 444.07,115.16 444.46,115.41 444.85,115.66 445.24,116.01 445.63,116.46 446.02,116.91 446.41,117.36 446.80,117.81 447.19,118.26 447.58,118.71 447.97,119.16 448.36,119.61 448.75,120.05 449.14,120.50 449.53,120.95 449.92,121.40 450.31,121.85 450.70,122.30 451.09,122.75 451.48,123.62 451.87,124.92 452.26,126.21 452.65,127.50 453.04,128.80 453.43,129.79 453.82,130.47 454.21,131.16 454.60,131.84 454.99,132.52 455.38,133.21 455.77,133.89 456.16,134.58 456.55,135.26 456.94,135.95 457.33,136.63 457.72,137.32 458.11,138.00 458.50,138.69 458.89,139.08 459.28,139.19 459.67,139.30 460.06,139.41 460.45,139.52 460.84,139.63 461.23,139.74 461.62,139.84 462.01,139.95 462.40,140.06 462.79,140.17 463.18,140.47 463.57,140.94 463.96,141.42 464.35,141.90 464.74,142.38 465.13,142.86 465.52,143.34 465.91,143.82 466.30,144.30 466.69,144.78 467.08,145.26 467.47,145.74 467.86,146.22 468.25,146.69 468.64,147.17 469.03,147.65 469.42,148.13 469.81,148.61 470.20,149.09 470.59,149.46 470.98,149.71 471.37,149.96 471.76,150.22 472.15,150.47 472.54,150.72 472.93,150.97 473.32,151.23 473.71,151.48 474.10,151.73 474.49,151.99 474.88,152.24 475.27,152.49 475.66,152.74 476.05,153.00 476.44,153.25 476.83,153.50 477.22,153.76 477.61,154.02 478.00,154.29 478.39,154.55 478.78,154.82 479.17,155.09 479.56,155.36 479.95,155.63 480.34,155.90 480.73,156.16 481.12,156.43 481.51,156.70 481.90,156.97 482.29,157.24 482.68,157.51 483.07,157.77 483.46,158.04 483.85,158.31 484.24,158.58 484.63,158.85 485.02,159.12 485.41,159.38 485.80,159.65 486.19,159.92 486.58,160.19 486.97,160.46 487.36,160.77 487.75,161.12 488.14,161.47 488.53,161.81 488.92,162.16 489.31,162.51 489.70,162.86 490.09,163.21 490.48,163.56 490.87,163.91 491.26,164.26 491.65,164.61 492.04,164.96 492.43,165.31 492.82,165.66 493.21,166.01 493.60,166.36 493.99,166.71 494.38,167.06 494.77,167.41 495.16,167.75 495.55,168.10 495.94,168.45 496.33,168.80 496.72,169.23 497.11,169.73 497.50,170.24 497.89,170.74 498.28,171.24 498.67,171.74 499.06,172.25 499.45,172.75 499.84,173.25 500.23,173.76 500.62,174.17 501.01,174.48 501.40,174.80 501.79,175.11 502.18,175.43 502.57,175.74 502.96,176.06 503.35,176.37 503.74,176.69 504.13,177.00 504.52,177.32 504.91,177.63 505.30,177.95 505.69,178.27 506.08,178.58 506.47,178.90 506.86,179.21 507.25,179.53 507.64,179.84 508.03,180.16 508.42,180.49 508.81,180.81 509.20,181.14 509.59,181.46 509.98,181.79 510.37,182.11 510.76,182.44 511.15,182.76 511.54,183.09 511.93,183.41 512.32,183.74 512.71,184.06 513.10,184.39" fill="none" stroke="#0db40d" stroke-width="3.5" stroke-linejoin="round" stroke-linecap="butt"/>
<polyline points="326.68,35.76 327.07,35.95 327.46,36.13 327.85,36.32 328.24,36.50 328.63,36.69 329.02,36.87 329.41,37.06 329.80,37.24 330.19,37.43 330.58,37.61 330.97,37.80 331.36,37.99 331.75,38.17 332.14,38.36 332.53,38.54 332.92,38.69 333.31,38.81 333.70,38.92 334.09,39.03 334.48,39.15 334.87,39.26 335.26,39.37 335.65,39.49 336.04,39.60 336.43,39.71 336.82,39.83 337.21,39.94 337.60,40.05 337.99,40.17 338.38,40.28 338.77,40.39 339.16,40.51 339.55,40.62 339.94,40.73 340.33,40.87 340.72,41.04 341.11,41.20 341.50,41.37 341.89,41.53 342.28,41.69 342.67,41.86 343.06,42.02 343.45,42.19 343.84,42.35 344.23,42.51 344.62,42.68 345.01,42.84 345.40,43.00 345.79,43.17 346.18,43.33 346.57,43.50 346.96,43.66 347.35,43.82 347.74,44.03 348.13,44.27 348.52,44.51 348.91,44.74 349.30,44.98 349.69,45.22 350.08,45.46 350.47,45.70 350.86,45.94 351.25,46.18 351.64,46.42 352.03,46.66 352.42,46.90 352.81,47.14 353.20,47.38 353.59,47.62 353.98,47.86 354.37,48.10 354.76,48.34 355.15,48.58 355.54,48.84 355.93,49.09 356.32,49.34 356.71,49.59 357.10,49.85 357.49,50.10 357.88,50.35 358.27,50.60 358.66,50.85 359.05,51.11 359.44,51.36 359.83,51.61 360.22,51.86 360.61,52.12 361.00,52.37 361.39,52.62 361.78,52.87 362.17,53.12 362.56,53.49 362.95,53.97 363.34,54.45 363.73,54.93 364.12,55.41 364.51,55.89 364.90,56.37 365.29,56.84 365.68,57.32 366.07,57.80 366.46,58.28 366.85,58.76 367.24,58.88 367.63,58.64 368.02,58.40 368.41,58.16 368.80,57.92 369.19,57.68 369.58,57.44 369.97,57.20 370.36,57.32 370.75,57.80 371.14,58.28 371.53,58.76 371.92,59.24 372.31,59.72 372.70,60.20 373.09,60.68 373.48,61.16 373.87,61.64 374.26,62.12 374.65,62.47 375.04,62.69 375.43,62.90 375.82,63.12 376.21,63.34 376.60,63.56 376.99,63.78 377.38,64.00 377.77,64.22 378.16,64.44 378.55,64.66 378.94,64.88 379.33,65.13 379.72,65.40 380.11,65.67 380.50,65.94 380.89,66.21 381.28,66.48 381.67,66.76 382.06,67.03 382.45,67.30 382.84,67.57 383.23,67.84 383.62,68.11 384.01,68.39 384.40,68.66 384.79,68.93 385.18,69.12 385.57,69.23 385.96,69.33 386.35,69.44 386.74,69.55 387.13,69.66 387.52,69.77 387.91,69.87 388.30,69.98 388.69,70.09 389.08,70.20 389.47,70.30 389.86,70.41 390.25,70.52 390.64,70.63 391.03,70.74 391.42,70.84 391.81,70.95 392.20,71.06 392.59,71.17 392.98,71.32 393.37,71.52 393.76,71.72 394.15,71.92 394.54,72.12 394.93,72.32 395.32,72.52 395.71,72.72 396.10,72.92 396.49,73.12 396.88,73.32 397.27,73.52 397.66,73.72 398.05,73.92 398.44,74.12 398.83,74.32 399.22,74.52 399.61,74.71 400.00,74.89 400.39,75.05 400.78,75.20 401.17,75.36 401.56,75.52 401.95,75.67 402.34,75.83 402.73,75.98 403.12,76.14 403.51,76.29 403.90,76.45 404.29,76.61 404.68,76.76 405.07,76.92 405.46,77.07 405.85,77.23 406.24,77.38 406.63,77.54 407.02,77.70 407.41,77.85 407.80,78.06 408.19,78.31 408.58,78.57 408.97,78.82 409.36,79.08 409.75,79.34 410.14,79.59 410.53,79.85 410.92,80.10 411.31,80.36 411.70,80.61 412.09,80.87 412.48,81.12 412.87,81.38 413.26,81.64 413.65,81.85 414.04,82.03 414.43,82.21 414.82,82.39" fill="none" stroke="#2ea2f0" stroke-width="3.9" stroke-linejoin="round" stroke-linecap="butt"/>
<polyline points="415.99,82.83 416.38,82.97 416.77,83.11 417.16,83.24 417.55,83.38 417.94,83.52 418.33,83.66 418.72,83.80 419.11,83.94 419.50,84.08 419.89,84.22 420.28,84.35 420.67,84.49 421.06,84.63 421.45,84.77 421.84,84.91 422.23,85.05 422.62,85.20 423.01,85.36 423.40,85.53 423.79,85.69 424.18,85.86 424.57,86.02 424.96,86.18 425.35,86.35 425.74,86.51 426.13,86.67 426.52,86.84 426.91,87.00 427.30,87.17 427.69,87.33 428.08,87.49 428.47,87.66 428.86,87.82 429.25,87.99 429.64,88.15 430.03,88.32 430.42,88.48 430.81,88.65 431.20,88.82 431.59,88.99 431.98,89.15 432.37,89.32 432.76,89.49 433.15,89.66 433.54,89.83 433.93,89.99 434.32,90.16 434.71,90.33 435.10,90.50 435.49,90.66 435.88,90.83 436.27,91.00 436.66,91.17 437.05,91.34 437.44,91.50 437.83,91.71 438.22,91.95 438.61,92.19 439.00,92.43 439.39,92.66 439.78,92.90 440.17,93.14 440.56,93.38 440.95,93.62 441.34,93.86 441.73,94.10 442.12,94.34 442.51,94.58 442.90,94.82 443.29,95.06 443.68,95.30 444.07,95.54 444.46,95.78 444.85,96.02 445.24,96.32 445.63,96.68 446.02,97.04 446.41,97.40 446.80,97.76 447.19,98.12 447.58,98.48 447.97,98.83 448.36,99.19 448.75,99.55 449.14,99.91 449.53,100.27 449.92,100.63 450.31,100.99 450.70,101.35 451.09,101.71 451.48,102.89 451.87,104.88 452.26,106.88 452.65,108.06 453.04,108.42 453.43,108.78 453.82,109.14 454.21,109.50 454.60,109.86 454.99,110.22 455.38,110.58 455.77,110.93 456.16,111.29 456.55,111.65 456.94,112.01 457.33,112.37 457.72,112.73 458.11,113.09 458.50,113.45 458.89,113.81 459.28,114.17 459.67,114.26 460.06,114.10 460.45,113.93 460.84,113.76 461.23,113.59 461.62,113.43 462.01,113.26 462.40,113.09 462.79,112.92 463.18,112.76 463.57,112.86 463.96,113.25 464.35,113.64 464.74,114.02 465.13,114.41 465.52,114.79 465.91,115.18 466.30,115.57 466.69,115.95 467.08,116.34 467.47,116.72 467.86,117.11 468.25,117.50 468.64,117.88 469.03,118.27 469.42,118.65 469.81,119.04 470.20,119.43 470.59,119.73 470.98,119.96 471.37,120.19 471.76,120.41 472.15,120.64 472.54,120.86 472.93,121.09 473.32,121.32 473.71,121.54 474.10,121.77 474.49,122.00 474.88,122.22 475.27,122.45 475.66,122.67 476.05,122.90 476.44,123.13 476.83,123.35 477.22,123.58 477.61,123.83 478.00,124.10 478.39,124.36 478.78,124.63 479.17,124.90 479.56,125.17 479.95,125.44 480.34,125.71 480.73,125.97 481.12,126.24 481.51,126.51 481.90,126.78 482.29,127.05 482.68,127.32 483.07,127.58 483.46,127.85 483.85,128.12 484.24,128.39 484.63,128.66 485.02,128.93 485.41,129.19 485.80,129.46 486.19,129.73 486.58,130.00 486.97,130.27 487.36,130.52 487.75,130.76 488.14,131.00 488.53,131.24 488.92,131.48 489.31,131.72 489.70,131.96 490.09,132.20 490.48,132.44 490.87,132.68 491.26,132.92 491.65,133.16 492.04,133.40 492.43,133.64 492.82,133.88 493.21,134.12 493.60,134.36 493.99,134.59 494.38,134.83 494.77,135.07 495.16,135.31 495.55,135.55 495.94,135.79 496.33,136.03 496.72,136.26 497.11,136.48 497.50,136.69 497.89,136.91 498.28,137.12 498.67,137.34 499.06,137.55 499.45,137.77 499.84,137.99 500.23,138.20 500.62,138.45 501.01,138.73 501.40,139.02 501.79,139.30 502.18,139.58 502.57,139.87 502.96,140.15 503.35,140.43 503.74,140.72 504.13,141.00 504.52,141.28 504.91,141.57 505.30,141.85 505.69,142.13 506.08,142.41 506.47,142.70 506.86,142.98 507.25,143.26 507.64,143.55 508.03,143.83 508.42,144.11 508.81,144.40 509.20,144.68 509.59,144.96 509.98,145.25 510.37,145.53 510.76,145.81 511.15,146.10 511.54,146.38 511.93,146.66 512.32,146.95 512.71,147.23 513.10,147.51" fill="none" stroke="#2ea2f0" stroke-width="3.9" stroke-linejoin="round" stroke-linecap="butt"/>
<polyline points="326.68,35.76 327.07,35.76 327.46,35.77 327.85,35.77 328.24,35.78 328.63,35.78 329.02,35.78 329.41,35.79 329.80,35.79 330.19,35.80 330.58,35.80 330.97,35.80 331.36,35.81 331.75,35.81 332.14,35.82 332.53,35.82 332.92,35.82 333.31,35.83 333.70,35.83 334.09,35.84 334.48,35.84 334.87,35.84 335.26,35.85 335.65,35.85 336.04,35.86 336.43,35.86 336.82,35.86 337.21,35.87 337.60,35.87 337.99,35.88 338.38,35.88 338.77,35.88 339.16,35.89 339.55,35.89 339.94,35.90 340.33,35.90 340.72,35.90 341.11,35.91 341.50,35.91 341.89,35.92 342.28,35.92 342.67,35.93 343.06,35.93 343.45,35.93 343.84,35.94 344.23,35.94 344.62,35.95 345.01,35.95 345.40,35.95 345.79,35.96 346.18,35.96 346.57,35.97 346.96,35.97 347.35,35.97 347.74,35.98 348.13,35.98 348.52,35.99 348.91,35.99 349.30,35.99 349.69,36.00 350.08,36.00 350.47,36.01 350.86,36.01 351.25,36.01 351.64,36.02 352.03,36.02 352.42,36.03 352.81,36.03 353.20,36.03 353.59,36.04 353.98,36.04 354.37,36.05 354.76,36.05 355.15,36.05 355.54,36.06 355.93,36.06 356.32,36.07 356.71,36.07 357.10,36.07 357.49,36.08 357.88,36.08 358.27,36.09 358.66,36.09 359.05,36.09 359.44,36.10 359.83,36.10 360.22,36.11 360.61,36.11 361.00,36.11 361.39,36.12 361.78,36.12 362.17,36.13 362.56,36.13 362.95,36.13 363.34,36.14 363.73,36.14 364.12,36.15 364.51,36.15 364.90,36.15 365.29,36.16 365.68,36.16 366.07,36.17 366.46,36.17 366.85,36.17 367.24,36.18 367.63,36.18 368.02,36.19 368.41,36.19 368.80,36.19 369.19,36.20 369.58,36.20 369.97,36.21 370.36,36.21 370.75,36.22 371.14,36.22 371.53,36.22 371.92,36.23 372.31,36.23 372.70,36.24 373.09,36.24 373.48,36.24 373.87,36.25 374.26,36.25 374.65,36.26 375.04,36.26 375.43,36.26 375.82,36.27 376.21,36.27 376.60,36.28 376.99,36.28 377.38,36.28 377.77,36.29 378.16,36.29 378.55,36.30 378.94,36.30 379.33,36.30 379.72,36.31 380.11,36.31 380.50,36.32 380.89,36.32 381.28,36.32 381.67,36.33 382.06,36.33 382.45,36.34 382.84,36.34 383.23,36.34 383.62,36.35 384.01,36.35 384.40,36.36 384.79,36.36 385.18,36.36 385.57,36.37 385.96,36.37 386.35,36.38 386.74,36.38 387.13,36.38 387.52,36.39 387.91,36.39 388.30,36.40 388.69,36.40 389.08,36.40 389.47,36.41 389.86,36.41 390.25,36.42 390.64,36.42 391.03,36.42 391.42,36.43 391.81,36.43 392.20,36.44 392.59,36.44 392.98,36.44 393.37,36.45 393.76,36.45 394.15,36.46 394.54,36.46 394.93,36.46 395.32,36.47 395.71,36.47 396.10,36.48 396.49,36.48 396.88,36.48 397.27,36.49 397.66,36.49 398.05,36.49 398.44,36.50 398.83,36.50 399.22,36.51 399.61,36.51 400.00,36.51 400.39,36.52 400.78,36.52 401.17,36.52 401.56,36.53 401.95,36.53 402.34,36.53 402.73,36.54 403.12,36.54 403.51,36.55 403.90,36.55 404.29,36.55 404.68,36.56 405.07,36.56 405.46,36.56 405.85,36.57 406.24,36.57 406.63,36.57 407.02,36.58 407.41,36.58 407.80,36.58 408.19,36.59 408.58,36.59 408.97,36.60 409.36,36.60 409.75,36.60 410.14,36.61 410.53,36.61 410.92,36.61 411.31,36.62 411.70,36.62 412.09,36.62 412.48,36.63 412.87,36.63 413.26,36.64 413.65,36.64 414.04,36.64 414.43,36.65 414.82,36.65" fill="none" stroke="#8200e6" stroke-width="2.9" stroke-linejoin="round" stroke-linecap="butt"/>
<polyline points="415.99,36.66 416.38,36.66 416.77,36.67 417.16,36.67 417.55,36.67 417.94,36.68 418.33,36.68 418.72,36.69 419.11,36.69 419.50,36.69 419.89,36.70 420.28,36.70 420.67,36.70 421.06,36.71 421.45,36.71 421.84,36.71 422.23,36.72 422.62,36.72 423.01,36.72 423.40,36.73 423.79,36.73 424.18,36.74 424.57,36.74 424.96,36.74 425.35,36.75 425.74,36.75 426.13,36.75 426.52,36.76 426.91,36.76 427.30,36.76 427.69,36.77 428.08,36.77 428.47,36.78 428.86,36.78 429.25,36.78 429.64,36.79 430.03,36.79 430.42,36.79 430.81,36.80 431.20,36.80 431.59,36.80 431.98,36.81 432.37,36.81 432.76,36.81 433.15,36.82 433.54,36.82 433.93,36.83 434.32,36.83 434.71,36.83 435.10,36.84 435.49,36.84 435.88,36.84 436.27,36.85 436.66,36.85 437.05,36.85 437.44,36.86 437.83,36.86 438.22,36.87 438.61,36.87 439.00,36.87 439.39,36.88 439.78,36.88 440.17,36.88 440.56,36.89 440.95,36.89 441.34,36.89 441.73,36.90 442.12,36.90 442.51,36.90 442.90,36.91 443.29,36.91 443.68,36.92 444.07,36.92 444.46,36.92 444.85,36.93 445.24,36.93 445.63,36.93 446.02,36.94 446.41,36.94 446.80,36.94 447.19,36.95 447.58,36.95 447.97,36.96 448.36,36.96 448.75,36.96 449.14,36.97 449.53,36.97 449.92,36.97 450.31,36.98 450.70,36.98 451.09,36.98 451.48,36.99 451.87,36.99 452.26,36.99 452.65,37.00 453.04,37.00 453.43,37.01 453.82,37.01 454.21,37.01 454.60,37.02 454.99,37.02 455.38,37.02 455.77,37.03 456.16,37.03 456.55,37.03 456.94,37.04 457.33,37.04 457.72,37.04 458.11,37.05 458.50,37.05 458.89,37.06 459.28,37.06 459.67,37.06 460.06,37.07 460.45,37.07 460.84,37.07 461.23,37.08 461.62,37.08 462.01,37.08 462.40,37.09 462.79,37.09 463.18,37.10 463.57,37.10 463.96,37.10 464.35,37.11 464.74,37.11 465.13,37.11 465.52,37.12 465.91,37.12 466.30,37.12 466.69,37.13 467.08,37.13 467.47,37.13 467.86,37.14 468.25,37.14 468.64,37.15 469.03,37.15 469.42,37.15 469.81,37.16 470.20,37.16 470.59,37.16 470.98,37.17 471.37,37.17 471.76,37.17 472.15,37.18 472.54,37.18 472.93,37.19 473.32,37.19 473.71,37.19 474.10,37.20 474.49,37.20 474.88,37.21 475.27,37.22 475.66,37.23 476.05,37.24 476.44,37.25 476.83,37.26 477.22,37.27 477.61,37.28 478.00,37.29 478.39,37.30 478.78,37.31 479.17,37.32 479.56,37.33 479.95,37.34 480.34,37.35 480.73,37.36 481.12,37.37 481.51,37.37 481.90,37.38 482.29,37.39 482.68,37.40 483.07,37.41 483.46,37.42 483.85,37.43 484.24,37.44 484.63,37.45 485.02,37.46 485.41,37.47 485.80,37.48 486.19,37.49 486.58,37.50 486.97,37.51 487.36,37.52 487.75,37.53 488.14,37.54 488.53,37.55 488.92,37.56 489.31,37.57 489.70,37.58 490.09,37.59 490.48,37.60 490.87,37.60 491.26,37.61 491.65,37.62 492.04,37.63 492.43,37.64 492.82,37.65 493.21,37.66 493.60,37.67 493.99,37.68 494.38,37.69 494.77,37.70 495.16,37.71 495.55,37.72 495.94,37.73 496.33,37.74 496.72,37.75 497.11,37.76 497.50,37.77 497.89,37.78 498.28,37.79 498.67,37.80 499.06,37.81 499.45,37.82 499.84,37.83 500.23,37.83 500.62,37.84 501.01,37.85 501.40,37.86 501.79,37.87 502.18,37.88 502.57,37.89 502.96,37.90 503.35,37.91 503.74,37.92 504.13,37.93 504.52,37.94 504.91,37.95 505.30,37.96 505.69,37.97 506.08,37.98 506.47,37.99 506.86,38.00 507.25,38.01 507.64,38.02 508.03,38.03 508.42,38.04 508.81,38.05 509.20,38.06 509.59,38.06 509.98,38.07 510.37,38.08 510.76,38.09 511.15,38.10 511.54,38.11 511.93,38.12 512.32,38.13 512.71,38.14 513.10,38.15" fill="none" stroke="#8200e6" stroke-width="2.9" stroke-linejoin="round" stroke-linecap="butt"/>
<polyline points="326.68,35.76 327.07,35.67 327.46,35.57 327.85,35.48 328.24,35.39 328.63,35.30 329.02,35.20 329.41,35.11 329.80,35.02 330.19,34.93 330.58,34.83 330.97,34.74 331.36,34.65 331.75,34.55 332.14,34.46 332.53,34.37 332.92,34.30 333.31,34.27 333.70,34.23 334.09,34.19 334.48,34.15 334.87,34.11 335.26,34.08 335.65,34.04 336.04,34.00 336.43,33.96 336.82,33.93 337.21,33.89 337.60,33.85 337.99,33.81 338.38,33.77 338.77,33.74 339.16,33.70 339.55,33.66 339.94,33.62 340.33,33.62 340.72,33.66 341.11,33.70 341.50,33.74 341.89,33.77 342.28,33.81 342.67,33.85 343.06,33.89 343.45,33.93 343.84,33.96 344.23,34.00 344.62,34.04 345.01,34.08 345.40,34.11 345.79,34.15 346.18,34.19 346.57,34.23 346.96,34.27 347.35,34.30 347.74,34.37 348.13,34.45 348.52,34.54 348.91,34.63 349.30,34.72 349.69,34.81 350.08,34.90 350.47,34.98 350.86,35.07 351.25,35.16 351.64,35.25 352.03,35.34 352.42,35.43 352.81,35.51 353.20,35.60 353.59,35.69 353.98,35.78 354.37,35.87 354.76,35.96 355.15,36.06 355.54,36.19 355.93,36.32 356.32,36.45 356.71,36.58 357.10,36.71 357.49,36.84 357.88,36.97 358.27,37.10 358.66,37.23 359.05,37.35 359.44,37.48 359.83,37.61 360.22,37.74 360.61,37.87 361.00,38.00 361.39,38.13 361.78,38.26 362.17,38.39 362.56,38.52 362.95,38.64 363.34,38.77 363.73,38.90 364.12,39.03 364.51,39.16 364.90,39.29 365.29,39.37 365.68,39.42 366.07,39.46 366.46,39.50 366.85,39.54 367.24,39.58 367.63,39.63 368.02,39.67 368.41,39.71 368.80,39.75 369.19,39.79 369.58,39.84 369.97,39.88 370.36,39.92 370.75,39.96 371.14,40.00 371.53,40.05 371.92,40.09 372.31,40.13 372.70,40.17 373.09,40.21 373.48,40.26 373.87,40.30 374.26,40.34 374.65,40.38 375.04,40.42 375.43,40.47 375.82,40.51 376.21,40.55 376.60,40.59 376.99,40.63 377.38,40.67 377.77,40.72 378.16,40.76 378.55,40.80 378.94,40.84 379.33,40.88 379.72,40.93 380.11,40.97 380.50,41.01 380.89,41.05 381.28,41.08 381.67,41.12 382.06,41.16 382.45,41.19 382.84,41.23 383.23,41.26 383.62,41.30 384.01,41.33 384.40,41.37 384.79,41.41 385.18,41.44 385.57,41.48 385.96,41.51 386.35,41.55 386.74,41.58 387.13,41.62 387.52,41.66 387.91,41.69 388.30,41.73 388.69,41.76 389.08,41.80 389.47,41.83 389.86,41.87 390.25,41.91 390.64,41.94 391.03,41.98 391.42,42.01 391.81,42.05 392.20,42.08 392.59,42.12 392.98,42.16 393.37,42.19 393.76,42.23 394.15,42.26 394.54,42.30 394.93,42.33 395.32,42.37 395.71,42.41 396.10,42.44 396.49,42.48 396.88,42.51 397.27,42.55 397.66,42.58 398.05,42.62 398.44,42.65 398.83,42.69 399.22,42.72 399.61,42.75 400.00,42.77 400.39,42.80 400.78,42.82 401.17,42.85 401.56,42.87 401.95,42.90 402.34,42.92 402.73,42.95 403.12,42.97 403.51,43.00 403.90,43.02 404.29,43.05 404.68,43.07 405.07,43.10 405.46,43.12 405.85,43.15 406.24,43.17 406.63,43.20 407.02,43.23 407.41,43.25 407.80,43.28 408.19,43.30 408.58,43.33 408.97,43.35 409.36,43.38 409.75,43.40 410.14,43.43 410.53,43.45 410.92,43.48 411.31,43.50 411.70,43.53 412.09,43.55 412.48,43.58 412.87,43.60 413.26,43.63 413.65,43.65 414.04,43.67 414.43,43.68 414.82,43.69" fill="none" stroke="#f01414" stroke-width="3.7" stroke-linejoin="round" stroke-linecap="butt"/>
<polyline points="415.99,43.71 416.38,43.72 416.77,43.73 417.16,43.74 417.55,43.75 417.94,43.75 418.33,43.76 418.72,43.77 419.11,43.78 419.50,43.79 419.89,43.79 420.28,43.80 420.67,43.81 421.06,43.82 421.45,43.83 421.84,43.84 422.23,43.84 422.62,43.85 423.01,43.86 423.40,43.87 423.79,43.88 424.18,43.89 424.57,43.89 424.96,43.90 425.35,43.92 425.74,43.96 426.13,44.00 426.52,44.04 426.91,44.07 427.30,44.11 427.69,44.15 428.08,44.18 428.47,44.22 428.86,44.26 429.25,44.29 429.64,44.33 430.03,44.37 430.42,44.41 430.81,44.47 431.20,44.53 431.59,44.58 431.98,44.64 432.37,44.70 432.76,44.75 433.15,44.81 433.54,44.87 433.93,44.92 434.32,44.98 434.71,45.04 435.10,45.09 435.49,45.15 435.88,45.21 436.27,45.27 436.66,45.32 437.05,45.38 437.44,45.44 437.83,45.49 438.22,45.55 438.61,45.61 439.00,45.66 439.39,45.72 439.78,45.78 440.17,45.83 440.56,45.89 440.95,45.95 441.34,46.00 441.73,46.06 442.12,46.12 442.51,46.17 442.90,46.23 443.29,46.29 443.68,46.34 444.07,46.40 444.46,46.46 444.85,46.51 445.24,46.62 445.63,46.77 446.02,46.92 446.41,47.07 446.80,47.22 447.19,47.37 447.58,47.52 447.97,47.67 448.36,47.81 448.75,47.96 449.14,48.11 449.53,48.26 449.92,48.41 450.31,48.56 450.70,48.71 451.09,48.86 451.48,49.11 451.87,49.47 452.26,49.82 452.65,50.17 453.04,50.52 453.43,50.87 453.82,51.22 454.21,51.57 454.60,51.93 454.99,52.28 455.38,52.63 455.77,52.98 456.16,53.33 456.55,53.68 456.94,54.03 457.33,54.02 457.72,53.64 458.11,53.26 458.50,52.88 458.89,52.50 459.28,52.12 459.67,51.74 460.06,51.36 460.45,50.98 460.84,50.61 461.23,50.23 461.62,49.85 462.01,49.70 462.40,49.80 462.79,49.90 463.18,49.99 463.57,50.09 463.96,50.18 464.35,50.28 464.74,50.38 465.13,50.47 465.52,50.57 465.91,50.66 466.30,50.76 466.69,50.85 467.08,50.95 467.47,51.05 467.86,51.13 468.25,51.21 468.64,51.28 469.03,51.36 469.42,51.43 469.81,51.51 470.20,51.58 470.59,51.66 470.98,51.73 471.37,51.81 471.76,51.88 472.15,51.96 472.54,52.03 472.93,52.11 473.32,52.18 473.71,52.25 474.10,52.33 474.49,52.40 474.88,52.48 475.27,52.55 475.66,52.63 476.05,52.70 476.44,52.78 476.83,52.85 477.22,52.93 477.61,53.00 478.00,53.08 478.39,53.15 478.78,53.23 479.17,53.30 479.56,53.38 479.95,53.45 480.34,53.55 480.73,53.67 481.12,53.79 481.51,53.91 481.90,54.03 482.29,54.15 482.68,54.27 483.07,54.39 483.46,54.51 483.85,54.63 484.24,54.75 484.63,54.87 485.02,54.99 485.41,55.11 485.80,55.23 486.19,55.35 486.58,55.47 486.97,55.59 487.36,55.71 487.75,55.83 488.14,55.95 488.53,56.07 488.92,56.19 489.31,56.31 489.70,56.29 490.09,56.14 490.48,55.99 490.87,55.85 491.26,55.70 491.65,55.55 492.04,55.40 492.43,55.25 492.82,55.10 493.21,54.96 493.60,54.81 493.99,54.66 494.38,54.51 494.77,54.36 495.16,54.21 495.55,54.07 495.94,53.92 496.33,53.77 496.72,53.62 497.11,53.47 497.50,53.32 497.89,53.29 498.28,53.37 498.67,53.45 499.06,53.52 499.45,53.60 499.84,53.68 500.23,53.76 500.62,53.83 501.01,53.91 501.40,53.99 501.79,54.07 502.18,54.15 502.57,54.22 502.96,54.30 503.35,54.38 503.74,54.46 504.13,54.54 504.52,54.61 504.91,54.69 505.30,54.77 505.69,54.85 506.08,54.93 506.47,55.00 506.86,55.08 507.25,55.16 507.64,55.24 508.03,55.31 508.42,55.39 508.81,55.47 509.20,55.55 509.59,55.63 509.98,55.70 510.37,55.78 510.76,55.86 511.15,55.94 511.54,56.02 511.93,56.09 512.32,56.17 512.71,56.25 513.10,56.33" fill="none" stroke="#f01414" stroke-width="3.7" stroke-linejoin="round" stroke-linecap="butt"/>
<rect x="321.30" y="171.30" width="76.30" height="48.20" fill="none" stroke="#b0b0b0" stroke-width="1"/>
<rect x="331.20" y="176.10" width="3.2" height="3.2" fill="#0db40d"/>
<text x="346.10" y="180.90" class="lg">NS</text>
<circle cx="332.80" cy="189.30" r="1.8" fill="#2ea2f0"/>
<text x="346.10" y="192.50" class="lg">EW</text>
<path d="M330.60,202.60L335.00,202.60L332.80,198.80Z" fill="#8200e6"/>
<text x="346.10" y="204.10" class="lg">vertical SPF</text>
<path d="M330.60,210.80L335.00,210.80L332.80,214.60Z" fill="#f01414"/>
<text x="346.10" y="215.70" class="lg">vertical nSPF</text>
<path d="M53.50,269.42 V484.50 H267.45" fill="none" stroke="#444" stroke-width="1.1"/>
<text x="47.90" y="489.25" text-anchor="end" class="tk">-1500</text>
<text x="47.90" y="458.56" text-anchor="end" class="tk">-1200</text>
<text x="47.90" y="427.87" text-anchor="end" class="tk">-900</text>
<text x="47.90" y="397.18" text-anchor="end" class="tk">-600</text>
<text x="47.90" y="366.49" text-anchor="end" class="tk">-300</text>
<text x="47.90" y="335.80" text-anchor="end" class="tk">0</text>
<text x="47.90" y="305.11" text-anchor="end" class="tk">300</text>
<text x="47.90" y="274.42" text-anchor="end" class="tk">600</text>
<text x="53.50" y="500.80" text-anchor="middle" class="tk">2017</text>
<text x="92.40" y="500.80" text-anchor="middle" class="tk">2018</text>
<text x="131.30" y="500.80" text-anchor="middle" class="tk">2019</text>
<text x="170.20" y="500.80" text-anchor="middle" class="tk">2020</text>
<text x="209.10" y="500.80" text-anchor="middle" class="tk">2021</text>
<text x="248.00" y="500.80" text-anchor="middle" class="tk">2022</text>
<path d="M50.30,484.25H53.50M51.70,468.90H53.50M50.30,453.56H53.50M51.70,438.22H53.50M50.30,422.87H53.50M51.70,407.53H53.50M50.30,392.18H53.50M51.70,376.84H53.50M50.30,361.49H53.50M51.70,346.15H53.50M50.30,330.80H53.50M51.70,315.45H53.50M50.30,300.11H53.50M51.70,284.76H53.50M50.30,269.42H53.50M53.50,484.50V487.50M72.95,484.50V486.30M92.40,484.50V487.50M111.85,484.50V486.30M131.30,484.50V487.50M150.75,484.50V486.30M170.20,484.50V487.50M189.65,484.50V486.30M209.10,484.50V487.50M228.55,484.50V486.30M248.00,484.50V487.50M267.45,484.50V486.30" fill="none" stroke="#444" stroke-width="1"/>
<text x="162.00" y="523.20" text-anchor="middle" class="lab">Year</text>
<text transform="translate(15.20,376.50) rotate(-90)" text-anchor="middle" class="lab">Displacement (m)</text>
<text x="259.30" y="291.00" class="pl">(c)</text>
<polygon points="73.14,331.83 76.65,331.67 80.15,331.57 83.65,331.50 87.15,331.60 90.65,331.56 94.15,331.86 97.65,332.14 101.15,332.26 104.65,332.51 108.15,332.49 111.66,332.62 115.16,332.99 118.66,333.19 122.16,333.67 125.66,333.78 129.16,333.87 132.66,334.31 136.16,335.38 139.66,335.95 143.16,336.40 146.67,337.08 153.67,338.27 157.17,338.98 160.67,339.18 164.17,339.09 167.67,339.55 171.17,339.66 174.67,339.54 178.17,339.64 181.68,339.48 185.18,340.01 188.68,340.35 192.18,340.53 195.68,340.86 199.18,340.85 202.68,341.25 206.18,340.96 209.68,341.57 213.18,341.67 216.69,342.18 220.19,342.18 223.69,341.91 227.19,342.45 230.69,342.75 234.19,343.62 237.69,343.52 241.19,343.69 244.69,343.44 244.69,385.51 241.19,384.00 237.69,382.92 234.19,381.56 230.69,381.17 227.19,380.22 223.69,379.50 220.19,377.97 216.69,376.72 213.18,375.97 209.68,374.81 206.18,374.16 202.68,372.61 199.18,371.76 195.68,370.50 192.18,369.56 188.68,368.66 185.18,367.96 181.68,367.44 178.17,366.24 174.67,365.29 171.17,364.12 167.67,363.19 164.17,362.60 160.67,361.47 157.17,360.55 153.67,359.68 146.67,356.64 143.16,355.67 139.66,354.48 136.16,353.40 132.66,352.82 129.16,351.66 125.66,350.23 122.16,348.83 118.66,347.80 115.16,346.49 111.66,345.50 108.15,344.29 104.65,342.93 101.15,341.85 97.65,340.65 94.15,339.58 90.65,338.46 87.15,337.48 83.65,336.73 80.15,335.80 76.65,335.19 73.14,334.54" fill="rgba(0,170,0,0.12)"/>
<path d="M83.65,331.50V336.73M87.15,331.60V337.48M94.15,331.86V339.58M171.17,339.66V364.12M188.68,340.35V368.66M195.68,340.86V370.50M202.68,341.25V372.61M216.69,342.18V376.72M223.69,341.91V379.50M230.69,342.75V381.17M234.19,343.62V381.56M244.69,343.44V385.51" stroke="#7fcc7f" stroke-opacity="0.55" stroke-width="0.8" fill="none"/>
<path d="M73.14,331.83V334.54M80.15,331.57V335.80M90.65,331.56V338.46M97.65,332.14V340.65M101.15,332.26V341.85M104.65,332.51V342.93M108.15,332.49V344.29M132.66,334.31V352.82M139.66,335.95V354.48M143.16,336.40V355.67M160.67,339.18V361.47M164.17,339.09V362.60M174.67,339.54V365.29M178.17,339.64V366.24M181.68,339.48V367.44M206.18,340.96V374.16M213.18,341.67V375.97M241.19,343.69V384.00" stroke="#7fcc7f" stroke-opacity="0.8" stroke-width="0.8" fill="none"/>
<path d="M76.65,331.67V335.19M111.66,332.62V345.50M115.16,332.99V346.49M118.66,333.19V347.80M122.16,333.67V348.83M125.66,333.78V350.23M129.16,333.87V351.66M136.16,335.38V353.40M146.67,337.08V356.64M153.67,338.27V359.68M157.17,338.98V360.55M167.67,339.55V363.19M185.18,340.01V367.96M192.18,340.53V369.56M199.18,340.85V371.76M209.68,341.57V374.81M220.19,342.18V377.97M227.19,342.45V380.22M237.69,343.52V382.92" stroke="#7fcc7f" stroke-opacity="1.0" stroke-width="0.8" fill="none"/>
<path d="M71.39,331.83H74.89L74.89,331.67H78.40L78.40,331.57H81.90L81.90,331.50H85.40L85.40,331.60H88.90L88.90,331.56H92.40L92.40,331.86H95.90L95.90,332.14H99.40L99.40,332.26H102.90L102.90,332.51H106.40L106.40,332.49H109.90L109.90,332.62H113.41L113.41,332.99H116.91L116.91,333.19H120.41L120.41,333.67H123.91L123.91,333.78H127.41L127.41,333.87H130.91L130.91,334.31H134.41L134.41,335.38H137.91L137.91,335.95H141.41L141.41,336.40H144.91L144.91,337.08H148.42L151.92,338.27H155.42L155.42,338.98H158.92L158.92,339.18H162.42L162.42,339.09H165.92L165.92,339.55H169.42L169.42,339.66H172.92L172.92,339.54H176.42L176.42,339.64H179.92L179.92,339.48H183.43L183.43,340.01H186.93L186.93,340.35H190.43L190.43,340.53H193.93L193.93,340.86H197.43L197.43,340.85H200.93L200.93,341.25H204.43L204.43,340.96H207.93L207.93,341.57H211.43L211.43,341.67H214.93L214.93,342.18H218.44L218.44,342.18H221.94L221.94,341.91H225.44L225.44,342.45H228.94L228.94,342.75H232.44L232.44,343.62H235.94L235.94,343.52H239.44L239.44,343.69H242.94L242.94,343.44H246.44M71.39,334.54H74.89L74.89,335.19H78.40L78.40,335.80H81.90L81.90,336.73H85.40L85.40,337.48H88.90L88.90,338.46H92.40L92.40,339.58H95.90L95.90,340.65H99.40L99.40,341.85H102.90L102.90,342.93H106.40L106.40,344.29H109.90L109.90,345.50H113.41L113.41,346.49H116.91L116.91,347.80H120.41L120.41,348.83H123.91L123.91,350.23H127.41L127.41,351.66H130.91L130.91,352.82H134.41L134.41,353.40H137.91L137.91,354.48H141.41L141.41,355.67H144.91L144.91,356.64H148.42L151.92,359.68H155.42L155.42,360.55H158.92L158.92,361.47H162.42L162.42,362.60H165.92L165.92,363.19H169.42L169.42,364.12H172.92L172.92,365.29H176.42L176.42,366.24H179.92L179.92,367.44H183.43L183.43,367.96H186.93L186.93,368.66H190.43L190.43,369.56H193.93L193.93,370.50H197.43L197.43,371.76H200.93L200.93,372.61H204.43L204.43,374.16H207.93L207.93,374.81H211.43L211.43,375.97H214.93L214.93,376.72H218.44L218.44,377.97H221.94L221.94,379.50H225.44L225.44,380.22H228.94L228.94,381.17H232.44L232.44,381.56H235.94L235.94,382.92H239.44L239.44,384.00H242.94L242.94,385.51H246.44" stroke="#55c055" stroke-width="0.7" fill="none"/>
<polygon points="66.14,331.68 69.64,332.46 73.14,332.39 76.65,331.81 80.15,331.49 83.65,331.90 87.15,332.09 90.65,332.17 94.15,333.27 97.65,333.77 101.15,335.03 104.65,335.94 108.15,337.05 111.66,338.02 115.16,339.08 118.66,341.26 122.16,343.01 125.66,345.43 129.16,347.17 132.66,349.12 136.16,350.55 139.66,352.23 143.16,353.40 146.67,354.88 153.67,349.45 157.17,350.44 160.67,350.85 164.17,350.35 167.67,351.06 171.17,352.43 174.67,351.54 178.17,353.04 181.68,354.07 185.18,353.37 188.68,354.87 192.18,355.84 195.68,356.40 199.18,357.37 202.68,356.79 206.18,358.90 209.68,357.45 213.18,358.56 216.69,360.55 220.19,361.21 223.69,362.33 227.19,362.09 230.69,361.76 234.19,363.72 237.69,365.36 241.19,365.79 244.69,366.72 244.69,457.79 241.19,455.75 237.69,453.21 234.19,451.88 230.69,450.78 227.19,447.35 223.69,444.00 220.19,442.02 216.69,439.57 213.18,438.47 209.68,436.62 206.18,432.29 202.68,431.54 199.18,428.09 195.68,426.19 192.18,423.89 188.68,421.90 185.18,420.44 181.68,416.77 178.17,414.83 174.67,413.36 171.17,409.51 167.67,408.68 164.17,407.34 160.67,404.80 157.17,402.51 153.67,400.37 146.67,387.80 143.16,385.72 139.66,383.32 136.16,381.43 132.66,379.30 129.16,377.32 125.66,374.17 122.16,371.70 118.66,368.98 115.16,367.34 111.66,365.10 108.15,362.82 104.65,360.68 101.15,358.49 97.65,356.66 94.15,353.95 90.65,351.50 87.15,348.81 83.65,346.38 80.15,344.16 76.65,342.17 73.14,339.96 69.64,338.12 66.14,334.86" fill="rgba(40,160,230,0.12)"/>
<path d="M83.65,331.90V346.38M87.15,332.09V348.81M101.15,335.03V358.49M104.65,335.94V360.68M108.15,337.05V362.82M122.16,343.01V371.70M153.67,349.45V400.37M157.17,350.44V402.51M160.67,350.85V404.80M167.67,351.06V408.68M185.18,353.37V420.44M213.18,358.56V438.47M216.69,360.55V439.57M227.19,362.09V447.35M244.69,366.72V457.79" stroke="#88c6ee" stroke-opacity="0.55" stroke-width="0.8" fill="none"/>
<path d="M66.14,331.68V334.86M69.64,332.46V338.12M73.14,332.39V339.96M80.15,331.49V344.16M97.65,333.77V356.66M111.66,338.02V365.10M125.66,345.43V374.17M132.66,349.12V379.30M143.16,353.40V385.72M146.67,354.88V387.80M171.17,352.43V409.51M178.17,353.04V414.83M181.68,354.07V416.77M192.18,355.84V423.89M195.68,356.40V426.19M199.18,357.37V428.09M206.18,358.90V432.29M209.68,357.45V436.62M220.19,361.21V442.02M230.69,361.76V450.78M241.19,365.79V455.75" stroke="#88c6ee" stroke-opacity="0.8" stroke-width="0.8" fill="none"/>
<path d="M76.65,331.81V342.17M90.65,332.17V351.50M94.15,333.27V353.95M115.16,339.08V367.34M118.66,341.26V368.98M129.16,347.17V377.32M136.16,350.55V381.43M139.66,352.23V383.32M164.17,350.35V407.34M174.67,351.54V413.36M188.68,354.87V421.90M202.68,356.79V431.54M223.69,362.33V444.00M234.19,363.72V451.88M237.69,365.36V453.21" stroke="#88c6ee" stroke-opacity="1.0" stroke-width="0.8" fill="none"/>
<path d="M64.39,331.68H67.89L67.89,332.46H71.39L71.39,332.39H74.89L74.89,331.81H78.40L78.40,331.49H81.90L81.90,331.90H85.40L85.40,332.09H88.90L88.90,332.17H92.40L92.40,333.27H95.90L95.90,333.77H99.40L99.40,335.03H102.90L102.90,335.94H106.40L106.40,337.05H109.90L109.90,338.02H113.41L113.41,339.08H116.91L116.91,341.26H120.41L120.41,343.01H123.91L123.91,345.43H127.41L127.41,347.17H130.91L130.91,349.12H134.41L134.41,350.55H137.91L137.91,352.23H141.41L141.41,353.40H144.91L144.91,354.88H148.42L151.92,349.45H155.42L155.42,350.44H158.92L158.92,350.85H162.42L162.42,350.35H165.92L165.92,351.06H169.42L169.42,352.43H172.92L172.92,351.54H176.42L176.42,353.04H179.92L179.92,354.07H183.43L183.43,353.37H186.93L186.93,354.87H190.43L190.43,355.84H193.93L193.93,356.40H197.43L197.43,357.37H200.93L200.93,356.79H204.43L204.43,358.90H207.93L207.93,357.45H211.43L211.43,358.56H214.93L214.93,360.55H218.44L218.44,361.21H221.94L221.94,362.33H225.44L225.44,362.09H228.94L228.94,361.76H232.44L232.44,363.72H235.94L235.94,365.36H239.44L239.44,365.79H242.94L242.94,366.72H246.44M64.39,334.86H67.89L67.89,338.12H71.39L71.39,339.96H74.89L74.89,342.17H78.40L78.40,344.16H81.90L81.90,346.38H85.40L85.40,348.81H88.90L88.90,351.50H92.40L92.40,353.95H95.90L95.90,356.66H99.40L99.40,358.49H102.90L102.90,360.68H106.40L106.40,362.82H109.90L109.90,365.10H113.41L113.41,367.34H116.91L116.91,368.98H120.41L120.41,371.70H123.91L123.91,374.17H127.41L127.41,377.32H130.91L130.91,379.30H134.41L134.41,381.43H137.91L137.91,383.32H141.41L141.41,385.72H144.91L144.91,387.80H148.42L151.92,400.37H155.42L155.42,402.51H158.92L158.92,404.80H162.42L162.42,407.34H165.92L165.92,408.68H169.42L169.42,409.51H172.92L172.92,413.36H176.42L176.42,414.83H179.92L179.92,416.77H183.43L183.43,420.44H186.93L186.93,421.90H190.43L190.43,423.89H193.93L193.93,426.19H197.43L197.43,428.09H200.93L200.93,431.54H204.43L204.43,432.29H207.93L207.93,436.62H211.43L211.43,438.47H214.93L214.93,439.57H218.44L218.44,442.02H221.94L221.94,444.00H225.44L225.44,447.35H228.94L228.94,450.78H232.44L232.44,451.88H235.94L235.94,453.21H239.44L239.44,455.75H242.94L242.94,457.79H246.44" stroke="#6cbcec" stroke-width="0.7" fill="none"/>
<polygon points="76.65,326.59 80.15,325.97 83.65,325.43 87.15,324.67 90.65,324.13 94.15,323.21 97.65,322.52 101.15,321.69 104.65,320.86 108.15,320.18 111.66,319.54 115.16,318.91 118.66,318.00 122.16,317.53 125.66,317.00 129.16,316.20 132.66,315.93 136.16,315.14 139.66,314.50 143.16,314.09 146.67,313.17 153.67,310.64 157.17,309.79 160.67,308.71 164.17,308.31 167.67,307.87 171.17,307.02 174.67,306.49 178.17,305.57 181.68,304.87 185.18,304.45 188.68,303.12 192.18,302.23 195.68,302.50 199.18,300.94 202.68,300.26 206.18,300.61 209.68,299.89 213.18,298.31 216.69,297.85 220.19,297.18 223.69,296.40 227.19,296.87 230.69,295.88 234.19,294.65 237.69,294.70 241.19,293.78 244.69,293.65 244.69,337.18 241.19,337.52 237.69,337.06 234.19,337.57 230.69,336.81 227.19,336.28 223.69,337.22 220.19,336.90 216.69,336.69 213.18,336.70 209.68,335.58 206.18,335.33 202.68,336.13 199.18,335.92 195.68,334.82 192.18,335.56 188.68,335.23 185.18,334.49 181.68,334.65 178.17,334.54 174.67,334.20 171.17,334.26 167.67,334.00 164.17,334.14 160.67,334.32 157.17,333.83 153.67,333.57 146.67,332.93 143.16,332.30 139.66,332.16 136.16,331.81 132.66,331.30 129.16,331.32 125.66,330.80 122.16,330.55 118.66,330.37 115.16,329.74 111.66,329.42 108.15,329.63 104.65,329.81 101.15,329.84 97.65,329.86 94.15,330.03 90.65,329.96 87.15,330.04 83.65,329.85 80.15,329.87 76.65,329.68" fill="rgba(130,40,230,0.12)"/>
<path d="M83.65,325.43V329.85M108.15,320.18V329.63M118.66,318.00V330.37M122.16,317.53V330.55M160.67,308.71V334.32M167.67,307.87V334.00M202.68,300.26V336.13M206.18,300.61V335.33M220.19,297.18V336.90M223.69,296.40V337.22M244.69,293.65V337.18" stroke="#ad7cf0" stroke-opacity="0.55" stroke-width="0.8" fill="none"/>
<path d="M87.15,324.67V330.04M97.65,322.52V329.86M101.15,321.69V329.84M104.65,320.86V329.81M111.66,319.54V329.42M115.16,318.91V329.74M125.66,317.00V330.80M129.16,316.20V331.32M136.16,315.14V331.81M139.66,314.50V332.16M143.16,314.09V332.30M146.67,313.17V332.93M153.67,310.64V333.57M164.17,308.31V334.14M178.17,305.57V334.54M188.68,303.12V335.23M192.18,302.23V335.56M213.18,298.31V336.70M216.69,297.85V336.69M237.69,294.70V337.06" stroke="#ad7cf0" stroke-opacity="0.8" stroke-width="0.8" fill="none"/>
<path d="M76.65,326.59V329.68M80.15,325.97V329.87M90.65,324.13V329.96M94.15,323.21V330.03M132.66,315.93V331.30M157.17,309.79V333.83M171.17,307.02V334.26M174.67,306.49V334.20M181.68,304.87V334.65M185.18,304.45V334.49M195.68,302.50V334.82M199.18,300.94V335.92M209.68,299.89V335.58M227.19,296.87V336.28M230.69,295.88V336.81M234.19,294.65V337.57M241.19,293.78V337.52" stroke="#ad7cf0" stroke-opacity="1.0" stroke-width="0.8" fill="none"/>
<path d="M74.89,326.59H78.40L78.40,325.97H81.90L81.90,325.43H85.40L85.40,324.67H88.90L88.90,324.13H92.40L92.40,323.21H95.90L95.90,322.52H99.40L99.40,321.69H102.90L102.90,320.86H106.40L106.40,320.18H109.90L109.90,319.54H113.41L113.41,318.91H116.91L116.91,318.00H120.41L120.41,317.53H123.91L123.91,317.00H127.41L127.41,316.20H130.91L130.91,315.93H134.41L134.41,315.14H137.91L137.91,314.50H141.41L141.41,314.09H144.91L144.91,313.17H148.42L151.92,310.64H155.42L155.42,309.79H158.92L158.92,308.71H162.42L162.42,308.31H165.92L165.92,307.87H169.42L169.42,307.02H172.92L172.92,306.49H176.42L176.42,305.57H179.92L179.92,304.87H183.43L183.43,304.45H186.93L186.93,303.12H190.43L190.43,302.23H193.93L193.93,302.50H197.43L197.43,300.94H200.93L200.93,300.26H204.43L204.43,300.61H207.93L207.93,299.89H211.43L211.43,298.31H214.93L214.93,297.85H218.44L218.44,297.18H221.94L221.94,296.40H225.44L225.44,296.87H228.94L228.94,295.88H232.44L232.44,294.65H235.94L235.94,294.70H239.44L239.44,293.78H242.94L242.94,293.65H246.44M74.89,329.68H78.40L78.40,329.87H81.90L81.90,329.85H85.40L85.40,330.04H88.90L88.90,329.96H92.40L92.40,330.03H95.90L95.90,329.86H99.40L99.40,329.84H102.90L102.90,329.81H106.40L106.40,329.63H109.90L109.90,329.42H113.41L113.41,329.74H116.91L116.91,330.37H120.41L120.41,330.55H123.91L123.91,330.80H127.41L127.41,331.32H130.91L130.91,331.30H134.41L134.41,331.81H137.91L137.91,332.16H141.41L141.41,332.30H144.91L144.91,332.93H148.42L151.92,333.57H155.42L155.42,333.83H158.92L158.92,334.32H162.42L162.42,334.14H165.92L165.92,334.00H169.42L169.42,334.26H172.92L172.92,334.20H176.42L176.42,334.54H179.92L179.92,334.65H183.43L183.43,334.49H186.93L186.93,335.23H190.43L190.43,335.56H193.93L193.93,334.82H197.43L197.43,335.92H200.93L200.93,336.13H204.43L204.43,335.33H207.93L207.93,335.58H211.43L211.43,336.70H214.93L214.93,336.69H218.44L218.44,336.90H221.94L221.94,337.22H225.44L225.44,336.28H228.94L228.94,336.81H232.44L232.44,337.57H235.94L235.94,337.06H239.44L239.44,337.52H242.94L242.94,337.18H246.44" stroke="#9a60ee" stroke-width="0.7" fill="none"/>
<polygon points="76.65,328.92 80.15,328.57 83.65,328.05 87.15,327.66 90.65,327.21 94.15,326.68 97.65,326.09 101.15,325.75 104.65,325.22 108.15,324.79 111.66,324.13 115.16,323.66 118.66,323.31 122.16,322.84 125.66,322.19 129.16,321.80 132.66,321.39 136.16,320.89 139.66,320.45 143.16,319.87 146.67,319.33 153.67,317.97 157.17,317.68 160.67,317.67 164.17,316.96 167.67,316.69 171.17,316.83 174.67,316.43 178.17,316.17 181.68,315.87 185.18,315.47 188.68,315.13 192.18,314.64 195.68,314.23 199.18,314.13 202.68,313.85 206.18,313.94 209.68,313.58 213.18,312.70 216.69,312.68 220.19,312.16 223.69,311.93 227.19,311.73 230.69,311.48 234.19,311.50 237.69,310.94 241.19,310.76 244.69,310.26 244.69,336.77 241.19,336.49 237.69,336.53 234.19,336.19 230.69,336.43 227.19,336.40 223.69,336.43 220.19,336.42 216.69,336.12 213.18,336.32 209.68,335.66 206.18,335.52 202.68,335.83 199.18,335.77 195.68,335.89 192.18,335.71 188.68,335.43 185.18,335.31 181.68,335.13 178.17,335.06 174.67,335.01 171.17,334.84 167.67,335.20 164.17,335.15 160.67,334.66 157.17,334.88 153.67,334.80 146.67,334.96 143.16,334.76 139.66,334.52 136.16,334.41 132.66,334.25 129.16,334.18 125.66,334.13 122.16,333.82 118.66,333.68 115.16,333.67 111.66,333.54 108.15,333.23 104.65,333.13 101.15,332.93 97.65,332.93 94.15,332.69 90.65,332.49 87.15,332.33 83.65,332.23 80.15,331.99 76.65,331.73" fill="rgba(240,40,40,0.16)"/>
<path d="M83.65,328.05V332.23M87.15,327.66V332.33M97.65,326.09V332.93M125.66,322.19V334.13M129.16,321.80V334.18M132.66,321.39V334.25M139.66,320.45V334.52M143.16,319.87V334.76M146.67,319.33V334.96M153.67,317.97V334.80M157.17,317.68V334.88M164.17,316.96V335.15M174.67,316.43V335.01M181.68,315.87V335.13M185.18,315.47V335.31M195.68,314.23V335.89M202.68,313.85V335.83M209.68,313.58V335.66M213.18,312.70V336.32M220.19,312.16V336.42M227.19,311.73V336.40M230.69,311.48V336.43M237.69,310.94V336.53M244.69,310.26V336.77" stroke="#ee8888" stroke-opacity="0.55" stroke-width="0.8" fill="none"/>
<path d="M80.15,328.57V331.99M90.65,327.21V332.49M101.15,325.75V332.93M115.16,323.66V333.67M122.16,322.84V333.82M160.67,317.67V334.66M167.67,316.69V335.20M171.17,316.83V334.84M188.68,315.13V335.43M206.18,313.94V335.52M223.69,311.93V336.43M234.19,311.50V336.19M241.19,310.76V336.49" stroke="#ee8888" stroke-opacity="0.8" stroke-width="0.8" fill="none"/>
<path d="M76.65,328.92V331.73M94.15,326.68V332.69M104.65,325.22V333.13M108.15,324.79V333.23M111.66,324.13V333.54M118.66,323.31V333.68M136.16,320.89V334.41M178.17,316.17V335.06M192.18,314.64V335.71M199.18,314.13V335.77M216.69,312.68V336.12" stroke="#ee8888" stroke-opacity="1.0" stroke-width="0.8" fill="none"/>
<path d="M74.89,328.92H78.40L78.40,328.57H81.90L81.90,328.05H85.40L85.40,327.66H88.90L88.90,327.21H92.40L92.40,326.68H95.90L95.90,326.09H99.40L99.40,325.75H102.90L102.90,325.22H106.40L106.40,324.79H109.90L109.90,324.13H113.41L113.41,323.66H116.91L116.91,323.31H120.41L120.41,322.84H123.91L123.91,322.19H127.41L127.41,321.80H130.91L130.91,321.39H134.41L134.41,320.89H137.91L137.91,320.45H141.41L141.41,319.87H144.91L144.91,319.33H148.42L151.92,317.97H155.42L155.42,317.68H158.92L158.92,317.67H162.42L162.42,316.96H165.92L165.92,316.69H169.42L169.42,316.83H172.92L172.92,316.43H176.42L176.42,316.17H179.92L179.92,315.87H183.43L183.43,315.47H186.93L186.93,315.13H190.43L190.43,314.64H193.93L193.93,314.23H197.43L197.43,314.13H200.93L200.93,313.85H204.43L204.43,313.94H207.93L207.93,313.58H211.43L211.43,312.70H214.93L214.93,312.68H218.44L218.44,312.16H221.94L221.94,311.93H225.44L225.44,311.73H228.94L228.94,311.48H232.44L232.44,311.50H235.94L235.94,310.94H239.44L239.44,310.76H242.94L242.94,310.26H246.44M74.89,331.73H78.40L78.40,331.99H81.90L81.90,332.23H85.40L85.40,332.33H88.90L88.90,332.49H92.40L92.40,332.69H95.90L95.90,332.93H99.40L99.40,332.93H102.90L102.90,333.13H106.40L106.40,333.23H109.90L109.90,333.54H113.41L113.41,333.67H116.91L116.91,333.68H120.41L120.41,333.82H123.91L123.91,334.13H127.41L127.41,334.18H130.91L130.91,334.25H134.41L134.41,334.41H137.91L137.91,334.52H141.41L141.41,334.76H144.91L144.91,334.96H148.42L151.92,334.80H155.42L155.42,334.88H158.92L158.92,334.66H162.42L162.42,335.15H165.92L165.92,335.20H169.42L169.42,334.84H172.92L172.92,335.01H176.42L176.42,335.06H179.92L179.92,335.13H183.43L183.43,335.31H186.93L186.93,335.43H190.43L190.43,335.71H193.93L193.93,335.89H197.43L197.43,335.77H200.93L200.93,335.83H204.43L204.43,335.52H207.93L207.93,335.66H211.43L211.43,336.32H214.93L214.93,336.12H218.44L218.44,336.42H221.94L221.94,336.43H225.44L225.44,336.40H228.94L228.94,336.43H232.44L232.44,336.19H235.94L235.94,336.53H239.44L239.44,336.49H242.94L242.94,336.77H246.44" stroke="#ee5050" stroke-width="0.7" fill="none"/>
<polyline points="61.86,330.80 62.25,330.90 62.64,331.01 63.03,331.11 63.42,331.22 63.81,331.32 64.20,331.43 64.59,331.53 64.98,331.64 65.36,331.74 65.75,331.85 66.14,331.95 66.53,332.06 66.92,332.16 67.31,332.27 67.70,332.37 68.09,332.48 68.48,332.58 68.87,332.69 69.25,332.79 69.64,332.90 70.03,332.96 70.42,332.99 70.81,333.02 71.20,333.04 71.59,333.07 71.98,333.10 72.37,333.13 72.76,333.15 73.14,333.18 73.53,333.21 73.92,333.24 74.31,333.27 74.70,333.29 75.09,333.32 75.48,333.35 75.87,333.38 76.26,333.40 76.65,333.43 77.03,333.46 77.42,333.49 77.81,333.51 78.20,333.54 78.59,333.57 78.98,333.60 79.37,333.62 79.76,333.65 80.15,333.69 80.54,333.74 80.92,333.78 81.31,333.83 81.70,333.88 82.09,333.92 82.48,333.97 82.87,334.02 83.26,334.07 83.65,334.11 84.04,334.16 84.43,334.21 84.81,334.25 85.20,334.30 85.59,334.35 85.98,334.40 86.37,334.44 86.76,334.49 87.15,334.54 87.54,334.59 87.93,334.63 88.32,334.68 88.70,334.73 89.09,334.77 89.48,334.82 89.87,334.87 90.26,334.93 90.65,335.01 91.04,335.09 91.43,335.17 91.82,335.25 92.21,335.32 92.59,335.40 92.98,335.48 93.37,335.56 93.76,335.64 94.15,335.72 94.54,335.80 94.93,335.88 95.32,335.95 95.71,336.03 96.10,336.10 96.48,336.17 96.87,336.25 97.26,336.32 97.65,336.39 98.04,336.47 98.43,336.54 98.82,336.61 99.21,336.69 99.60,336.76 99.99,336.84 100.37,336.91 100.76,336.98 101.15,337.06 101.54,337.13 101.93,337.20 102.32,337.28 102.71,337.35 103.10,337.42 103.49,337.50 103.88,337.57 104.26,337.65 104.65,337.72 105.04,337.79 105.43,337.87 105.82,337.94 106.21,338.02 106.60,338.09 106.99,338.17 107.38,338.24 107.77,338.32 108.15,338.39 108.54,338.47 108.93,338.54 109.32,338.62 109.71,338.69 110.10,338.77 110.49,338.84 110.88,338.92 111.27,338.99 111.66,339.06 112.04,339.14 112.43,339.21 112.82,339.29 113.21,339.36 113.60,339.44 113.99,339.51 114.38,339.59 114.77,339.66 115.16,339.74 115.55,339.83 115.93,339.91 116.32,339.99 116.71,340.08 117.10,340.16 117.49,340.25 117.88,340.33 118.27,340.41 118.66,340.50 119.05,340.58 119.44,340.67 119.82,340.75 120.21,340.83 120.60,340.92 120.99,341.00 121.38,341.09 121.77,341.17 122.16,341.25 122.55,341.34 122.94,341.42 123.33,341.50 123.71,341.59 124.10,341.67 124.49,341.76 124.88,341.84 125.27,341.92 125.66,342.01 126.05,342.09 126.44,342.18 126.83,342.26 127.22,342.34 127.60,342.43 127.99,342.51 128.38,342.60 128.77,342.68 129.16,342.76 129.55,342.85 129.94,342.93 130.33,343.02 130.72,343.11 131.11,343.20 131.49,343.29 131.88,343.39 132.27,343.48 132.66,343.57 133.05,343.66 133.44,343.75 133.83,343.84 134.22,343.93 134.61,344.02 135.00,344.12 135.38,344.21 135.77,344.30 136.16,344.39 136.55,344.48 136.94,344.57 137.33,344.66 137.72,344.76 138.11,344.85 138.50,344.94 138.89,345.03 139.27,345.12 139.66,345.21 140.05,345.30 140.44,345.40 140.83,345.49 141.22,345.58 141.61,345.67 142.00,345.76 142.39,345.85 142.78,345.94 143.16,346.04 143.55,346.13 143.94,346.22 144.33,346.31 144.72,346.40 145.11,346.49 145.50,346.58 145.89,346.68 146.28,346.77 146.67,346.86 147.05,346.95 147.44,347.04 147.83,347.13 148.22,347.22 148.61,347.33 149.00,347.46 149.39,347.59 149.78,347.71" fill="none" stroke="#0db40d" stroke-width="3.5" stroke-linejoin="round" stroke-linecap="butt"/>
<polyline points="150.94,348.09 151.33,348.22 151.72,348.34 152.11,348.47 152.50,348.60 152.89,348.72 153.28,348.85 153.67,348.98 154.06,349.10 154.45,349.23 154.83,349.36 155.22,349.45 155.61,349.51 156.00,349.58 156.39,349.64 156.78,349.70 157.17,349.76 157.56,349.83 157.95,349.89 158.34,349.95 158.72,350.02 159.11,350.08 159.50,350.14 159.89,350.21 160.28,350.27 160.67,350.32 161.06,350.38 161.45,350.44 161.84,350.50 162.23,350.56 162.61,350.61 163.00,350.67 163.39,350.73 163.78,350.79 164.17,350.85 164.56,350.91 164.95,350.96 165.34,351.02 165.73,351.08 166.12,351.14 166.50,351.20 166.89,351.25 167.28,351.31 167.67,351.37 168.06,351.43 168.45,351.49 168.84,351.54 169.23,351.60 169.62,351.66 170.01,351.72 170.39,351.78 170.78,351.83 171.17,351.89 171.56,351.95 171.95,352.01 172.34,352.07 172.73,352.13 173.12,352.18 173.51,352.24 173.90,352.30 174.28,352.36 174.67,352.42 175.06,352.47 175.45,352.53 175.84,352.59 176.23,352.65 176.62,352.71 177.01,352.76 177.40,352.82 177.79,352.88 178.17,352.94 178.56,353.00 178.95,353.05 179.34,353.11 179.73,353.17 180.12,353.23 180.51,353.29 180.90,353.35 181.29,353.40 181.68,353.46 182.06,353.52 182.45,353.58 182.84,353.64 183.23,353.69 183.62,353.75 184.01,353.81 184.40,353.87 184.79,353.93 185.18,353.98 185.57,354.04 185.95,354.10 186.34,354.16 186.73,354.22 187.12,354.27 187.51,354.33 187.90,354.39 188.29,354.45 188.68,354.51 189.07,354.57 189.46,354.62 189.84,354.68 190.23,354.74 190.62,354.80 191.01,354.86 191.40,354.91 191.79,354.98 192.18,355.05 192.57,355.12 192.96,355.19 193.35,355.26 193.73,355.33 194.12,355.40 194.51,355.47 194.90,355.54 195.29,355.61 195.68,355.68 196.07,355.75 196.46,355.82 196.85,355.89 197.24,355.96 197.62,356.03 198.01,356.10 198.40,356.17 198.79,356.23 199.18,356.30 199.57,356.37 199.96,356.44 200.35,356.51 200.74,356.58 201.13,356.65 201.51,356.72 201.90,356.79 202.29,356.86 202.68,356.93 203.07,357.00 203.46,357.07 203.85,357.14 204.24,357.21 204.63,357.28 205.02,357.35 205.40,357.42 205.79,357.49 206.18,357.56 206.57,357.63 206.96,357.70 207.35,357.77 207.74,357.84 208.13,357.91 208.52,357.98 208.91,358.05 209.29,358.12 209.68,358.19 210.07,358.26 210.46,358.33 210.85,358.40 211.24,358.47 211.63,358.54 212.02,358.61 212.41,358.68 212.80,358.75 213.18,358.82 213.57,358.89 213.96,358.96 214.35,359.03 214.74,359.10 215.13,359.17 215.52,359.24 215.91,359.31 216.30,359.38 216.69,359.45 217.07,359.52 217.46,359.59 217.85,359.66 218.24,359.73 218.63,359.80 219.02,359.87 219.41,359.94 219.80,360.01 220.19,360.08 220.58,360.15 220.96,360.22 221.35,360.29 221.74,360.36 222.13,360.43 222.52,360.50 222.91,360.57 223.30,360.64 223.69,360.71 224.08,360.77 224.47,360.84 224.85,360.91 225.24,360.98 225.63,361.05 226.02,361.12 226.41,361.19 226.80,361.26 227.19,361.33 227.58,361.40 227.97,361.47 228.36,361.54 228.74,361.61 229.13,361.68 229.52,361.75 229.91,361.82 230.30,361.89 230.69,361.96 231.08,362.03 231.47,362.10 231.86,362.17 232.25,362.24 232.63,362.31 233.02,362.38 233.41,362.45 233.80,362.52 234.19,362.59 234.58,362.66 234.97,362.73 235.36,362.80 235.75,362.87 236.14,362.94 236.52,363.01 236.91,363.08 237.30,363.15 237.69,363.22 238.08,363.29 238.47,363.36 238.86,363.43 239.25,363.50 239.64,363.57 240.03,363.64 240.41,363.71 240.80,363.78 241.19,363.85 241.58,363.92 241.97,363.99 242.36,364.06 242.75,364.13 243.14,364.20 243.53,364.27 243.92,364.34 244.30,364.41 244.69,364.48 245.08,364.55 245.47,364.62 245.86,364.69 246.25,364.76 246.64,364.83 247.03,364.90 247.42,364.97 247.81,365.04" fill="none" stroke="#0db40d" stroke-width="3.5" stroke-linejoin="round" stroke-linecap="butt"/>
<polyline points="61.86,330.80 62.25,331.02 62.64,331.25 63.03,331.47 63.42,331.70 63.81,331.92 64.20,332.15 64.59,332.37 64.98,332.60 65.36,332.82 65.75,333.05 66.14,333.27 66.53,333.49 66.92,333.72 67.31,333.94 67.70,334.17 68.09,334.39 68.48,334.62 68.87,334.84 69.25,335.07 69.64,335.29 70.03,335.45 70.42,335.54 70.81,335.63 71.20,335.72 71.59,335.81 71.98,335.90 72.37,335.99 72.76,336.08 73.14,336.17 73.53,336.26 73.92,336.35 74.31,336.44 74.70,336.53 75.09,336.63 75.48,336.72 75.87,336.81 76.26,336.90 76.65,336.99 77.03,337.08 77.42,337.17 77.81,337.26 78.20,337.35 78.59,337.44 78.98,337.53 79.37,337.62 79.76,337.71 80.15,337.83 80.54,337.97 80.92,338.12 81.31,338.27 81.70,338.41 82.09,338.56 82.48,338.70 82.87,338.85 83.26,338.99 83.65,339.14 84.04,339.28 84.43,339.43 84.81,339.58 85.20,339.72 85.59,339.87 85.98,340.01 86.37,340.16 86.76,340.30 87.15,340.45 87.54,340.60 87.93,340.74 88.32,340.89 88.70,341.03 89.09,341.18 89.48,341.32 89.87,341.47 90.26,341.64 90.65,341.84 91.04,342.03 91.43,342.23 91.82,342.43 92.21,342.62 92.59,342.82 92.98,343.02 93.37,343.21 93.76,343.41 94.15,343.61 94.54,343.80 94.93,344.00 95.32,344.18 95.71,344.36 96.10,344.53 96.48,344.70 96.87,344.87 97.26,345.04 97.65,345.22 98.04,345.39 98.43,345.56 98.82,345.73 99.21,345.90 99.60,346.08 99.99,346.25 100.37,346.42 100.76,346.59 101.15,346.76 101.54,346.93 101.93,347.11 102.32,347.28 102.71,347.45 103.10,347.62 103.49,347.79 103.88,347.97 104.26,348.14 104.65,348.31 105.04,348.49 105.43,348.67 105.82,348.85 106.21,349.03 106.60,349.21 106.99,349.39 107.38,349.57 107.77,349.75 108.15,349.93 108.54,350.12 108.93,350.30 109.32,350.48 109.71,350.66 110.10,350.84 110.49,351.02 110.88,351.20 111.27,351.38 111.66,351.56 112.04,351.74 112.43,351.92 112.82,352.11 113.21,352.29 113.60,352.47 113.99,352.65 114.38,352.83 114.77,353.01 115.16,353.21 115.55,353.42 115.93,353.63 116.32,353.85 116.71,354.06 117.10,354.27 117.49,354.48 117.88,354.69 118.27,354.91 118.66,355.12 119.05,355.33 119.44,355.54 119.82,355.76 120.21,356.00 120.60,356.27 120.99,356.54 121.38,356.81 121.77,357.09 122.16,357.36 122.55,357.63 122.94,357.90 123.33,358.17 123.71,358.44 124.10,358.71 124.49,358.99 124.88,359.26 125.27,359.53 125.66,359.80 126.05,360.07 126.44,360.34 126.83,360.61 127.22,360.89 127.60,361.16 127.99,361.43 128.38,361.70 128.77,361.97 129.16,362.24 129.55,362.51 129.94,362.79 130.33,363.02 130.72,363.22 131.11,363.42 131.49,363.62 131.88,363.81 132.27,364.01 132.66,364.21 133.05,364.41 133.44,364.61 133.83,364.80 134.22,365.00 134.61,365.20 135.00,365.40 135.38,365.60 135.77,365.79 136.16,365.99 136.55,366.19 136.94,366.39 137.33,366.59 137.72,366.78 138.11,366.98 138.50,367.18 138.89,367.38 139.27,367.58 139.66,367.77 140.05,367.97 140.44,368.17 140.83,368.37 141.22,368.57 141.61,368.77 142.00,368.96 142.39,369.16 142.78,369.36 143.16,369.56 143.55,369.76 143.94,369.95 144.33,370.15 144.72,370.35 145.11,370.55 145.50,370.75 145.89,370.94 146.28,371.14 146.67,371.34 147.05,371.54 147.44,371.74 147.83,371.93 148.22,372.13 148.61,372.33 149.00,372.53 149.39,372.73 149.78,372.93" fill="none" stroke="#2ea2f0" stroke-width="3.9" stroke-linejoin="round" stroke-linecap="butt"/>
<polyline points="150.94,373.52 151.33,373.72 151.72,373.92 152.11,374.12 152.50,374.32 152.89,374.52 153.28,374.71 153.67,374.91 154.06,375.11 154.45,375.31 154.83,375.51 155.22,375.69 155.61,375.84 156.00,376.00 156.39,376.16 156.78,376.32 157.17,376.47 157.56,376.63 157.95,376.79 158.34,376.95 158.72,377.10 159.11,377.26 159.50,377.42 159.89,377.57 160.28,377.71 160.67,377.82 161.06,377.94 161.45,378.05 161.84,378.16 162.23,378.28 162.61,378.39 163.00,378.51 163.39,378.62 163.78,378.73 164.17,378.85 164.56,378.96 164.95,379.07 165.34,379.19 165.73,379.30 166.12,379.42 166.50,379.53 166.89,379.64 167.28,379.76 167.67,379.87 168.06,379.98 168.45,380.10 168.84,380.21 169.23,380.32 169.62,380.44 170.01,380.55 170.39,380.67 170.78,380.80 171.17,380.97 171.56,381.13 171.95,381.30 172.34,381.46 172.73,381.63 173.12,381.79 173.51,381.96 173.90,382.12 174.28,382.29 174.67,382.45 175.06,382.62 175.45,382.78 175.84,382.95 176.23,383.11 176.62,383.28 177.01,383.44 177.40,383.61 177.79,383.77 178.17,383.94 178.56,384.10 178.95,384.27 179.34,384.43 179.73,384.60 180.12,384.76 180.51,384.93 180.90,385.09 181.29,385.25 181.68,385.42 182.06,385.58 182.45,385.75 182.84,385.91 183.23,386.08 183.62,386.24 184.01,386.41 184.40,386.57 184.79,386.74 185.18,386.90 185.57,387.07 185.95,387.23 186.34,387.40 186.73,387.56 187.12,387.73 187.51,387.89 187.90,388.06 188.29,388.22 188.68,388.39 189.07,388.55 189.46,388.72 189.84,388.88 190.23,389.05 190.62,389.21 191.01,389.38 191.40,389.54 191.79,389.70 192.18,389.86 192.57,390.02 192.96,390.18 193.35,390.34 193.73,390.50 194.12,390.66 194.51,390.82 194.90,390.98 195.29,391.14 195.68,391.30 196.07,391.46 196.46,391.61 196.85,391.77 197.24,391.93 197.62,392.09 198.01,392.25 198.40,392.41 198.79,392.57 199.18,392.73 199.57,392.89 199.96,393.05 200.35,393.21 200.74,393.37 201.13,393.53 201.51,393.69 201.90,393.85 202.29,394.00 202.68,394.16 203.07,394.32 203.46,394.48 203.85,394.64 204.24,394.80 204.63,394.96 205.02,395.12 205.40,395.28 205.79,395.44 206.18,395.60 206.57,395.76 206.96,395.92 207.35,396.08 207.74,396.24 208.13,396.39 208.52,396.55 208.91,396.71 209.29,396.87 209.68,397.03 210.07,397.19 210.46,397.35 210.85,397.51 211.24,397.67 211.63,397.83 212.02,397.99 212.41,398.17 212.80,398.34 213.18,398.51 213.57,398.68 213.96,398.86 214.35,399.03 214.74,399.20 215.13,399.37 215.52,399.55 215.91,399.72 216.30,399.89 216.69,400.06 217.07,400.24 217.46,400.41 217.85,400.58 218.24,400.75 218.63,400.93 219.02,401.10 219.41,401.27 219.80,401.44 220.19,401.62 220.58,401.79 220.96,401.96 221.35,402.13 221.74,402.30 222.13,402.48 222.52,402.65 222.91,402.82 223.30,402.99 223.69,403.17 224.08,403.34 224.47,403.51 224.85,403.68 225.24,403.86 225.63,404.03 226.02,404.20 226.41,404.37 226.80,404.55 227.19,404.72 227.58,404.89 227.97,405.06 228.36,405.24 228.74,405.41 229.13,405.58 229.52,405.75 229.91,405.93 230.30,406.10 230.69,406.27 231.08,406.44 231.47,406.61 231.86,406.79 232.25,406.96 232.63,407.13 233.02,407.30 233.41,407.47 233.80,407.63 234.19,407.80 234.58,407.96 234.97,408.13 235.36,408.29 235.75,408.46 236.14,408.62 236.52,408.79 236.91,408.95 237.30,409.12 237.69,409.28 238.08,409.45 238.47,409.61 238.86,409.78 239.25,409.94 239.64,410.11 240.03,410.28 240.41,410.44 240.80,410.61 241.19,410.77 241.58,410.94 241.97,411.10 242.36,411.27 242.75,411.43 243.14,411.60 243.53,411.76 243.92,411.93 244.30,412.09 244.69,412.26 245.08,412.42 245.47,412.59 245.86,412.75 246.25,412.92 246.64,413.08 247.03,413.25 247.42,413.42 247.81,413.58" fill="none" stroke="#2ea2f0" stroke-width="3.9" stroke-linejoin="round" stroke-linecap="butt"/>
<polyline points="61.86,330.80 62.25,330.69 62.64,330.58 63.03,330.47 63.42,330.36 63.81,330.25 64.20,330.14 64.59,330.03 64.98,329.92 65.36,329.81 65.75,329.70 66.14,329.59 66.53,329.48 66.92,329.37 67.31,329.26 67.70,329.15 68.09,329.04 68.48,328.93 68.87,328.82 69.25,328.71 69.64,328.60 70.03,328.54 70.42,328.51 70.81,328.49 71.20,328.47 71.59,328.44 71.98,328.42 72.37,328.40 72.76,328.37 73.14,328.35 73.53,328.33 73.92,328.30 74.31,328.28 74.70,328.25 75.09,328.23 75.48,328.21 75.87,328.18 76.26,328.16 76.65,328.14 77.03,328.11 77.42,328.09 77.81,328.07 78.20,328.04 78.59,328.02 78.98,327.99 79.37,327.97 79.76,327.95 80.15,327.92 80.54,327.89 80.92,327.86 81.31,327.83 81.70,327.79 82.09,327.76 82.48,327.73 82.87,327.70 83.26,327.67 83.65,327.64 84.04,327.61 84.43,327.57 84.81,327.54 85.20,327.51 85.59,327.48 85.98,327.45 86.37,327.42 86.76,327.38 87.15,327.35 87.54,327.32 87.93,327.29 88.32,327.26 88.70,327.23 89.09,327.20 89.48,327.16 89.87,327.13 90.26,327.09 90.65,327.05 91.04,327.00 91.43,326.95 91.82,326.90 92.21,326.86 92.59,326.81 92.98,326.76 93.37,326.71 93.76,326.67 94.15,326.62 94.54,326.57 94.93,326.52 95.32,326.48 95.71,326.43 96.10,326.38 96.48,326.33 96.87,326.29 97.26,326.24 97.65,326.19 98.04,326.14 98.43,326.10 98.82,326.05 99.21,326.00 99.60,325.95 99.99,325.91 100.37,325.86 100.76,325.81 101.15,325.76 101.54,325.72 101.93,325.67 102.32,325.62 102.71,325.57 103.10,325.53 103.49,325.48 103.88,325.43 104.26,325.38 104.65,325.34 105.04,325.29 105.43,325.24 105.82,325.19 106.21,325.15 106.60,325.10 106.99,325.05 107.38,325.00 107.77,324.96 108.15,324.91 108.54,324.86 108.93,324.81 109.32,324.77 109.71,324.72 110.10,324.67 110.49,324.62 110.88,324.58 111.27,324.53 111.66,324.48 112.04,324.45 112.43,324.43 112.82,324.42 113.21,324.40 113.60,324.39 113.99,324.37 114.38,324.36 114.77,324.34 115.16,324.32 115.55,324.31 115.93,324.29 116.32,324.28 116.71,324.26 117.10,324.24 117.49,324.23 117.88,324.21 118.27,324.20 118.66,324.18 119.05,324.17 119.44,324.15 119.82,324.13 120.21,324.12 120.60,324.10 120.99,324.09 121.38,324.07 121.77,324.06 122.16,324.04 122.55,324.02 122.94,324.01 123.33,323.99 123.71,323.98 124.10,323.96 124.49,323.95 124.88,323.93 125.27,323.91 125.66,323.90 126.05,323.88 126.44,323.87 126.83,323.85 127.22,323.84 127.60,323.82 127.99,323.80 128.38,323.79 128.77,323.77 129.16,323.76 129.55,323.74 129.94,323.73 130.33,323.71 130.72,323.69 131.11,323.68 131.49,323.66 131.88,323.65 132.27,323.63 132.66,323.62 133.05,323.60 133.44,323.58 133.83,323.57 134.22,323.55 134.61,323.54 135.00,323.52 135.38,323.51 135.77,323.49 136.16,323.47 136.55,323.46 136.94,323.44 137.33,323.43 137.72,323.41 138.11,323.40 138.50,323.38 138.89,323.36 139.27,323.35 139.66,323.33 140.05,323.32 140.44,323.30 140.83,323.28 141.22,323.27 141.61,323.25 142.00,323.24 142.39,323.22 142.78,323.21 143.16,323.19 143.55,323.17 143.94,323.16 144.33,323.14 144.72,323.13 145.11,323.11 145.50,323.10 145.89,323.08 146.28,323.06 146.67,323.05 147.05,323.03 147.44,322.98 147.83,322.89 148.22,322.81 148.61,322.72 149.00,322.63 149.39,322.54 149.78,322.46" fill="none" stroke="#8200e6" stroke-width="2.9" stroke-linejoin="round" stroke-linecap="butt"/>
<polyline points="150.94,322.33 151.33,322.30 151.72,322.27 152.11,322.23 152.50,322.20 152.89,322.17 153.28,322.14 153.67,322.10 154.06,322.07 154.45,322.04 154.83,322.01 155.22,321.97 155.61,321.94 156.00,321.91 156.39,321.88 156.78,321.84 157.17,321.81 157.56,321.78 157.95,321.75 158.34,321.71 158.72,321.68 159.11,321.65 159.50,321.61 159.89,321.58 160.28,321.55 160.67,321.52 161.06,321.48 161.45,321.45 161.84,321.42 162.23,321.39 162.61,321.35 163.00,321.32 163.39,321.29 163.78,321.26 164.17,321.22 164.56,321.19 164.95,321.16 165.34,321.13 165.73,321.09 166.12,321.06 166.50,321.03 166.89,321.00 167.28,320.96 167.67,320.93 168.06,320.90 168.45,320.87 168.84,320.83 169.23,320.80 169.62,320.77 170.01,320.74 170.39,320.70 170.78,320.67 171.17,320.64 171.56,320.61 171.95,320.57 172.34,320.54 172.73,320.51 173.12,320.48 173.51,320.44 173.90,320.41 174.28,320.38 174.67,320.35 175.06,320.31 175.45,320.28 175.84,320.25 176.23,320.22 176.62,320.18 177.01,320.15 177.40,320.12 177.79,320.09 178.17,320.05 178.56,320.02 178.95,319.99 179.34,319.96 179.73,319.92 180.12,319.89 180.51,319.86 180.90,319.83 181.29,319.79 181.68,319.76 182.06,319.73 182.45,319.70 182.84,319.66 183.23,319.63 183.62,319.60 184.01,319.57 184.40,319.53 184.79,319.50 185.18,319.47 185.57,319.44 185.95,319.40 186.34,319.37 186.73,319.34 187.12,319.31 187.51,319.27 187.90,319.24 188.29,319.21 188.68,319.18 189.07,319.14 189.46,319.11 189.84,319.08 190.23,319.05 190.62,319.01 191.01,318.98 191.40,318.95 191.79,318.92 192.18,318.89 192.57,318.87 192.96,318.84 193.35,318.82 193.73,318.79 194.12,318.77 194.51,318.74 194.90,318.71 195.29,318.69 195.68,318.66 196.07,318.64 196.46,318.61 196.85,318.59 197.24,318.56 197.62,318.53 198.01,318.51 198.40,318.48 198.79,318.46 199.18,318.43 199.57,318.41 199.96,318.38 200.35,318.35 200.74,318.33 201.13,318.30 201.51,318.28 201.90,318.25 202.29,318.22 202.68,318.20 203.07,318.17 203.46,318.15 203.85,318.12 204.24,318.10 204.63,318.07 205.02,318.04 205.40,318.02 205.79,317.99 206.18,317.97 206.57,317.94 206.96,317.92 207.35,317.89 207.74,317.86 208.13,317.84 208.52,317.81 208.91,317.79 209.29,317.76 209.68,317.74 210.07,317.71 210.46,317.68 210.85,317.66 211.24,317.63 211.63,317.61 212.02,317.58 212.41,317.56 212.80,317.53 213.18,317.50 213.57,317.48 213.96,317.45 214.35,317.43 214.74,317.40 215.13,317.38 215.52,317.35 215.91,317.32 216.30,317.30 216.69,317.27 217.07,317.25 217.46,317.22 217.85,317.19 218.24,317.17 218.63,317.14 219.02,317.12 219.41,317.09 219.80,317.07 220.19,317.04 220.58,317.01 220.96,316.99 221.35,316.96 221.74,316.94 222.13,316.91 222.52,316.89 222.91,316.86 223.30,316.83 223.69,316.81 224.08,316.78 224.47,316.76 224.85,316.73 225.24,316.71 225.63,316.68 226.02,316.65 226.41,316.63 226.80,316.60 227.19,316.58 227.58,316.55 227.97,316.53 228.36,316.50 228.74,316.47 229.13,316.45 229.52,316.42 229.91,316.40 230.30,316.37 230.69,316.34 231.08,316.32 231.47,316.29 231.86,316.27 232.25,316.24 232.63,316.22 233.02,316.19 233.41,316.16 233.80,316.14 234.19,316.11 234.58,316.09 234.97,316.06 235.36,316.04 235.75,316.01 236.14,315.98 236.52,315.96 236.91,315.93 237.30,315.91 237.69,315.88 238.08,315.86 238.47,315.83 238.86,315.80 239.25,315.78 239.64,315.75 240.03,315.73 240.41,315.70 240.80,315.68 241.19,315.65 241.58,315.62 241.97,315.60 242.36,315.57 242.75,315.55 243.14,315.52 243.53,315.50 243.92,315.47 244.30,315.44 244.69,315.42 245.08,315.39 245.47,315.37 245.86,315.34 246.25,315.31 246.64,315.29 247.03,315.26 247.42,315.25 247.81,315.25" fill="none" stroke="#8200e6" stroke-width="2.9" stroke-linejoin="round" stroke-linecap="butt"/>
<polyline points="61.86,330.80 62.25,330.78 62.64,330.76 63.03,330.74 63.42,330.72 63.81,330.70 64.20,330.68 64.59,330.66 64.98,330.64 65.36,330.62 65.75,330.60 66.14,330.58 66.53,330.56 66.92,330.54 67.31,330.52 67.70,330.50 68.09,330.48 68.48,330.46 68.87,330.44 69.25,330.42 69.64,330.40 70.03,330.39 70.42,330.38 70.81,330.38 71.20,330.38 71.59,330.37 71.98,330.37 72.37,330.37 72.76,330.36 73.14,330.36 73.53,330.35 73.92,330.35 74.31,330.35 74.70,330.34 75.09,330.34 75.48,330.33 75.87,330.33 76.26,330.33 76.65,330.32 77.03,330.32 77.42,330.31 77.81,330.31 78.20,330.31 78.59,330.30 78.98,330.30 79.37,330.29 79.76,330.29 80.15,330.28 80.54,330.26 80.92,330.25 81.31,330.23 81.70,330.22 82.09,330.20 82.48,330.19 82.87,330.17 83.26,330.15 83.65,330.14 84.04,330.12 84.43,330.11 84.81,330.09 85.20,330.08 85.59,330.06 85.98,330.04 86.37,330.03 86.76,330.01 87.15,330.00 87.54,329.98 87.93,329.97 88.32,329.95 88.70,329.93 89.09,329.92 89.48,329.90 89.87,329.89 90.26,329.87 90.65,329.85 91.04,329.83 91.43,329.81 91.82,329.79 92.21,329.78 92.59,329.76 92.98,329.74 93.37,329.72 93.76,329.70 94.15,329.68 94.54,329.66 94.93,329.64 95.32,329.63 95.71,329.61 96.10,329.59 96.48,329.57 96.87,329.55 97.26,329.53 97.65,329.51 98.04,329.49 98.43,329.48 98.82,329.46 99.21,329.44 99.60,329.42 99.99,329.40 100.37,329.38 100.76,329.36 101.15,329.34 101.54,329.33 101.93,329.31 102.32,329.29 102.71,329.27 103.10,329.25 103.49,329.23 103.88,329.21 104.26,329.19 104.65,329.17 105.04,329.16 105.43,329.14 105.82,329.12 106.21,329.10 106.60,329.08 106.99,329.06 107.38,329.04 107.77,329.02 108.15,329.01 108.54,328.99 108.93,328.97 109.32,328.95 109.71,328.93 110.10,328.91 110.49,328.89 110.88,328.87 111.27,328.86 111.66,328.84 112.04,328.82 112.43,328.80 112.82,328.78 113.21,328.76 113.60,328.74 113.99,328.72 114.38,328.70 114.77,328.69 115.16,328.67 115.55,328.65 115.93,328.63 116.32,328.61 116.71,328.59 117.10,328.57 117.49,328.55 117.88,328.54 118.27,328.52 118.66,328.50 119.05,328.48 119.44,328.46 119.82,328.44 120.21,328.42 120.60,328.40 120.99,328.39 121.38,328.37 121.77,328.35 122.16,328.33 122.55,328.31 122.94,328.29 123.33,328.27 123.71,328.25 124.10,328.24 124.49,328.22 124.88,328.20 125.27,328.18 125.66,328.16 126.05,328.14 126.44,328.12 126.83,328.10 127.22,328.08 127.60,328.07 127.99,328.05 128.38,328.03 128.77,328.01 129.16,327.99 129.55,327.97 129.94,327.95 130.33,327.93 130.72,327.92 131.11,327.90 131.49,327.88 131.88,327.86 132.27,327.84 132.66,327.82 133.05,327.80 133.44,327.78 133.83,327.77 134.22,327.75 134.61,327.73 135.00,327.71 135.38,327.69 135.77,327.67 136.16,327.65 136.55,327.63 136.94,327.62 137.33,327.60 137.72,327.58 138.11,327.56 138.50,327.54 138.89,327.52 139.27,327.50 139.66,327.48 140.05,327.46 140.44,327.45 140.83,327.43 141.22,327.41 141.61,327.39 142.00,327.37 142.39,327.35 142.78,327.33 143.16,327.31 143.55,327.30 143.94,327.28 144.33,327.26 144.72,327.24 145.11,327.22 145.50,327.20 145.89,327.18 146.28,327.16 146.67,327.15 147.05,327.13 147.44,327.07 147.83,326.99 148.22,326.90 148.61,326.81 149.00,326.72 149.39,326.63 149.78,326.55" fill="none" stroke="#f01414" stroke-width="3.7" stroke-linejoin="round" stroke-linecap="butt"/>
<polyline points="150.94,326.47 151.33,326.46 151.72,326.45 152.11,326.44 152.50,326.42 152.89,326.41 153.28,326.40 153.67,326.39 154.06,326.37 154.45,326.36 154.83,326.35 155.22,326.34 155.61,326.33 156.00,326.31 156.39,326.30 156.78,326.29 157.17,326.28 157.56,326.26 157.95,326.25 158.34,326.24 158.72,326.23 159.11,326.21 159.50,326.20 159.89,326.19 160.28,326.18 160.67,326.17 161.06,326.15 161.45,326.14 161.84,326.13 162.23,326.12 162.61,326.10 163.00,326.09 163.39,326.08 163.78,326.07 164.17,326.06 164.56,326.04 164.95,326.03 165.34,326.02 165.73,326.01 166.12,325.99 166.50,325.98 166.89,325.97 167.28,325.96 167.67,325.94 168.06,325.93 168.45,325.92 168.84,325.91 169.23,325.90 169.62,325.88 170.01,325.87 170.39,325.86 170.78,325.85 171.17,325.83 171.56,325.82 171.95,325.81 172.34,325.80 172.73,325.79 173.12,325.77 173.51,325.76 173.90,325.75 174.28,325.74 174.67,325.72 175.06,325.71 175.45,325.70 175.84,325.69 176.23,325.67 176.62,325.66 177.01,325.65 177.40,325.64 177.79,325.63 178.17,325.61 178.56,325.60 178.95,325.59 179.34,325.58 179.73,325.56 180.12,325.55 180.51,325.54 180.90,325.53 181.29,325.52 181.68,325.50 182.06,325.49 182.45,325.48 182.84,325.47 183.23,325.45 183.62,325.44 184.01,325.43 184.40,325.42 184.79,325.40 185.18,325.39 185.57,325.38 185.95,325.37 186.34,325.36 186.73,325.34 187.12,325.33 187.51,325.32 187.90,325.31 188.29,325.29 188.68,325.28 189.07,325.27 189.46,325.26 189.84,325.25 190.23,325.23 190.62,325.22 191.01,325.21 191.40,325.20 191.79,325.18 192.18,325.17 192.57,325.16 192.96,325.15 193.35,325.13 193.73,325.12 194.12,325.11 194.51,325.10 194.90,325.09 195.29,325.07 195.68,325.06 196.07,325.05 196.46,325.04 196.85,325.02 197.24,325.01 197.62,325.00 198.01,324.99 198.40,324.98 198.79,324.96 199.18,324.95 199.57,324.94 199.96,324.93 200.35,324.91 200.74,324.90 201.13,324.89 201.51,324.88 201.90,324.86 202.29,324.85 202.68,324.84 203.07,324.83 203.46,324.82 203.85,324.80 204.24,324.79 204.63,324.78 205.02,324.77 205.40,324.75 205.79,324.74 206.18,324.73 206.57,324.72 206.96,324.70 207.35,324.69 207.74,324.68 208.13,324.67 208.52,324.66 208.91,324.64 209.29,324.63 209.68,324.62 210.07,324.61 210.46,324.59 210.85,324.58 211.24,324.57 211.63,324.56 212.02,324.55 212.41,324.53 212.80,324.52 213.18,324.51 213.57,324.50 213.96,324.48 214.35,324.47 214.74,324.46 215.13,324.45 215.52,324.43 215.91,324.42 216.30,324.41 216.69,324.40 217.07,324.39 217.46,324.37 217.85,324.36 218.24,324.35 218.63,324.34 219.02,324.32 219.41,324.31 219.80,324.30 220.19,324.29 220.58,324.28 220.96,324.26 221.35,324.25 221.74,324.24 222.13,324.23 222.52,324.21 222.91,324.20 223.30,324.19 223.69,324.18 224.08,324.16 224.47,324.15 224.85,324.14 225.24,324.13 225.63,324.12 226.02,324.10 226.41,324.09 226.80,324.08 227.19,324.07 227.58,324.05 227.97,324.04 228.36,324.03 228.74,324.02 229.13,324.01 229.52,323.99 229.91,323.98 230.30,323.97 230.69,323.96 231.08,323.94 231.47,323.93 231.86,323.92 232.25,323.91 232.63,323.89 233.02,323.88 233.41,323.87 233.80,323.86 234.19,323.85 234.58,323.83 234.97,323.82 235.36,323.81 235.75,323.80 236.14,323.78 236.52,323.77 236.91,323.76 237.30,323.75 237.69,323.74 238.08,323.72 238.47,323.71 238.86,323.70 239.25,323.69 239.64,323.67 240.03,323.66 240.41,323.65 240.80,323.64 241.19,323.62 241.58,323.61 241.97,323.60 242.36,323.59 242.75,323.58 243.14,323.56 243.53,323.55 243.92,323.54 244.30,323.53 244.69,323.51 245.08,323.50 245.47,323.49 245.86,323.48 246.25,323.47 246.64,323.45 247.03,323.44 247.42,323.43 247.81,323.43" fill="none" stroke="#f01414" stroke-width="3.7" stroke-linejoin="round" stroke-linecap="butt"/>
<rect x="59.20" y="428.00" width="76.30" height="48.20" fill="none" stroke="#b0b0b0" stroke-width="1"/>
<rect x="69.10" y="432.80" width="3.2" height="3.2" fill="#0db40d"/>
<text x="84.00" y="437.60" class="lg">NS</text>
<circle cx="70.70" cy="446.00" r="1.8" fill="#2ea2f0"/>
<text x="84.00" y="449.20" class="lg">EW</text>
<path d="M68.50,459.30L72.90,459.30L70.70,455.50Z" fill="#8200e6"/>
<text x="84.00" y="460.80" class="lg">vertical SPF</text>
<path d="M68.50,467.50L72.90,467.50L70.70,471.30Z" fill="#f01414"/>
<text x="84.00" y="472.40" class="lg">vertical nSPF</text>
<path d="M318.40,269.72 V484.50 H532.90" fill="none" stroke="#444" stroke-width="1.1"/>
<text x="312.80" y="489.62" text-anchor="end" class="tk">-400</text>
<text x="312.80" y="446.64" text-anchor="end" class="tk">-300</text>
<text x="312.80" y="403.66" text-anchor="end" class="tk">-200</text>
<text x="312.80" y="360.68" text-anchor="end" class="tk">-100</text>
<text x="312.80" y="317.70" text-anchor="end" class="tk">0</text>
<text x="312.80" y="274.72" text-anchor="end" class="tk">100</text>
<text x="318.40" y="500.80" text-anchor="middle" class="tk">2017</text>
<text x="357.40" y="500.80" text-anchor="middle" class="tk">2018</text>
<text x="396.40" y="500.80" text-anchor="middle" class="tk">2019</text>
<text x="435.40" y="500.80" text-anchor="middle" class="tk">2020</text>
<text x="474.40" y="500.80" text-anchor="middle" class="tk">2021</text>
<text x="513.40" y="500.80" text-anchor="middle" class="tk">2022</text>
<path d="M315.20,484.62H318.40M316.60,463.13H318.40M315.20,441.64H318.40M316.60,420.15H318.40M315.20,398.66H318.40M316.60,377.17H318.40M315.20,355.68H318.40M316.60,334.19H318.40M315.20,312.70H318.40M316.60,291.21H318.40M315.20,269.72H318.40M318.40,484.50V487.50M337.90,484.50V486.30M357.40,484.50V487.50M376.90,484.50V486.30M396.40,484.50V487.50M415.90,484.50V486.30M435.40,484.50V487.50M454.90,484.50V486.30M474.40,484.50V487.50M493.90,484.50V486.30M513.40,484.50V487.50M532.90,484.50V486.30" fill="none" stroke="#444" stroke-width="1"/>
<text x="426.80" y="523.20" text-anchor="middle" class="lab">Year</text>
<text transform="translate(279.80,377.00) rotate(-90)" text-anchor="middle" class="lab">Displacement (m)</text>
<text x="523.50" y="291.20" class="pl">(d)</text>
<polygon points="334.58,314.43 338.09,316.58 341.60,318.73 345.11,321.34 348.62,323.06 352.13,323.73 355.64,324.23 359.15,325.08 362.66,326.16 366.17,327.18 369.68,328.29 373.19,330.03 376.70,331.49 380.21,333.03 383.72,334.70 387.23,336.11 390.74,337.34 394.25,338.67 397.76,339.44 401.27,340.19 404.78,340.75 408.29,341.17 411.80,341.87 418.82,343.24 422.33,344.96 425.84,345.98 429.35,347.37 432.86,347.88 436.37,349.30 439.88,349.93 443.39,350.94 446.90,351.97 450.41,353.26 453.92,355.71 457.43,357.12 460.94,358.35 464.45,359.68 467.96,360.13 471.47,361.85 474.98,362.15 478.49,365.10 482.00,366.93 485.51,367.78 489.02,368.62 492.53,370.08 496.04,371.38 499.55,372.12 503.06,373.40 506.57,375.02 510.08,375.17 510.08,410.69 506.57,407.79 503.06,406.37 499.55,404.62 496.04,402.32 492.53,400.58 489.02,398.99 485.51,396.80 482.00,394.61 478.49,391.88 474.98,389.48 471.47,387.53 467.96,386.99 464.45,384.93 460.94,383.37 457.43,381.69 453.92,380.21 450.41,376.31 446.90,373.56 443.39,372.46 439.88,371.33 436.37,369.93 432.86,369.49 429.35,368.12 425.84,367.46 422.33,365.51 418.82,364.26 411.80,358.08 408.29,356.60 404.78,354.84 401.27,353.22 397.76,351.77 394.25,350.29 390.74,349.36 387.23,347.85 383.72,346.03 380.21,344.48 376.70,342.80 373.19,341.03 369.68,339.61 366.17,337.81 362.66,335.94 359.15,334.11 355.64,332.54 352.13,330.90 348.62,329.43 345.11,326.84 341.60,323.19 338.09,320.02 334.58,316.85" fill="rgba(0,170,0,0.12)"/>
<path d="M352.13,323.73V330.90M362.66,326.16V335.94M373.19,330.03V341.03M380.21,333.03V344.48M383.72,334.70V346.03M401.27,340.19V353.22M404.78,340.75V354.84M408.29,341.17V356.60M418.82,343.24V364.26M422.33,344.96V365.51M439.88,349.93V371.33M443.39,350.94V372.46M453.92,355.71V380.21M464.45,359.68V384.93M467.96,360.13V386.99M503.06,373.40V406.37" stroke="#7fcc7f" stroke-opacity="0.55" stroke-width="0.8" fill="none"/>
<path d="M338.09,316.58V320.02M341.60,318.73V323.19M345.11,321.34V326.84M348.62,323.06V329.43M355.64,324.23V332.54M359.15,325.08V334.11M366.17,327.18V337.81M369.68,328.29V339.61M376.70,331.49V342.80M390.74,337.34V349.36M411.80,341.87V358.08M425.84,345.98V367.46M432.86,347.88V369.49M450.41,353.26V376.31M460.94,358.35V383.37M478.49,365.10V391.88M496.04,371.38V402.32M499.55,372.12V404.62M510.08,375.17V410.69" stroke="#7fcc7f" stroke-opacity="0.8" stroke-width="0.8" fill="none"/>
<path d="M334.58,314.43V316.85M387.23,336.11V347.85M394.25,338.67V350.29M397.76,339.44V351.77M429.35,347.37V368.12M436.37,349.30V369.93M446.90,351.97V373.56M457.43,357.12V381.69M471.47,361.85V387.53M474.98,362.15V389.48M482.00,366.93V394.61M485.51,367.78V396.80M489.02,368.62V398.99M492.53,370.08V400.58M506.57,375.02V407.79" stroke="#7fcc7f" stroke-opacity="1.0" stroke-width="0.8" fill="none"/>
<path d="M332.83,314.43H336.34L336.34,316.58H339.85L339.85,318.73H343.36L343.36,321.34H346.87L346.87,323.06H350.38L350.38,323.73H353.89L353.89,324.23H357.40L357.40,325.08H360.91L360.91,326.16H364.42L364.42,327.18H367.93L367.93,328.29H371.44L371.44,330.03H374.95L374.95,331.49H378.46L378.46,333.03H381.97L381.97,334.70H385.48L385.48,336.11H388.99L388.99,337.34H392.50L392.50,338.67H396.01L396.01,339.44H399.52L399.52,340.19H403.03L403.03,340.75H406.54L406.54,341.17H410.05L410.05,341.87H413.56L417.07,343.24H420.58L420.58,344.96H424.09L424.09,345.98H427.60L427.60,347.37H431.11L431.11,347.88H434.62L434.62,349.30H438.13L438.13,349.93H441.64L441.64,350.94H445.15L445.15,351.97H448.66L448.66,353.26H452.17L452.17,355.71H455.68L455.68,357.12H459.19L459.19,358.35H462.70L462.70,359.68H466.21L466.21,360.13H469.72L469.72,361.85H473.23L473.23,362.15H476.74L476.74,365.10H480.25L480.25,366.93H483.76L483.76,367.78H487.27L487.27,368.62H490.78L490.78,370.08H494.29L494.29,371.38H497.80L497.80,372.12H501.31L501.31,373.40H504.82L504.82,375.02H508.33L508.33,375.17H511.84M332.83,316.85H336.34L336.34,320.02H339.85L339.85,323.19H343.36L343.36,326.84H346.87L346.87,329.43H350.38L350.38,330.90H353.89L353.89,332.54H357.40L357.40,334.11H360.91L360.91,335.94H364.42L364.42,337.81H367.93L367.93,339.61H371.44L371.44,341.03H374.95L374.95,342.80H378.46L378.46,344.48H381.97L381.97,346.03H385.48L385.48,347.85H388.99L388.99,349.36H392.50L392.50,350.29H396.01L396.01,351.77H399.52L399.52,353.22H403.03L403.03,354.84H406.54L406.54,356.60H410.05L410.05,358.08H413.56L417.07,364.26H420.58L420.58,365.51H424.09L424.09,367.46H427.60L427.60,368.12H431.11L431.11,369.49H434.62L434.62,369.93H438.13L438.13,371.33H441.64L441.64,372.46H445.15L445.15,373.56H448.66L448.66,376.31H452.17L452.17,380.21H455.68L455.68,381.69H459.19L459.19,383.37H462.70L462.70,384.93H466.21L466.21,386.99H469.72L469.72,387.53H473.23L473.23,389.48H476.74L476.74,391.88H480.25L480.25,394.61H483.76L483.76,396.80H487.27L487.27,398.99H490.78L490.78,400.58H494.29L494.29,402.32H497.80L497.80,404.62H501.31L501.31,406.37H504.82L504.82,407.79H508.33L508.33,410.69H511.84" stroke="#55c055" stroke-width="0.7" fill="none"/>
<polygon points="334.58,314.91 338.09,318.16 341.60,321.64 345.11,324.68 348.62,326.85 352.13,327.96 355.64,329.28 359.15,330.64 362.66,332.26 366.17,333.87 369.68,335.44 373.19,337.33 376.70,339.52 380.21,340.92 383.72,342.96 387.23,345.11 390.74,347.11 394.25,348.97 397.76,350.34 401.27,351.92 404.78,353.49 408.29,355.31 411.80,356.88 418.82,361.58 422.33,363.40 425.84,366.47 429.35,368.05 432.86,370.10 436.37,371.74 439.88,372.64 443.39,373.22 446.90,375.15 450.41,379.46 453.92,383.78 457.43,385.59 460.94,388.04 464.45,389.98 467.96,392.80 471.47,394.68 474.98,395.63 478.49,397.26 482.00,397.87 485.51,399.83 489.02,401.40 492.53,402.87 496.04,405.43 499.55,407.81 503.06,409.00 506.57,411.35 510.08,413.85 510.08,470.08 506.57,466.84 503.06,463.22 499.55,458.44 496.04,454.85 492.53,451.89 489.02,448.57 485.51,445.34 482.00,442.69 478.49,439.71 474.98,437.74 471.47,434.96 467.96,430.65 464.45,427.28 460.94,423.36 457.43,419.92 453.92,414.51 450.41,408.78 446.90,404.15 443.39,402.69 439.88,400.78 436.37,399.53 432.86,397.66 429.35,395.67 425.84,393.00 422.33,390.71 418.82,387.17 411.80,380.09 408.29,377.87 404.78,375.89 401.27,373.67 397.76,371.46 394.25,369.04 390.74,365.97 387.23,363.13 383.72,360.77 380.21,358.29 376.70,355.19 373.19,352.86 369.68,350.30 366.17,347.77 362.66,345.26 359.15,342.77 355.64,340.38 352.13,338.14 348.62,335.71 345.11,332.21 341.60,328.06 338.09,323.49 334.58,318.67" fill="rgba(40,160,230,0.12)"/>
<path d="M341.60,321.64V328.06M366.17,333.87V347.77M373.19,337.33V352.86M376.70,339.52V355.19M383.72,342.96V360.77M390.74,347.11V365.97M397.76,350.34V371.46M404.78,353.49V375.89M429.35,368.05V395.67M432.86,370.10V397.66M464.45,389.98V427.28M485.51,399.83V445.34M489.02,401.40V448.57M492.53,402.87V451.89" stroke="#88c6ee" stroke-opacity="0.55" stroke-width="0.8" fill="none"/>
<path d="M334.58,314.91V318.67M338.09,318.16V323.49M345.11,324.68V332.21M348.62,326.85V335.71M369.68,335.44V350.30M387.23,345.11V363.13M411.80,356.88V380.09M422.33,363.40V390.71M425.84,366.47V393.00M436.37,371.74V399.53M439.88,372.64V400.78M443.39,373.22V402.69M446.90,375.15V404.15M453.92,383.78V414.51M457.43,385.59V419.92M471.47,394.68V434.96M474.98,395.63V437.74M478.49,397.26V439.71M482.00,397.87V442.69M506.57,411.35V466.84" stroke="#88c6ee" stroke-opacity="0.8" stroke-width="0.8" fill="none"/>
<path d="M352.13,327.96V338.14M355.64,329.28V340.38M359.15,330.64V342.77M362.66,332.26V345.26M380.21,340.92V358.29M394.25,348.97V369.04M401.27,351.92V373.67M408.29,355.31V377.87M418.82,361.58V387.17M450.41,379.46V408.78M460.94,388.04V423.36M467.96,392.80V430.65M496.04,405.43V454.85M499.55,407.81V458.44M503.06,409.00V463.22M510.08,413.85V470.08" stroke="#88c6ee" stroke-opacity="1.0" stroke-width="0.8" fill="none"/>
<path d="M332.83,314.91H336.34L336.34,318.16H339.85L339.85,321.64H343.36L343.36,324.68H346.87L346.87,326.85H350.38L350.38,327.96H353.89L353.89,329.28H357.40L357.40,330.64H360.91L360.91,332.26H364.42L364.42,333.87H367.93L367.93,335.44H371.44L371.44,337.33H374.95L374.95,339.52H378.46L378.46,340.92H381.97L381.97,342.96H385.48L385.48,345.11H388.99L388.99,347.11H392.50L392.50,348.97H396.01L396.01,350.34H399.52L399.52,351.92H403.03L403.03,353.49H406.54L406.54,355.31H410.05L410.05,356.88H413.56L417.07,361.58H420.58L420.58,363.40H424.09L424.09,366.47H427.60L427.60,368.05H431.11L431.11,370.10H434.62L434.62,371.74H438.13L438.13,372.64H441.64L441.64,373.22H445.15L445.15,375.15H448.66L448.66,379.46H452.17L452.17,383.78H455.68L455.68,385.59H459.19L459.19,388.04H462.70L462.70,389.98H466.21L466.21,392.80H469.72L469.72,394.68H473.23L473.23,395.63H476.74L476.74,397.26H480.25L480.25,397.87H483.76L483.76,399.83H487.27L487.27,401.40H490.78L490.78,402.87H494.29L494.29,405.43H497.80L497.80,407.81H501.31L501.31,409.00H504.82L504.82,411.35H508.33L508.33,413.85H511.84M332.83,318.67H336.34L336.34,323.49H339.85L339.85,328.06H343.36L343.36,332.21H346.87L346.87,335.71H350.38L350.38,338.14H353.89L353.89,340.38H357.40L357.40,342.77H360.91L360.91,345.26H364.42L364.42,347.77H367.93L367.93,350.30H371.44L371.44,352.86H374.95L374.95,355.19H378.46L378.46,358.29H381.97L381.97,360.77H385.48L385.48,363.13H388.99L388.99,365.97H392.50L392.50,369.04H396.01L396.01,371.46H399.52L399.52,373.67H403.03L403.03,375.89H406.54L406.54,377.87H410.05L410.05,380.09H413.56L417.07,387.17H420.58L420.58,390.71H424.09L424.09,393.00H427.60L427.60,395.67H431.11L431.11,397.66H434.62L434.62,399.53H438.13L438.13,400.78H441.64L441.64,402.69H445.15L445.15,404.15H448.66L448.66,408.78H452.17L452.17,414.51H455.68L455.68,419.92H459.19L459.19,423.36H462.70L462.70,427.28H466.21L466.21,430.65H469.72L469.72,434.96H473.23L473.23,437.74H476.74L476.74,439.71H480.25L480.25,442.69H483.76L483.76,445.34H487.27L487.27,448.57H490.78L490.78,451.89H494.29L494.29,454.85H497.80L497.80,458.44H501.31L501.31,463.22H504.82L504.82,466.84H508.33L508.33,470.08H511.84" stroke="#6cbcec" stroke-width="0.7" fill="none"/>
<polygon points="348.62,309.66 352.13,309.39 355.64,309.22 359.15,309.02 362.66,309.00 366.17,308.89 369.68,308.82 373.19,308.80 376.70,308.68 380.21,308.67 383.72,308.51 387.23,308.47 390.74,308.48 394.25,308.41 397.76,308.26 401.27,308.19 404.78,308.22 408.29,308.05 411.80,308.02 418.82,307.89 422.33,307.81 425.84,307.83 429.35,307.78 432.86,307.73 436.37,307.63 439.88,307.48 443.39,307.55 446.90,307.39 450.41,307.41 453.92,307.29 457.43,307.23 460.94,307.18 464.45,307.16 467.96,307.11 471.47,307.06 474.98,306.88 478.49,306.86 482.00,306.74 485.51,306.67 489.02,306.64 492.53,306.67 496.04,306.60 499.55,306.57 503.06,306.36 506.57,306.29 510.08,306.27 510.08,312.31 506.57,312.35 503.06,312.35 499.55,312.20 496.04,312.25 492.53,312.23 489.02,312.33 485.51,312.36 482.00,312.36 478.49,312.31 474.98,312.35 471.47,312.24 467.96,312.24 464.45,312.26 460.94,312.31 457.43,312.32 453.92,312.33 450.41,312.27 446.90,312.35 443.39,312.26 439.88,312.40 436.37,312.30 432.86,312.28 429.35,312.28 425.84,312.30 422.33,312.39 418.82,312.37 411.80,312.39 408.29,312.43 404.78,312.33 401.27,312.44 397.76,312.44 394.25,312.37 390.74,312.37 387.23,312.45 383.72,312.49 380.21,312.41 376.70,312.47 373.19,312.42 369.68,312.48 366.17,312.48 362.66,312.44 359.15,312.50 355.64,312.37 352.13,312.27 348.62,312.08" fill="rgba(130,40,230,0.12)"/>
<path d="M348.62,309.66V312.08M352.13,309.39V312.27M355.64,309.22V312.37M380.21,308.67V312.41M383.72,308.51V312.49M401.27,308.19V312.44M422.33,307.81V312.39M425.84,307.83V312.30M432.86,307.73V312.28M436.37,307.63V312.30M439.88,307.48V312.40M446.90,307.39V312.35M450.41,307.41V312.27M485.51,306.67V312.36M492.53,306.67V312.23" stroke="#ad7cf0" stroke-opacity="0.55" stroke-width="0.8" fill="none"/>
<path d="M359.15,309.02V312.50M362.66,309.00V312.44M366.17,308.89V312.48M373.19,308.80V312.42M376.70,308.68V312.47M387.23,308.47V312.45M397.76,308.26V312.44M411.80,308.02V312.39M464.45,307.16V312.26M478.49,306.86V312.31M489.02,306.64V312.33M499.55,306.57V312.20M506.57,306.29V312.35M510.08,306.27V312.31" stroke="#ad7cf0" stroke-opacity="0.8" stroke-width="0.8" fill="none"/>
<path d="M369.68,308.82V312.48M390.74,308.48V312.37M394.25,308.41V312.37M404.78,308.22V312.33M408.29,308.05V312.43M418.82,307.89V312.37M429.35,307.78V312.28M443.39,307.55V312.26M453.92,307.29V312.33M457.43,307.23V312.32M460.94,307.18V312.31M467.96,307.11V312.24M471.47,307.06V312.24M474.98,306.88V312.35M482.00,306.74V312.36M496.04,306.60V312.25M503.06,306.36V312.35" stroke="#ad7cf0" stroke-opacity="1.0" stroke-width="0.8" fill="none"/>
<path d="M346.87,309.66H350.38L350.38,309.39H353.89L353.89,309.22H357.40L357.40,309.02H360.91L360.91,309.00H364.42L364.42,308.89H367.93L367.93,308.82H371.44L371.44,308.80H374.95L374.95,308.68H378.46L378.46,308.67H381.97L381.97,308.51H385.48L385.48,308.47H388.99L388.99,308.48H392.50L392.50,308.41H396.01L396.01,308.26H399.52L399.52,308.19H403.03L403.03,308.22H406.54L406.54,308.05H410.05L410.05,308.02H413.56L417.07,307.89H420.58L420.58,307.81H424.09L424.09,307.83H427.60L427.60,307.78H431.11L431.11,307.73H434.62L434.62,307.63H438.13L438.13,307.48H441.64L441.64,307.55H445.15L445.15,307.39H448.66L448.66,307.41H452.17L452.17,307.29H455.68L455.68,307.23H459.19L459.19,307.18H462.70L462.70,307.16H466.21L466.21,307.11H469.72L469.72,307.06H473.23L473.23,306.88H476.74L476.74,306.86H480.25L480.25,306.74H483.76L483.76,306.67H487.27L487.27,306.64H490.78L490.78,306.67H494.29L494.29,306.60H497.80L497.80,306.57H501.31L501.31,306.36H504.82L504.82,306.29H508.33L508.33,306.27H511.84M346.87,312.08H350.38L350.38,312.27H353.89L353.89,312.37H357.40L357.40,312.50H360.91L360.91,312.44H364.42L364.42,312.48H367.93L367.93,312.48H371.44L371.44,312.42H374.95L374.95,312.47H378.46L378.46,312.41H381.97L381.97,312.49H385.48L385.48,312.45H388.99L388.99,312.37H392.50L392.50,312.37H396.01L396.01,312.44H399.52L399.52,312.44H403.03L403.03,312.33H406.54L406.54,312.43H410.05L410.05,312.39H413.56L417.07,312.37H420.58L420.58,312.39H424.09L424.09,312.30H427.60L427.60,312.28H431.11L431.11,312.28H434.62L434.62,312.30H438.13L438.13,312.40H441.64L441.64,312.26H445.15L445.15,312.35H448.66L448.66,312.27H452.17L452.17,312.33H455.68L455.68,312.32H459.19L459.19,312.31H462.70L462.70,312.26H466.21L466.21,312.24H469.72L469.72,312.24H473.23L473.23,312.35H476.74L476.74,312.31H480.25L480.25,312.36H483.76L483.76,312.36H487.27L487.27,312.33H490.78L490.78,312.23H494.29L494.29,312.25H497.80L497.80,312.20H501.31L501.31,312.35H504.82L504.82,312.35H508.33L508.33,312.31H511.84" stroke="#9a60ee" stroke-width="0.7" fill="none"/>
<polygon points="359.15,310.70 362.66,311.13 366.17,311.50 369.68,311.90 373.19,311.90 376.70,311.82 380.21,311.78 383.72,311.66 387.23,311.58 390.74,311.51 394.25,311.49 397.76,311.37 401.27,311.34 404.78,311.30 408.29,311.12 411.80,311.07 418.82,310.89 422.33,311.00 425.84,311.10 429.35,311.02 432.86,311.10 436.37,311.42 439.88,311.49 443.39,311.47 446.90,311.71 450.41,311.13 453.92,313.87 457.43,313.61 460.94,313.34 464.45,313.10 467.96,312.84 471.47,313.06 474.98,313.31 478.49,313.16 482.00,313.77 485.51,313.74 489.02,314.20 492.53,314.09 496.04,314.21 499.55,313.96 503.06,313.92 506.57,313.28 510.08,313.20 510.08,330.39 506.57,330.45 503.06,329.96 499.55,330.07 496.04,329.97 492.53,330.18 489.02,329.41 485.51,329.21 482.00,328.51 478.49,328.45 474.98,327.63 471.47,327.21 467.96,327.29 464.45,327.21 460.94,327.15 457.43,327.07 453.92,326.99 450.41,321.60 446.90,320.07 443.39,319.93 439.88,319.51 436.37,319.20 432.86,319.14 429.35,318.83 425.84,318.36 422.33,318.08 418.82,317.95 411.80,317.69 408.29,317.54 404.78,317.26 401.27,317.12 397.76,316.98 394.25,316.76 390.74,316.64 387.23,316.47 383.72,316.28 380.21,316.06 376.70,315.91 373.19,315.73 369.68,315.47 366.17,314.78 362.66,314.06 359.15,313.41" fill="rgba(240,40,40,0.16)"/>
<path d="M359.15,310.70V313.41M362.66,311.13V314.06M366.17,311.50V314.78M373.19,311.90V315.73M397.76,311.37V316.98M411.80,311.07V317.69M418.82,310.89V317.95M422.33,311.00V318.08M436.37,311.42V319.20M446.90,311.71V320.07M453.92,313.87V326.99M460.94,313.34V327.15M467.96,312.84V327.29M471.47,313.06V327.21M474.98,313.31V327.63M489.02,314.20V329.41M506.57,313.28V330.45" stroke="#ee8888" stroke-opacity="0.55" stroke-width="0.8" fill="none"/>
<path d="M376.70,311.82V315.91M380.21,311.78V316.06M404.78,311.30V317.26M408.29,311.12V317.54M429.35,311.02V318.83M485.51,313.74V329.21M496.04,314.21V329.97M499.55,313.96V330.07M503.06,313.92V329.96M510.08,313.20V330.39" stroke="#ee8888" stroke-opacity="0.8" stroke-width="0.8" fill="none"/>
<path d="M369.68,311.90V315.47M383.72,311.66V316.28M387.23,311.58V316.47M390.74,311.51V316.64M394.25,311.49V316.76M401.27,311.34V317.12M425.84,311.10V318.36M432.86,311.10V319.14M439.88,311.49V319.51M443.39,311.47V319.93M450.41,311.13V321.60M457.43,313.61V327.07M464.45,313.10V327.21M478.49,313.16V328.45M482.00,313.77V328.51M492.53,314.09V330.18" stroke="#ee8888" stroke-opacity="1.0" stroke-width="0.8" fill="none"/>
<path d="M357.40,310.70H360.91L360.91,311.13H364.42L364.42,311.50H367.93L367.93,311.90H371.44L371.44,311.90H374.95L374.95,311.82H378.46L378.46,311.78H381.97L381.97,311.66H385.48L385.48,311.58H388.99L388.99,311.51H392.50L392.50,311.49H396.01L396.01,311.37H399.52L399.52,311.34H403.03L403.03,311.30H406.54L406.54,311.12H410.05L410.05,311.07H413.56L417.07,310.89H420.58L420.58,311.00H424.09L424.09,311.10H427.60L427.60,311.02H431.11L431.11,311.10H434.62L434.62,311.42H438.13L438.13,311.49H441.64L441.64,311.47H445.15L445.15,311.71H448.66L448.66,311.13H452.17L452.17,313.87H455.68L455.68,313.61H459.19L459.19,313.34H462.70L462.70,313.10H466.21L466.21,312.84H469.72L469.72,313.06H473.23L473.23,313.31H476.74L476.74,313.16H480.25L480.25,313.77H483.76L483.76,313.74H487.27L487.27,314.20H490.78L490.78,314.09H494.29L494.29,314.21H497.80L497.80,313.96H501.31L501.31,313.92H504.82L504.82,313.28H508.33L508.33,313.20H511.84M357.40,313.41H360.91L360.91,314.06H364.42L364.42,314.78H367.93L367.93,315.47H371.44L371.44,315.73H374.95L374.95,315.91H378.46L378.46,316.06H381.97L381.97,316.28H385.48L385.48,316.47H388.99L388.99,316.64H392.50L392.50,316.76H396.01L396.01,316.98H399.52L399.52,317.12H403.03L403.03,317.26H406.54L406.54,317.54H410.05L410.05,317.69H413.56L417.07,317.95H420.58L420.58,318.08H424.09L424.09,318.36H427.60L427.60,318.83H431.11L431.11,319.14H434.62L434.62,319.20H438.13L438.13,319.51H441.64L441.64,319.93H445.15L445.15,320.07H448.66L448.66,321.60H452.17L452.17,326.99H455.68L455.68,327.07H459.19L459.19,327.15H462.70L462.70,327.21H466.21L466.21,327.29H469.72L469.72,327.21H473.23L473.23,327.63H476.74L476.74,328.45H480.25L480.25,328.51H483.76L483.76,329.21H487.27L487.27,329.41H490.78L490.78,330.18H494.29L494.29,329.97H497.80L497.80,330.07H501.31L501.31,329.96H504.82L504.82,330.45H508.33L508.33,330.39H511.84" stroke="#ee5050" stroke-width="0.7" fill="none"/>
<polyline points="326.78,312.70 327.17,312.84 327.56,312.99 327.95,313.13 328.34,313.27 328.73,313.42 329.12,313.56 329.51,313.70 329.90,313.85 330.29,313.99 330.68,314.13 331.07,314.28 331.46,314.42 331.85,314.56 332.24,314.71 332.63,314.85 333.02,314.99 333.41,315.14 333.80,315.28 334.19,315.42 334.58,315.64 334.97,315.94 335.36,316.23 335.75,316.53 336.14,316.82 336.53,317.12 336.92,317.41 337.31,317.71 337.70,318.01 338.09,318.30 338.48,318.60 338.87,318.89 339.26,319.19 339.65,319.48 340.04,319.78 340.43,320.07 340.82,320.37 341.21,320.66 341.60,320.96 341.99,321.26 342.38,321.55 342.77,321.85 343.16,322.14 343.55,322.44 343.94,322.80 344.33,323.23 344.72,323.66 345.11,324.09 345.50,324.52 345.89,324.95 346.28,325.38 346.67,325.65 347.06,325.77 347.45,325.89 347.84,326.01 348.23,326.13 348.62,326.25 349.01,326.36 349.40,326.48 349.79,326.60 350.18,326.72 350.57,326.84 350.96,326.96 351.35,327.08 351.74,327.19 352.13,327.31 352.52,327.43 352.91,327.55 353.30,327.67 353.69,327.79 354.08,327.91 354.47,328.02 354.86,328.14 355.25,328.26 355.64,328.38 356.03,328.50 356.42,328.62 356.81,328.74 357.20,328.85 357.59,328.97 357.98,329.11 358.37,329.27 358.76,329.44 359.15,329.60 359.54,329.76 359.93,329.92 360.32,330.08 360.71,330.24 361.10,330.40 361.49,330.56 361.88,330.72 362.27,330.89 362.66,331.05 363.05,331.21 363.44,331.37 363.83,331.53 364.22,331.69 364.61,331.85 365.00,332.01 365.39,332.18 365.78,332.34 366.17,332.50 366.56,332.66 366.95,332.82 367.34,332.98 367.73,333.14 368.12,333.30 368.51,333.46 368.90,333.63 369.29,333.79 369.68,333.95 370.07,334.11 370.46,334.28 370.85,334.46 371.24,334.64 371.63,334.82 372.02,335.00 372.41,335.17 372.80,335.35 373.19,335.53 373.58,335.71 373.97,335.89 374.36,336.07 374.75,336.25 375.14,336.43 375.53,336.61 375.92,336.79 376.31,336.97 376.70,337.14 377.09,337.32 377.48,337.50 377.87,337.68 378.26,337.86 378.65,338.04 379.04,338.22 379.43,338.40 379.82,338.58 380.21,338.76 380.60,338.94 380.99,339.11 381.38,339.29 381.77,339.47 382.16,339.65 382.55,339.83 382.94,340.01 383.33,340.19 383.72,340.37 384.11,340.55 384.50,340.73 384.89,340.91 385.28,341.08 385.67,341.26 386.06,341.44 386.45,341.62 386.84,341.80 387.23,341.98 387.62,342.16 388.01,342.34 388.40,342.52 388.79,342.70 389.18,342.85 389.57,342.97 389.96,343.10 390.35,343.22 390.74,343.35 391.13,343.48 391.52,343.60 391.91,343.73 392.30,343.85 392.69,343.98 393.08,344.10 393.47,344.23 393.86,344.35 394.25,344.48 394.64,344.60 395.03,344.73 395.42,344.85 395.81,344.98 396.20,345.11 396.59,345.23 396.98,345.36 397.37,345.48 397.76,345.61 398.15,345.73 398.54,345.86 398.93,345.98 399.32,346.10 399.71,346.22 400.10,346.34 400.49,346.46 400.88,346.58 401.27,346.70 401.66,346.83 402.05,346.95 402.44,347.07 402.83,347.19 403.22,347.31 403.61,347.43 404.00,347.55 404.39,347.67 404.78,347.79 405.17,347.92 405.56,348.04 405.95,348.16 406.34,348.28 406.73,348.40 407.12,348.52 407.51,348.64 407.90,348.76 408.29,348.89 408.68,349.01 409.07,349.13 409.46,349.25 409.85,349.37 410.24,349.49 410.63,349.61 411.02,349.73 411.41,349.86 411.80,349.98 412.19,350.10 412.58,350.22 412.97,350.34 413.36,350.46 413.75,350.68 414.14,350.98 414.53,351.29 414.92,351.60" fill="none" stroke="#0db40d" stroke-width="3.5" stroke-linejoin="round" stroke-linecap="butt"/>
<polyline points="416.09,352.52 416.48,352.75 416.87,352.92 417.26,353.08 417.65,353.25 418.04,353.42 418.43,353.58 418.82,353.75 419.21,353.91 419.60,354.08 419.99,354.24 420.38,354.41 420.77,354.57 421.16,354.74 421.55,354.90 421.94,355.07 422.33,355.23 422.72,355.40 423.11,355.56 423.50,355.73 423.89,355.89 424.28,356.06 424.67,356.23 425.06,356.39 425.45,356.56 425.84,356.72 426.23,356.89 426.62,357.02 427.01,357.13 427.40,357.23 427.79,357.33 428.18,357.44 428.57,357.54 428.96,357.64 429.35,357.75 429.74,357.85 430.13,357.95 430.52,358.06 430.91,358.16 431.30,358.27 431.69,358.37 432.08,358.47 432.47,358.58 432.86,358.68 433.25,358.78 433.64,358.89 434.03,358.99 434.42,359.10 434.81,359.20 435.20,359.30 435.59,359.41 435.98,359.51 436.37,359.61 436.76,359.72 437.15,359.82 437.54,359.93 437.93,360.04 438.32,360.16 438.71,360.27 439.10,360.39 439.49,360.51 439.88,360.63 440.27,360.75 440.66,360.87 441.05,360.99 441.44,361.10 441.83,361.22 442.22,361.34 442.61,361.46 443.00,361.58 443.39,361.70 443.78,361.82 444.17,361.93 444.56,362.05 444.95,362.17 445.34,362.29 445.73,362.41 446.12,362.53 446.51,362.65 446.90,362.76 447.29,362.88 447.68,363.00 448.07,363.12 448.46,363.24 448.85,363.36 449.24,363.61 449.63,364.00 450.02,364.39 450.41,364.78 450.80,365.17 451.19,365.57 451.58,365.96 451.97,366.35 452.36,366.74 452.75,367.13 453.14,367.52 453.53,367.79 453.92,367.96 454.31,368.12 454.70,368.28 455.09,368.44 455.48,368.60 455.87,368.76 456.26,368.92 456.65,369.08 457.04,369.25 457.43,369.41 457.82,369.57 458.21,369.73 458.60,369.89 458.99,370.05 459.38,370.21 459.77,370.37 460.16,370.53 460.55,370.70 460.94,370.86 461.33,371.02 461.72,371.18 462.11,371.34 462.50,371.50 462.89,371.66 463.28,371.82 463.67,371.99 464.06,372.15 464.45,372.31 464.84,372.47 465.23,372.63 465.62,372.79 466.01,372.93 466.40,373.06 466.79,373.19 467.18,373.31 467.57,373.44 467.96,373.56 468.35,373.69 468.74,373.81 469.13,373.94 469.52,374.06 469.91,374.19 470.30,374.31 470.69,374.44 471.08,374.56 471.47,374.69 471.86,374.82 472.25,374.94 472.64,375.07 473.03,375.19 473.42,375.32 473.81,375.44 474.20,375.57 474.59,375.69 474.98,375.82 475.37,376.03 475.76,376.34 476.15,376.65 476.54,376.96 476.93,377.26 477.32,377.57 477.71,377.88 478.10,378.18 478.49,378.49 478.88,378.80 479.27,379.10 479.66,379.41 480.05,379.72 480.44,380.03 480.83,380.26 481.22,380.43 481.61,380.60 482.00,380.77 482.39,380.94 482.78,381.11 483.17,381.28 483.56,381.44 483.95,381.61 484.34,381.78 484.73,381.95 485.12,382.12 485.51,382.29 485.90,382.46 486.29,382.63 486.68,382.80 487.07,382.96 487.46,383.13 487.85,383.30 488.24,383.47 488.63,383.64 489.02,383.81 489.41,383.98 489.80,384.15 490.19,384.32 490.58,384.48 490.97,384.65 491.36,384.82 491.75,384.99 492.14,385.16 492.53,385.33 492.92,385.50 493.31,385.67 493.70,385.84 494.09,386.00 494.48,386.17 494.87,386.34 495.26,386.51 495.65,386.68 496.04,386.85 496.43,387.02 496.82,387.19 497.21,387.35 497.60,387.52 497.99,387.69 498.38,387.86 498.77,388.03 499.16,388.20 499.55,388.37 499.94,388.54 500.33,388.71 500.72,388.87 501.11,389.04 501.50,389.21 501.89,389.38 502.28,389.55 502.67,389.72 503.06,389.89 503.45,390.06 503.84,390.23 504.23,390.39 504.62,390.56 505.01,390.73 505.40,390.90 505.79,391.07 506.18,391.24 506.57,391.41 506.96,391.58 507.35,391.74 507.74,391.91 508.13,392.08 508.52,392.25 508.91,392.42 509.30,392.59 509.69,392.76 510.08,392.93 510.47,393.10 510.86,393.26 511.25,393.43 511.64,393.60 512.03,393.77 512.42,393.94 512.81,394.11 513.20,394.28" fill="none" stroke="#0db40d" stroke-width="3.5" stroke-linejoin="round" stroke-linecap="butt"/>
<polyline points="326.78,312.70 327.17,312.90 327.56,313.10 327.95,313.30 328.34,313.49 328.73,313.69 329.12,313.89 329.51,314.09 329.90,314.29 330.29,314.49 330.68,314.68 331.07,314.88 331.46,315.08 331.85,315.28 332.24,315.48 332.63,315.68 333.02,315.87 333.41,316.07 333.80,316.27 334.19,316.47 334.58,316.79 334.97,317.24 335.36,317.69 335.75,318.14 336.14,318.58 336.53,319.03 336.92,319.48 337.31,319.93 337.70,320.37 338.09,320.82 338.48,321.27 338.87,321.72 339.26,322.16 339.65,322.61 340.04,323.06 340.43,323.51 340.82,323.96 341.21,324.40 341.60,324.85 341.99,325.30 342.38,325.75 342.77,326.19 343.16,326.64 343.55,327.09 343.94,327.47 344.33,327.80 344.72,328.12 345.11,328.44 345.50,328.76 345.89,329.09 346.28,329.41 346.67,329.73 347.06,330.05 347.45,330.38 347.84,330.70 348.23,331.02 348.62,331.28 349.01,331.48 349.40,331.67 349.79,331.87 350.18,332.07 350.57,332.26 350.96,332.46 351.35,332.66 351.74,332.86 352.13,333.05 352.52,333.25 352.91,333.45 353.30,333.64 353.69,333.84 354.08,334.04 354.47,334.23 354.86,334.43 355.25,334.63 355.64,334.83 356.03,335.02 356.42,335.22 356.81,335.42 357.20,335.61 357.59,335.81 357.98,336.02 358.37,336.25 358.76,336.48 359.15,336.71 359.54,336.94 359.93,337.17 360.32,337.39 360.71,337.62 361.10,337.85 361.49,338.08 361.88,338.31 362.27,338.54 362.66,338.76 363.05,338.99 363.44,339.22 363.83,339.45 364.22,339.68 364.61,339.90 365.00,340.13 365.39,340.36 365.78,340.59 366.17,340.82 366.56,341.05 366.95,341.27 367.34,341.50 367.73,341.73 368.12,341.96 368.51,342.19 368.90,342.42 369.29,342.64 369.68,342.87 370.07,343.10 370.46,343.34 370.85,343.59 371.24,343.84 371.63,344.09 372.02,344.34 372.41,344.59 372.80,344.85 373.19,345.10 373.58,345.35 373.97,345.60 374.36,345.85 374.75,346.10 375.14,346.35 375.53,346.60 375.92,346.85 376.31,347.10 376.70,347.35 377.09,347.60 377.48,347.85 377.87,348.10 378.26,348.36 378.65,348.61 379.04,348.86 379.43,349.11 379.82,349.36 380.21,349.61 380.60,349.86 380.99,350.11 381.38,350.36 381.77,350.61 382.16,350.86 382.55,351.11 382.94,351.36 383.33,351.61 383.72,351.87 384.11,352.12 384.50,352.37 384.89,352.62 385.28,352.87 385.67,353.12 386.06,353.37 386.45,353.62 386.84,353.87 387.23,354.12 387.62,354.37 388.01,354.62 388.40,354.87 388.79,355.12 389.18,355.39 389.57,355.68 389.96,355.97 390.35,356.25 390.74,356.54 391.13,356.83 391.52,357.11 391.91,357.40 392.30,357.69 392.69,357.97 393.08,358.26 393.47,358.55 393.86,358.79 394.25,359.00 394.64,359.22 395.03,359.43 395.42,359.64 395.81,359.85 396.20,360.06 396.59,360.27 396.98,360.48 397.37,360.69 397.76,360.90 398.15,361.11 398.54,361.32 398.93,361.53 399.32,361.74 399.71,361.95 400.10,362.16 400.49,362.38 400.88,362.59 401.27,362.80 401.66,363.01 402.05,363.22 402.44,363.43 402.83,363.64 403.22,363.85 403.61,364.06 404.00,364.27 404.39,364.48 404.78,364.69 405.17,364.90 405.56,365.11 405.95,365.33 406.34,365.54 406.73,365.75 407.12,365.96 407.51,366.17 407.90,366.38 408.29,366.59 408.68,366.80 409.07,367.01 409.46,367.22 409.85,367.43 410.24,367.64 410.63,367.85 411.02,368.06 411.41,368.27 411.80,368.49 412.19,368.70 412.58,368.91 412.97,369.12 413.36,369.33 413.75,369.65 414.14,370.08 414.53,370.51 414.92,370.94" fill="none" stroke="#2ea2f0" stroke-width="3.9" stroke-linejoin="round" stroke-linecap="butt"/>
<polyline points="416.09,372.23 416.48,372.59 416.87,372.89 417.26,373.19 417.65,373.48 418.04,373.78 418.43,374.08 418.82,374.38 419.21,374.67 419.60,374.97 419.99,375.27 420.38,375.57 420.77,375.86 421.16,376.16 421.55,376.46 421.94,376.76 422.33,377.05 422.72,377.35 423.11,377.65 423.50,377.95 423.89,378.24 424.28,378.54 424.67,378.84 425.06,379.14 425.45,379.43 425.84,379.73 426.23,380.03 426.62,380.29 427.01,380.51 427.40,380.74 427.79,380.96 428.18,381.19 428.57,381.41 428.96,381.64 429.35,381.86 429.74,382.08 430.13,382.31 430.52,382.53 430.91,382.76 431.30,382.98 431.69,383.21 432.08,383.43 432.47,383.65 432.86,383.88 433.25,384.10 433.64,384.33 434.03,384.55 434.42,384.78 434.81,385.00 435.20,385.22 435.59,385.40 435.98,385.52 436.37,385.63 436.76,385.75 437.15,385.87 437.54,385.99 437.93,386.11 438.32,386.23 438.71,386.35 439.10,386.47 439.49,386.59 439.88,386.71 440.27,386.83 440.66,386.95 441.05,387.07 441.44,387.19 441.83,387.31 442.22,387.43 442.61,387.58 443.00,387.77 443.39,387.96 443.78,388.14 444.17,388.33 444.56,388.52 444.95,388.71 445.34,388.90 445.73,389.08 446.12,389.27 446.51,389.46 446.90,389.65 447.29,389.84 447.68,390.02 448.07,390.21 448.46,390.40 448.85,390.90 449.24,391.70 449.63,392.51 450.02,393.31 450.41,394.12 450.80,394.93 451.19,395.73 451.58,396.54 451.97,397.14 452.36,397.54 452.75,397.94 453.14,398.34 453.53,398.75 453.92,399.15 454.31,399.55 454.70,399.95 455.09,400.35 455.48,400.75 455.87,401.15 456.26,401.55 456.65,401.96 457.04,402.36 457.43,402.76 457.82,403.12 458.21,403.44 458.60,403.76 458.99,404.09 459.38,404.41 459.77,404.73 460.16,405.05 460.55,405.38 460.94,405.70 461.33,406.02 461.72,406.34 462.11,406.67 462.50,406.99 462.89,407.31 463.28,407.63 463.67,407.95 464.06,408.29 464.45,408.63 464.84,408.98 465.23,409.32 465.62,409.66 466.01,410.01 466.40,410.35 466.79,410.69 467.18,411.04 467.57,411.38 467.96,411.73 468.35,412.07 468.74,412.41 469.13,412.76 469.52,413.10 469.91,413.45 470.30,413.79 470.69,414.13 471.08,414.48 471.47,414.82 471.86,415.09 472.25,415.29 472.64,415.49 473.03,415.69 473.42,415.89 473.81,416.09 474.20,416.29 474.59,416.49 474.98,416.69 475.37,416.89 475.76,417.09 476.15,417.29 476.54,417.49 476.93,417.69 477.32,417.89 477.71,418.09 478.10,418.28 478.49,418.48 478.88,418.68 479.27,418.88 479.66,419.08 480.05,419.28 480.44,419.48 480.83,419.68 481.22,419.88 481.61,420.08 482.00,420.28 482.39,420.48 482.78,420.71 483.17,420.98 483.56,421.25 483.95,421.51 484.34,421.78 484.73,422.05 485.12,422.31 485.51,422.58 485.90,422.85 486.29,423.11 486.68,423.38 487.07,423.65 487.46,423.91 487.85,424.18 488.24,424.45 488.63,424.71 489.02,424.98 489.41,425.25 489.80,425.52 490.19,425.78 490.58,426.05 490.97,426.32 491.36,426.58 491.75,426.85 492.14,427.12 492.53,427.38 492.92,427.65 493.31,427.92 493.70,428.18 494.09,428.48 494.48,428.81 494.87,429.15 495.26,429.48 495.65,429.81 496.04,430.14 496.43,430.47 496.82,430.80 497.21,431.13 497.60,431.47 497.99,431.80 498.38,432.13 498.77,432.46 499.16,432.79 499.55,433.12 499.94,433.46 500.33,433.79 500.72,434.12 501.11,434.45 501.50,434.78 501.89,435.11 502.28,435.44 502.67,435.78 503.06,436.11 503.45,436.44 503.84,436.77 504.23,437.10 504.62,437.43 505.01,437.77 505.40,438.10 505.79,438.43 506.18,438.76 506.57,439.09 506.96,439.42 507.35,439.76 507.74,440.08 508.13,440.39 508.52,440.71 508.91,441.02 509.30,441.34 509.69,441.65 510.08,441.97 510.47,442.28 510.86,442.60 511.25,442.92 511.64,443.23 512.03,443.55 512.42,443.86 512.81,444.18 513.20,444.49" fill="none" stroke="#2ea2f0" stroke-width="3.9" stroke-linejoin="round" stroke-linecap="butt"/>
<polyline points="326.78,312.70 327.17,312.64 327.56,312.58 327.95,312.52 328.34,312.46 328.73,312.40 329.12,312.34 329.51,312.28 329.90,312.22 330.29,312.16 330.68,312.10 331.07,312.04 331.46,311.98 331.85,311.92 332.24,311.86 332.63,311.80 333.02,311.73 333.41,311.67 333.80,311.61 334.19,311.55 334.58,311.49 334.97,311.43 335.36,311.37 335.75,311.31 336.14,311.25 336.53,311.19 336.92,311.13 337.31,311.07 337.70,311.01 338.09,310.98 338.48,310.97 338.87,310.97 339.26,310.97 339.65,310.96 340.04,310.96 340.43,310.95 340.82,310.95 341.21,310.95 341.60,310.94 341.99,310.94 342.38,310.93 342.77,310.93 343.16,310.93 343.55,310.92 343.94,310.92 344.33,310.91 344.72,310.91 345.11,310.91 345.50,310.90 345.89,310.90 346.28,310.89 346.67,310.89 347.06,310.88 347.45,310.88 347.84,310.88 348.23,310.87 348.62,310.87 349.01,310.86 349.40,310.86 349.79,310.86 350.18,310.85 350.57,310.85 350.96,310.84 351.35,310.84 351.74,310.84 352.13,310.83 352.52,310.83 352.91,310.82 353.30,310.82 353.69,310.82 354.08,310.81 354.47,310.81 354.86,310.80 355.25,310.80 355.64,310.79 356.03,310.79 356.42,310.79 356.81,310.78 357.20,310.78 357.59,310.77 357.98,310.77 358.37,310.77 358.76,310.76 359.15,310.76 359.54,310.75 359.93,310.75 360.32,310.75 360.71,310.74 361.10,310.74 361.49,310.73 361.88,310.73 362.27,310.72 362.66,310.72 363.05,310.72 363.44,310.71 363.83,310.71 364.22,310.70 364.61,310.70 365.00,310.70 365.39,310.69 365.78,310.69 366.17,310.68 366.56,310.68 366.95,310.68 367.34,310.67 367.73,310.67 368.12,310.66 368.51,310.66 368.90,310.66 369.29,310.65 369.68,310.65 370.07,310.64 370.46,310.64 370.85,310.63 371.24,310.63 371.63,310.63 372.02,310.62 372.41,310.62 372.80,310.61 373.19,310.61 373.58,310.61 373.97,310.60 374.36,310.60 374.75,310.59 375.14,310.59 375.53,310.59 375.92,310.58 376.31,310.58 376.70,310.57 377.09,310.57 377.48,310.57 377.87,310.56 378.26,310.56 378.65,310.55 379.04,310.55 379.43,310.54 379.82,310.54 380.21,310.54 380.60,310.53 380.99,310.53 381.38,310.52 381.77,310.52 382.16,310.52 382.55,310.51 382.94,310.51 383.33,310.50 383.72,310.50 384.11,310.50 384.50,310.49 384.89,310.49 385.28,310.48 385.67,310.48 386.06,310.48 386.45,310.47 386.84,310.47 387.23,310.46 387.62,310.46 388.01,310.45 388.40,310.45 388.79,310.45 389.18,310.44 389.57,310.44 389.96,310.43 390.35,310.43 390.74,310.43 391.13,310.42 391.52,310.42 391.91,310.41 392.30,310.41 392.69,310.41 393.08,310.40 393.47,310.40 393.86,310.39 394.25,310.39 394.64,310.39 395.03,310.38 395.42,310.38 395.81,310.37 396.20,310.37 396.59,310.36 396.98,310.36 397.37,310.36 397.76,310.35 398.15,310.35 398.54,310.34 398.93,310.34 399.32,310.34 399.71,310.33 400.10,310.33 400.49,310.32 400.88,310.32 401.27,310.32 401.66,310.31 402.05,310.31 402.44,310.30 402.83,310.30 403.22,310.30 403.61,310.29 404.00,310.29 404.39,310.28 404.78,310.28 405.17,310.27 405.56,310.27 405.95,310.27 406.34,310.26 406.73,310.26 407.12,310.25 407.51,310.25 407.90,310.25 408.29,310.24 408.68,310.24 409.07,310.23 409.46,310.23 409.85,310.23 410.24,310.22 410.63,310.22 411.02,310.21 411.41,310.21 411.80,310.21 412.19,310.20 412.58,310.20 412.97,310.19 413.36,310.19 413.75,310.18 414.14,310.18 414.53,310.18 414.92,310.17" fill="none" stroke="#8200e6" stroke-width="2.9" stroke-linejoin="round" stroke-linecap="butt"/>
<polyline points="416.09,310.16 416.48,310.16 416.87,310.15 417.26,310.15 417.65,310.14 418.04,310.14 418.43,310.14 418.82,310.13 419.21,310.13 419.60,310.12 419.99,310.12 420.38,310.12 420.77,310.11 421.16,310.11 421.55,310.11 421.94,310.10 422.33,310.10 422.72,310.09 423.11,310.09 423.50,310.09 423.89,310.08 424.28,310.08 424.67,310.08 425.06,310.07 425.45,310.07 425.84,310.07 426.23,310.06 426.62,310.06 427.01,310.05 427.40,310.05 427.79,310.05 428.18,310.04 428.57,310.04 428.96,310.04 429.35,310.03 429.74,310.03 430.13,310.03 430.52,310.02 430.91,310.02 431.30,310.02 431.69,310.01 432.08,310.01 432.47,310.00 432.86,310.00 433.25,310.00 433.64,309.99 434.03,309.99 434.42,309.99 434.81,309.98 435.20,309.98 435.59,309.98 435.98,309.97 436.37,309.97 436.76,309.97 437.15,309.96 437.54,309.96 437.93,309.95 438.32,309.95 438.71,309.95 439.10,309.94 439.49,309.94 439.88,309.94 440.27,309.93 440.66,309.93 441.05,309.93 441.44,309.92 441.83,309.92 442.22,309.92 442.61,309.91 443.00,309.91 443.39,309.90 443.78,309.90 444.17,309.90 444.56,309.89 444.95,309.89 445.34,309.89 445.73,309.88 446.12,309.88 446.51,309.88 446.90,309.87 447.29,309.87 447.68,309.87 448.07,309.86 448.46,309.86 448.85,309.85 449.24,309.85 449.63,309.85 450.02,309.84 450.41,309.84 450.80,309.84 451.19,309.83 451.58,309.83 451.97,309.83 452.36,309.82 452.75,309.82 453.14,309.81 453.53,309.81 453.92,309.81 454.31,309.80 454.70,309.80 455.09,309.80 455.48,309.79 455.87,309.79 456.26,309.79 456.65,309.78 457.04,309.78 457.43,309.78 457.82,309.77 458.21,309.77 458.60,309.76 458.99,309.76 459.38,309.76 459.77,309.75 460.16,309.75 460.55,309.75 460.94,309.74 461.33,309.74 461.72,309.74 462.11,309.73 462.50,309.73 462.89,309.73 463.28,309.72 463.67,309.72 464.06,309.71 464.45,309.71 464.84,309.71 465.23,309.70 465.62,309.70 466.01,309.70 466.40,309.69 466.79,309.69 467.18,309.69 467.57,309.68 467.96,309.68 468.35,309.68 468.74,309.67 469.13,309.67 469.52,309.66 469.91,309.66 470.30,309.66 470.69,309.65 471.08,309.65 471.47,309.65 471.86,309.64 472.25,309.64 472.64,309.64 473.03,309.63 473.42,309.63 473.81,309.63 474.20,309.62 474.59,309.62 474.98,309.61 475.37,309.61 475.76,309.61 476.15,309.60 476.54,309.60 476.93,309.60 477.32,309.59 477.71,309.59 478.10,309.59 478.49,309.58 478.88,309.58 479.27,309.57 479.66,309.57 480.05,309.57 480.44,309.56 480.83,309.56 481.22,309.56 481.61,309.55 482.00,309.55 482.39,309.55 482.78,309.54 483.17,309.54 483.56,309.54 483.95,309.53 484.34,309.53 484.73,309.52 485.12,309.52 485.51,309.52 485.90,309.51 486.29,309.51 486.68,309.51 487.07,309.50 487.46,309.50 487.85,309.50 488.24,309.49 488.63,309.49 489.02,309.49 489.41,309.48 489.80,309.48 490.19,309.47 490.58,309.47 490.97,309.47 491.36,309.46 491.75,309.46 492.14,309.46 492.53,309.45 492.92,309.45 493.31,309.45 493.70,309.44 494.09,309.44 494.48,309.44 494.87,309.43 495.26,309.43 495.65,309.42 496.04,309.42 496.43,309.42 496.82,309.41 497.21,309.41 497.60,309.41 497.99,309.40 498.38,309.40 498.77,309.40 499.16,309.39 499.55,309.39 499.94,309.39 500.33,309.38 500.72,309.38 501.11,309.37 501.50,309.37 501.89,309.37 502.28,309.36 502.67,309.36 503.06,309.36 503.45,309.35 503.84,309.35 504.23,309.35 504.62,309.34 505.01,309.34 505.40,309.34 505.79,309.33 506.18,309.33 506.57,309.32 506.96,309.32 507.35,309.32 507.74,309.31 508.13,309.31 508.52,309.31 508.91,309.30 509.30,309.30 509.69,309.30 510.08,309.29 510.47,309.29 510.86,309.28 511.25,309.28 511.64,309.28 512.03,309.27 512.42,309.27 512.81,309.27 513.20,309.26" fill="none" stroke="#8200e6" stroke-width="2.9" stroke-linejoin="round" stroke-linecap="butt"/>
<polyline points="326.78,312.70 327.17,312.64 327.56,312.58 327.95,312.52 328.34,312.46 328.73,312.40 329.12,312.34 329.51,312.28 329.90,312.22 330.29,312.16 330.68,312.10 331.07,312.04 331.46,311.98 331.85,311.92 332.24,311.86 332.63,311.80 333.02,311.73 333.41,311.67 333.80,311.61 334.19,311.55 334.58,311.49 334.97,311.43 335.36,311.37 335.75,311.31 336.14,311.25 336.53,311.19 336.92,311.13 337.31,311.07 337.70,311.01 338.09,310.97 338.48,310.94 338.87,310.92 339.26,310.90 339.65,310.87 340.04,310.85 340.43,310.83 340.82,310.80 341.21,310.78 341.60,310.75 341.99,310.73 342.38,310.71 342.77,310.68 343.16,310.66 343.55,310.63 343.94,310.61 344.33,310.59 344.72,310.56 345.11,310.54 345.50,310.52 345.89,310.49 346.28,310.47 346.67,310.44 347.06,310.42 347.45,310.40 347.84,310.37 348.23,310.35 348.62,310.37 349.01,310.43 349.40,310.49 349.79,310.56 350.18,310.62 350.57,310.68 350.96,310.74 351.35,310.81 351.74,310.87 352.13,310.93 352.52,310.99 352.91,311.06 353.30,311.12 353.69,311.18 354.08,311.24 354.47,311.31 354.86,311.37 355.25,311.43 355.64,311.50 356.03,311.56 356.42,311.62 356.81,311.68 357.20,311.75 357.59,311.81 357.98,311.87 358.37,311.93 358.76,311.99 359.15,312.05 359.54,312.11 359.93,312.17 360.32,312.23 360.71,312.29 361.10,312.35 361.49,312.41 361.88,312.48 362.27,312.54 362.66,312.60 363.05,312.66 363.44,312.72 363.83,312.78 364.22,312.84 364.61,312.90 365.00,312.96 365.39,313.02 365.78,313.08 366.17,313.14 366.56,313.20 366.95,313.26 367.34,313.32 367.73,313.38 368.12,313.44 368.51,313.50 368.90,313.56 369.29,313.62 369.68,313.68 370.07,313.74 370.46,313.78 370.85,313.78 371.24,313.79 371.63,313.79 372.02,313.80 372.41,313.81 372.80,313.81 373.19,313.82 373.58,313.82 373.97,313.83 374.36,313.83 374.75,313.84 375.14,313.85 375.53,313.85 375.92,313.86 376.31,313.86 376.70,313.87 377.09,313.87 377.48,313.88 377.87,313.89 378.26,313.89 378.65,313.90 379.04,313.90 379.43,313.91 379.82,313.91 380.21,313.92 380.60,313.93 380.99,313.93 381.38,313.94 381.77,313.94 382.16,313.95 382.55,313.95 382.94,313.96 383.33,313.97 383.72,313.97 384.11,313.98 384.50,313.98 384.89,313.99 385.28,313.99 385.67,314.00 386.06,314.01 386.45,314.01 386.84,314.02 387.23,314.02 387.62,314.03 388.01,314.03 388.40,314.04 388.79,314.05 389.18,314.05 389.57,314.06 389.96,314.06 390.35,314.07 390.74,314.07 391.13,314.08 391.52,314.09 391.91,314.09 392.30,314.10 392.69,314.10 393.08,314.11 393.47,314.11 393.86,314.12 394.25,314.13 394.64,314.13 395.03,314.14 395.42,314.14 395.81,314.15 396.20,314.15 396.59,314.16 396.98,314.17 397.37,314.17 397.76,314.18 398.15,314.18 398.54,314.19 398.93,314.19 399.32,314.20 399.71,314.21 400.10,314.21 400.49,314.22 400.88,314.22 401.27,314.23 401.66,314.23 402.05,314.24 402.44,314.25 402.83,314.25 403.22,314.26 403.61,314.26 404.00,314.27 404.39,314.27 404.78,314.28 405.17,314.29 405.56,314.29 405.95,314.30 406.34,314.30 406.73,314.31 407.12,314.31 407.51,314.32 407.90,314.33 408.29,314.33 408.68,314.34 409.07,314.34 409.46,314.35 409.85,314.35 410.24,314.36 410.63,314.36 411.02,314.37 411.41,314.38 411.80,314.38 412.19,314.39 412.58,314.39 412.97,314.40 413.36,314.40 413.75,314.41 414.14,314.42 414.53,314.42 414.92,314.42" fill="none" stroke="#f01414" stroke-width="3.7" stroke-linejoin="round" stroke-linecap="butt"/>
<polyline points="416.09,314.42 416.48,314.42 416.87,314.42 417.26,314.42 417.65,314.42 418.04,314.42 418.43,314.42 418.82,314.42 419.21,314.42 419.60,314.42 419.99,314.42 420.38,314.43 420.77,314.45 421.16,314.47 421.55,314.49 421.94,314.52 422.33,314.54 422.72,314.56 423.11,314.58 423.50,314.60 423.89,314.62 424.28,314.64 424.67,314.67 425.06,314.69 425.45,314.71 425.84,314.73 426.23,314.75 426.62,314.77 427.01,314.80 427.40,314.82 427.79,314.84 428.18,314.86 428.57,314.88 428.96,314.90 429.35,314.92 429.74,314.95 430.13,314.97 430.52,314.99 430.91,315.01 431.30,315.03 431.69,315.05 432.08,315.07 432.47,315.10 432.86,315.12 433.25,315.14 433.64,315.16 434.03,315.18 434.42,315.20 434.81,315.23 435.20,315.25 435.59,315.27 435.98,315.29 436.37,315.31 436.76,315.33 437.15,315.35 437.54,315.38 437.93,315.40 438.32,315.42 438.71,315.44 439.10,315.46 439.49,315.48 439.88,315.50 440.27,315.53 440.66,315.55 441.05,315.57 441.44,315.59 441.83,315.61 442.22,315.63 442.61,315.65 443.00,315.68 443.39,315.70 443.78,315.72 444.17,315.74 444.56,315.76 444.95,315.78 445.34,315.81 445.73,315.83 446.12,315.85 446.51,315.87 446.90,315.89 447.29,315.91 447.68,315.95 448.07,316.01 448.46,316.07 448.85,316.13 449.24,316.19 449.63,316.25 450.02,316.30 450.41,316.36 450.80,316.42 451.19,316.48 451.58,316.54 451.97,316.96 452.36,317.73 452.75,318.50 453.14,319.28 453.53,320.05 453.92,320.43 454.31,320.42 454.70,320.41 455.09,320.40 455.48,320.39 455.87,320.38 456.26,320.37 456.65,320.36 457.04,320.35 457.43,320.34 457.82,320.33 458.21,320.32 458.60,320.31 458.99,320.30 459.38,320.29 459.77,320.28 460.16,320.27 460.55,320.26 460.94,320.25 461.33,320.24 461.72,320.23 462.11,320.22 462.50,320.21 462.89,320.20 463.28,320.19 463.67,320.18 464.06,320.17 464.45,320.15 464.84,320.14 465.23,320.13 465.62,320.12 466.01,320.11 466.40,320.10 466.79,320.09 467.18,320.08 467.57,320.07 467.96,320.06 468.35,320.05 468.74,320.04 469.13,320.03 469.52,320.02 469.91,320.01 470.30,320.03 470.69,320.06 471.08,320.10 471.47,320.14 471.86,320.17 472.25,320.21 472.64,320.25 473.03,320.28 473.42,320.32 473.81,320.36 474.20,320.40 474.59,320.43 474.98,320.47 475.37,320.51 475.76,320.54 476.15,320.58 476.54,320.62 476.93,320.66 477.32,320.69 477.71,320.73 478.10,320.77 478.49,320.80 478.88,320.84 479.27,320.88 479.66,320.91 480.05,320.95 480.44,320.99 480.83,321.03 481.22,321.06 481.61,321.10 482.00,321.14 482.39,321.17 482.78,321.21 483.17,321.25 483.56,321.28 483.95,321.32 484.34,321.36 484.73,321.40 485.12,321.43 485.51,321.47 485.90,321.51 486.29,321.54 486.68,321.58 487.07,321.62 487.46,321.66 487.85,321.69 488.24,321.73 488.63,321.77 489.02,321.80 489.41,321.84 489.80,321.88 490.19,321.91 490.58,321.95 490.97,321.99 491.36,322.03 491.75,322.06 492.14,322.10 492.53,322.14 492.92,322.15 493.31,322.14 493.70,322.14 494.09,322.13 494.48,322.12 494.87,322.11 495.26,322.10 495.65,322.09 496.04,322.09 496.43,322.08 496.82,322.07 497.21,322.06 497.60,322.05 497.99,322.05 498.38,322.04 498.77,322.03 499.16,322.02 499.55,322.01 499.94,322.01 500.33,322.00 500.72,321.99 501.11,321.98 501.50,321.97 501.89,321.97 502.28,321.96 502.67,321.95 503.06,321.94 503.45,321.93 503.84,321.92 504.23,321.92 504.62,321.91 505.01,321.90 505.40,321.89 505.79,321.88 506.18,321.88 506.57,321.87 506.96,321.86 507.35,321.85 507.74,321.84 508.13,321.84 508.52,321.83 508.91,321.82 509.30,321.81 509.69,321.80 510.08,321.79 510.47,321.79 510.86,321.78 511.25,321.77 511.64,321.76 512.03,321.75 512.42,321.75 512.81,321.74 513.20,321.73" fill="none" stroke="#f01414" stroke-width="3.7" stroke-linejoin="round" stroke-linecap="butt"/>
<rect x="323.40" y="428.00" width="76.10" height="48.20" fill="none" stroke="#b0b0b0" stroke-width="1"/>
<rect x="333.30" y="432.80" width="3.2" height="3.2" fill="#0db40d"/>
<text x="348.20" y="437.60" class="lg">NS</text>
<circle cx="334.90" cy="446.00" r="1.8" fill="#2ea2f0"/>
<text x="348.20" y="449.20" class="lg">EW</text>
<path d="M332.70,459.30L337.10,459.30L334.90,455.50Z" fill="#8200e6"/>
<text x="348.20" y="460.80" class="lg">vertical SPF</text>
<path d="M332.70,467.50L337.10,467.50L334.90,471.30Z" fill="#f01414"/>
<text x="348.20" y="472.40" class="lg">vertical nSPF</text>
</svg>
</body></html>
